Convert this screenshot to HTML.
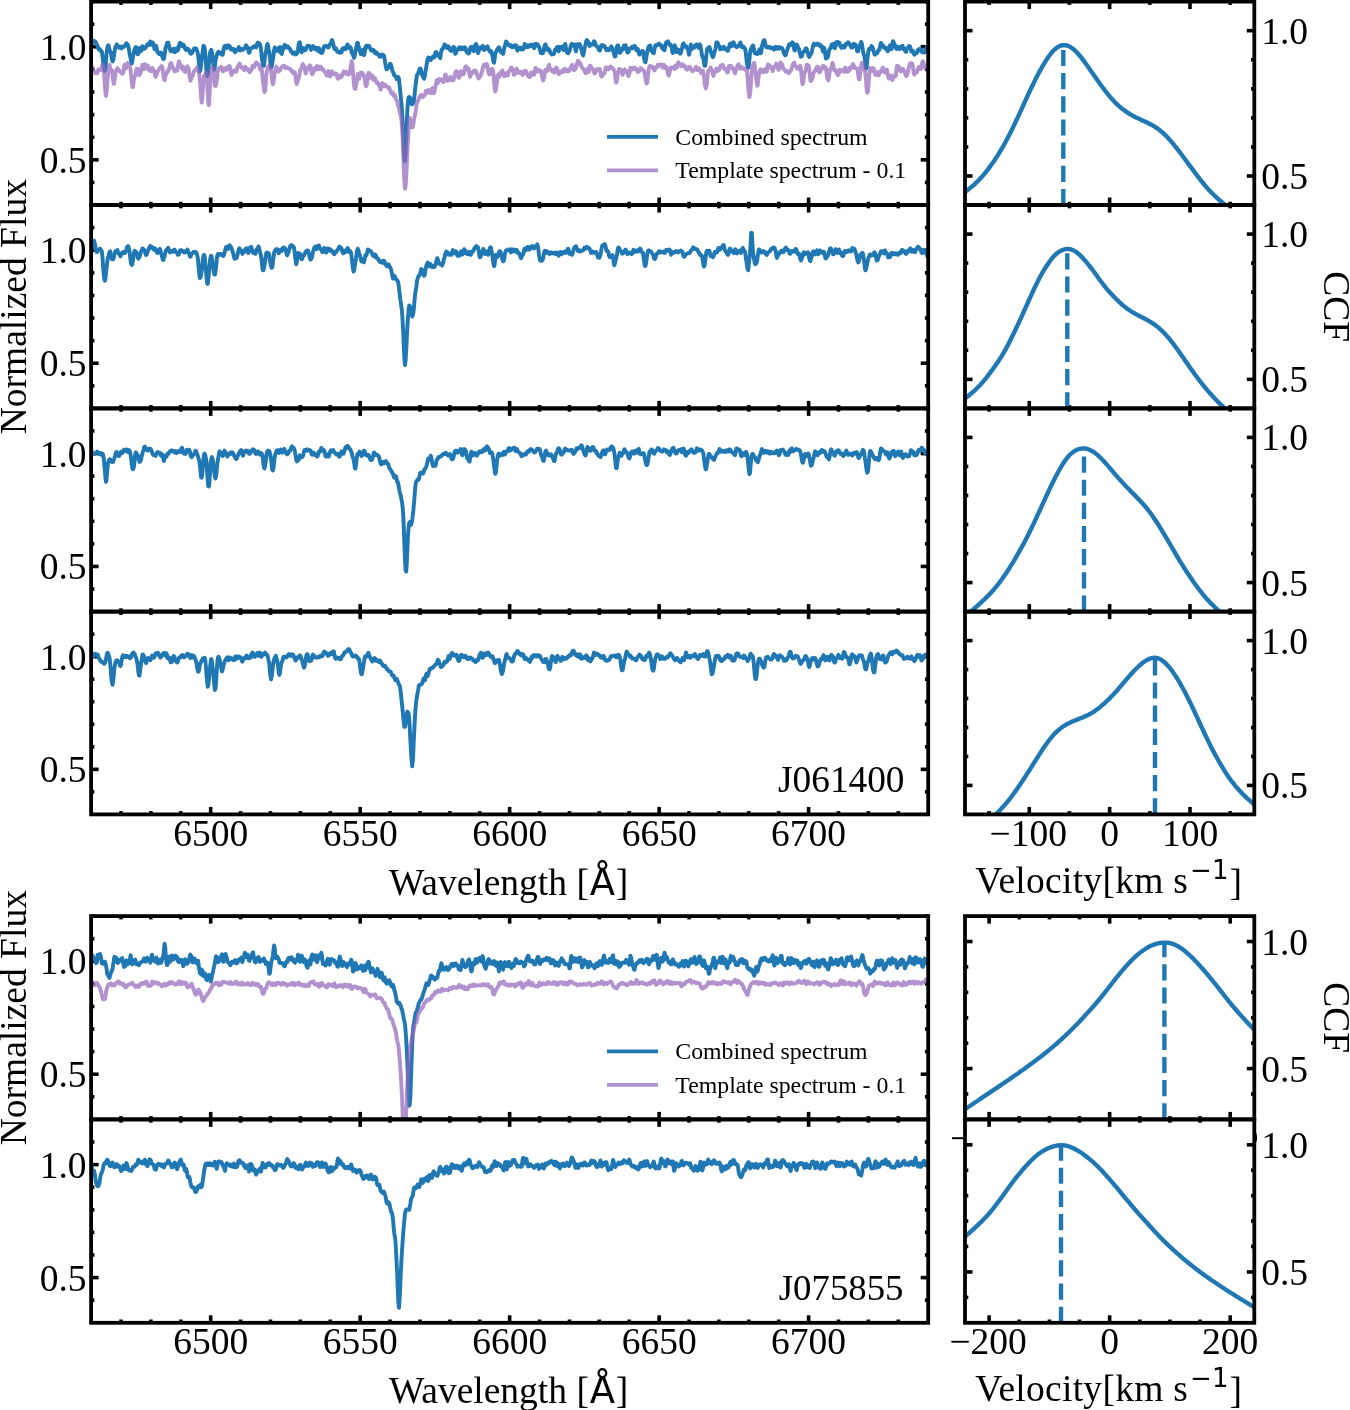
<!DOCTYPE html>
<html lang="en"><head><meta charset="utf-8"><title>Spectra and CCF</title>
<style>html,body{margin:0;padding:0;background:#fff}svg{display:block}</style></head>
<body>
<svg width="1350" height="1410" viewBox="0 0 1350 1410">
<rect x="0" y="0" width="1350" height="1410" fill="#fff"/>
<defs>
<clipPath id="cl0"><rect x="91.1" y="1.6" width="837.10" height="203.45"/></clipPath>
<clipPath id="cr0"><rect x="965.0" y="1.6" width="289.30" height="203.45"/></clipPath>
<clipPath id="cl1"><rect x="91.1" y="205.05" width="837.10" height="203.35"/></clipPath>
<clipPath id="cr1"><rect x="965.0" y="205.05" width="289.30" height="203.35"/></clipPath>
<clipPath id="cl2"><rect x="91.1" y="408.4" width="837.10" height="203.20"/></clipPath>
<clipPath id="cr2"><rect x="965.0" y="408.4" width="289.30" height="203.20"/></clipPath>
<clipPath id="cl3"><rect x="91.1" y="611.6" width="837.10" height="202.80"/></clipPath>
<clipPath id="cr3"><rect x="965.0" y="611.6" width="289.30" height="202.80"/></clipPath>
<clipPath id="cl4"><rect x="91.1" y="916.1" width="837.10" height="203.30"/></clipPath>
<clipPath id="cr4"><rect x="965.0" y="916.1" width="289.30" height="203.30"/></clipPath>
<clipPath id="cl5"><rect x="91.1" y="1119.4" width="837.10" height="203.40"/></clipPath>
<clipPath id="cr5"><rect x="965.0" y="1119.4" width="289.30" height="203.40"/></clipPath>
</defs>
<g id="ticks">
<line x1="210.69" y1="205.05" x2="210.69" y2="197.55" stroke="#000" stroke-width="3.6" />
<line x1="210.69" y1="1.60" x2="210.69" y2="9.10" stroke="#000" stroke-width="3.6" />
<line x1="360.17" y1="205.05" x2="360.17" y2="197.55" stroke="#000" stroke-width="3.6" />
<line x1="360.17" y1="1.60" x2="360.17" y2="9.10" stroke="#000" stroke-width="3.6" />
<line x1="509.65" y1="205.05" x2="509.65" y2="197.55" stroke="#000" stroke-width="3.6" />
<line x1="509.65" y1="1.60" x2="509.65" y2="9.10" stroke="#000" stroke-width="3.6" />
<line x1="659.13" y1="205.05" x2="659.13" y2="197.55" stroke="#000" stroke-width="3.6" />
<line x1="659.13" y1="1.60" x2="659.13" y2="9.10" stroke="#000" stroke-width="3.6" />
<line x1="808.61" y1="205.05" x2="808.61" y2="197.55" stroke="#000" stroke-width="3.6" />
<line x1="808.61" y1="1.60" x2="808.61" y2="9.10" stroke="#000" stroke-width="3.6" />
<line x1="121.00" y1="205.05" x2="121.00" y2="201.75" stroke="#000" stroke-width="3.6" />
<line x1="121.00" y1="1.60" x2="121.00" y2="4.90" stroke="#000" stroke-width="3.6" />
<line x1="150.89" y1="205.05" x2="150.89" y2="201.75" stroke="#000" stroke-width="3.6" />
<line x1="150.89" y1="1.60" x2="150.89" y2="4.90" stroke="#000" stroke-width="3.6" />
<line x1="180.79" y1="205.05" x2="180.79" y2="201.75" stroke="#000" stroke-width="3.6" />
<line x1="180.79" y1="1.60" x2="180.79" y2="4.90" stroke="#000" stroke-width="3.6" />
<line x1="240.58" y1="205.05" x2="240.58" y2="201.75" stroke="#000" stroke-width="3.6" />
<line x1="240.58" y1="1.60" x2="240.58" y2="4.90" stroke="#000" stroke-width="3.6" />
<line x1="270.48" y1="205.05" x2="270.48" y2="201.75" stroke="#000" stroke-width="3.6" />
<line x1="270.48" y1="1.60" x2="270.48" y2="4.90" stroke="#000" stroke-width="3.6" />
<line x1="300.38" y1="205.05" x2="300.38" y2="201.75" stroke="#000" stroke-width="3.6" />
<line x1="300.38" y1="1.60" x2="300.38" y2="4.90" stroke="#000" stroke-width="3.6" />
<line x1="330.27" y1="205.05" x2="330.27" y2="201.75" stroke="#000" stroke-width="3.6" />
<line x1="330.27" y1="1.60" x2="330.27" y2="4.90" stroke="#000" stroke-width="3.6" />
<line x1="390.06" y1="205.05" x2="390.06" y2="201.75" stroke="#000" stroke-width="3.6" />
<line x1="390.06" y1="1.60" x2="390.06" y2="4.90" stroke="#000" stroke-width="3.6" />
<line x1="419.96" y1="205.05" x2="419.96" y2="201.75" stroke="#000" stroke-width="3.6" />
<line x1="419.96" y1="1.60" x2="419.96" y2="4.90" stroke="#000" stroke-width="3.6" />
<line x1="449.86" y1="205.05" x2="449.86" y2="201.75" stroke="#000" stroke-width="3.6" />
<line x1="449.86" y1="1.60" x2="449.86" y2="4.90" stroke="#000" stroke-width="3.6" />
<line x1="479.75" y1="205.05" x2="479.75" y2="201.75" stroke="#000" stroke-width="3.6" />
<line x1="479.75" y1="1.60" x2="479.75" y2="4.90" stroke="#000" stroke-width="3.6" />
<line x1="539.55" y1="205.05" x2="539.55" y2="201.75" stroke="#000" stroke-width="3.6" />
<line x1="539.55" y1="1.60" x2="539.55" y2="4.90" stroke="#000" stroke-width="3.6" />
<line x1="569.44" y1="205.05" x2="569.44" y2="201.75" stroke="#000" stroke-width="3.6" />
<line x1="569.44" y1="1.60" x2="569.44" y2="4.90" stroke="#000" stroke-width="3.6" />
<line x1="599.34" y1="205.05" x2="599.34" y2="201.75" stroke="#000" stroke-width="3.6" />
<line x1="599.34" y1="1.60" x2="599.34" y2="4.90" stroke="#000" stroke-width="3.6" />
<line x1="629.24" y1="205.05" x2="629.24" y2="201.75" stroke="#000" stroke-width="3.6" />
<line x1="629.24" y1="1.60" x2="629.24" y2="4.90" stroke="#000" stroke-width="3.6" />
<line x1="689.03" y1="205.05" x2="689.03" y2="201.75" stroke="#000" stroke-width="3.6" />
<line x1="689.03" y1="1.60" x2="689.03" y2="4.90" stroke="#000" stroke-width="3.6" />
<line x1="718.93" y1="205.05" x2="718.93" y2="201.75" stroke="#000" stroke-width="3.6" />
<line x1="718.93" y1="1.60" x2="718.93" y2="4.90" stroke="#000" stroke-width="3.6" />
<line x1="748.82" y1="205.05" x2="748.82" y2="201.75" stroke="#000" stroke-width="3.6" />
<line x1="748.82" y1="1.60" x2="748.82" y2="4.90" stroke="#000" stroke-width="3.6" />
<line x1="778.72" y1="205.05" x2="778.72" y2="201.75" stroke="#000" stroke-width="3.6" />
<line x1="778.72" y1="1.60" x2="778.72" y2="4.90" stroke="#000" stroke-width="3.6" />
<line x1="838.51" y1="205.05" x2="838.51" y2="201.75" stroke="#000" stroke-width="3.6" />
<line x1="838.51" y1="1.60" x2="838.51" y2="4.90" stroke="#000" stroke-width="3.6" />
<line x1="868.41" y1="205.05" x2="868.41" y2="201.75" stroke="#000" stroke-width="3.6" />
<line x1="868.41" y1="1.60" x2="868.41" y2="4.90" stroke="#000" stroke-width="3.6" />
<line x1="898.30" y1="205.05" x2="898.30" y2="201.75" stroke="#000" stroke-width="3.6" />
<line x1="898.30" y1="1.60" x2="898.30" y2="4.90" stroke="#000" stroke-width="3.6" />
<line x1="91.10" y1="159.84" x2="98.60" y2="159.84" stroke="#000" stroke-width="3.6" />
<line x1="928.20" y1="159.84" x2="920.70" y2="159.84" stroke="#000" stroke-width="3.6" />
<line x1="91.10" y1="46.81" x2="98.60" y2="46.81" stroke="#000" stroke-width="3.6" />
<line x1="928.20" y1="46.81" x2="920.70" y2="46.81" stroke="#000" stroke-width="3.6" />
<line x1="91.10" y1="182.44" x2="94.40" y2="182.44" stroke="#000" stroke-width="3.6" />
<line x1="928.20" y1="182.44" x2="924.90" y2="182.44" stroke="#000" stroke-width="3.6" />
<line x1="91.10" y1="137.23" x2="94.40" y2="137.23" stroke="#000" stroke-width="3.6" />
<line x1="928.20" y1="137.23" x2="924.90" y2="137.23" stroke="#000" stroke-width="3.6" />
<line x1="91.10" y1="114.63" x2="94.40" y2="114.63" stroke="#000" stroke-width="3.6" />
<line x1="928.20" y1="114.63" x2="924.90" y2="114.63" stroke="#000" stroke-width="3.6" />
<line x1="91.10" y1="92.02" x2="94.40" y2="92.02" stroke="#000" stroke-width="3.6" />
<line x1="928.20" y1="92.02" x2="924.90" y2="92.02" stroke="#000" stroke-width="3.6" />
<line x1="91.10" y1="69.42" x2="94.40" y2="69.42" stroke="#000" stroke-width="3.6" />
<line x1="928.20" y1="69.42" x2="924.90" y2="69.42" stroke="#000" stroke-width="3.6" />
<line x1="91.10" y1="24.21" x2="94.40" y2="24.21" stroke="#000" stroke-width="3.6" />
<line x1="928.20" y1="24.21" x2="924.90" y2="24.21" stroke="#000" stroke-width="3.6" />
<line x1="91.10" y1="1.60" x2="94.40" y2="1.60" stroke="#000" stroke-width="3.6" />
<line x1="928.20" y1="1.60" x2="924.90" y2="1.60" stroke="#000" stroke-width="3.6" />
<line x1="210.69" y1="408.40" x2="210.69" y2="400.90" stroke="#000" stroke-width="3.6" />
<line x1="210.69" y1="205.05" x2="210.69" y2="212.55" stroke="#000" stroke-width="3.6" />
<line x1="360.17" y1="408.40" x2="360.17" y2="400.90" stroke="#000" stroke-width="3.6" />
<line x1="360.17" y1="205.05" x2="360.17" y2="212.55" stroke="#000" stroke-width="3.6" />
<line x1="509.65" y1="408.40" x2="509.65" y2="400.90" stroke="#000" stroke-width="3.6" />
<line x1="509.65" y1="205.05" x2="509.65" y2="212.55" stroke="#000" stroke-width="3.6" />
<line x1="659.13" y1="408.40" x2="659.13" y2="400.90" stroke="#000" stroke-width="3.6" />
<line x1="659.13" y1="205.05" x2="659.13" y2="212.55" stroke="#000" stroke-width="3.6" />
<line x1="808.61" y1="408.40" x2="808.61" y2="400.90" stroke="#000" stroke-width="3.6" />
<line x1="808.61" y1="205.05" x2="808.61" y2="212.55" stroke="#000" stroke-width="3.6" />
<line x1="121.00" y1="408.40" x2="121.00" y2="405.10" stroke="#000" stroke-width="3.6" />
<line x1="121.00" y1="205.05" x2="121.00" y2="208.35" stroke="#000" stroke-width="3.6" />
<line x1="150.89" y1="408.40" x2="150.89" y2="405.10" stroke="#000" stroke-width="3.6" />
<line x1="150.89" y1="205.05" x2="150.89" y2="208.35" stroke="#000" stroke-width="3.6" />
<line x1="180.79" y1="408.40" x2="180.79" y2="405.10" stroke="#000" stroke-width="3.6" />
<line x1="180.79" y1="205.05" x2="180.79" y2="208.35" stroke="#000" stroke-width="3.6" />
<line x1="240.58" y1="408.40" x2="240.58" y2="405.10" stroke="#000" stroke-width="3.6" />
<line x1="240.58" y1="205.05" x2="240.58" y2="208.35" stroke="#000" stroke-width="3.6" />
<line x1="270.48" y1="408.40" x2="270.48" y2="405.10" stroke="#000" stroke-width="3.6" />
<line x1="270.48" y1="205.05" x2="270.48" y2="208.35" stroke="#000" stroke-width="3.6" />
<line x1="300.38" y1="408.40" x2="300.38" y2="405.10" stroke="#000" stroke-width="3.6" />
<line x1="300.38" y1="205.05" x2="300.38" y2="208.35" stroke="#000" stroke-width="3.6" />
<line x1="330.27" y1="408.40" x2="330.27" y2="405.10" stroke="#000" stroke-width="3.6" />
<line x1="330.27" y1="205.05" x2="330.27" y2="208.35" stroke="#000" stroke-width="3.6" />
<line x1="390.06" y1="408.40" x2="390.06" y2="405.10" stroke="#000" stroke-width="3.6" />
<line x1="390.06" y1="205.05" x2="390.06" y2="208.35" stroke="#000" stroke-width="3.6" />
<line x1="419.96" y1="408.40" x2="419.96" y2="405.10" stroke="#000" stroke-width="3.6" />
<line x1="419.96" y1="205.05" x2="419.96" y2="208.35" stroke="#000" stroke-width="3.6" />
<line x1="449.86" y1="408.40" x2="449.86" y2="405.10" stroke="#000" stroke-width="3.6" />
<line x1="449.86" y1="205.05" x2="449.86" y2="208.35" stroke="#000" stroke-width="3.6" />
<line x1="479.75" y1="408.40" x2="479.75" y2="405.10" stroke="#000" stroke-width="3.6" />
<line x1="479.75" y1="205.05" x2="479.75" y2="208.35" stroke="#000" stroke-width="3.6" />
<line x1="539.55" y1="408.40" x2="539.55" y2="405.10" stroke="#000" stroke-width="3.6" />
<line x1="539.55" y1="205.05" x2="539.55" y2="208.35" stroke="#000" stroke-width="3.6" />
<line x1="569.44" y1="408.40" x2="569.44" y2="405.10" stroke="#000" stroke-width="3.6" />
<line x1="569.44" y1="205.05" x2="569.44" y2="208.35" stroke="#000" stroke-width="3.6" />
<line x1="599.34" y1="408.40" x2="599.34" y2="405.10" stroke="#000" stroke-width="3.6" />
<line x1="599.34" y1="205.05" x2="599.34" y2="208.35" stroke="#000" stroke-width="3.6" />
<line x1="629.24" y1="408.40" x2="629.24" y2="405.10" stroke="#000" stroke-width="3.6" />
<line x1="629.24" y1="205.05" x2="629.24" y2="208.35" stroke="#000" stroke-width="3.6" />
<line x1="689.03" y1="408.40" x2="689.03" y2="405.10" stroke="#000" stroke-width="3.6" />
<line x1="689.03" y1="205.05" x2="689.03" y2="208.35" stroke="#000" stroke-width="3.6" />
<line x1="718.93" y1="408.40" x2="718.93" y2="405.10" stroke="#000" stroke-width="3.6" />
<line x1="718.93" y1="205.05" x2="718.93" y2="208.35" stroke="#000" stroke-width="3.6" />
<line x1="748.82" y1="408.40" x2="748.82" y2="405.10" stroke="#000" stroke-width="3.6" />
<line x1="748.82" y1="205.05" x2="748.82" y2="208.35" stroke="#000" stroke-width="3.6" />
<line x1="778.72" y1="408.40" x2="778.72" y2="405.10" stroke="#000" stroke-width="3.6" />
<line x1="778.72" y1="205.05" x2="778.72" y2="208.35" stroke="#000" stroke-width="3.6" />
<line x1="838.51" y1="408.40" x2="838.51" y2="405.10" stroke="#000" stroke-width="3.6" />
<line x1="838.51" y1="205.05" x2="838.51" y2="208.35" stroke="#000" stroke-width="3.6" />
<line x1="868.41" y1="408.40" x2="868.41" y2="405.10" stroke="#000" stroke-width="3.6" />
<line x1="868.41" y1="205.05" x2="868.41" y2="208.35" stroke="#000" stroke-width="3.6" />
<line x1="898.30" y1="408.40" x2="898.30" y2="405.10" stroke="#000" stroke-width="3.6" />
<line x1="898.30" y1="205.05" x2="898.30" y2="208.35" stroke="#000" stroke-width="3.6" />
<line x1="91.10" y1="363.21" x2="98.60" y2="363.21" stroke="#000" stroke-width="3.6" />
<line x1="928.20" y1="363.21" x2="920.70" y2="363.21" stroke="#000" stroke-width="3.6" />
<line x1="91.10" y1="250.24" x2="98.60" y2="250.24" stroke="#000" stroke-width="3.6" />
<line x1="928.20" y1="250.24" x2="920.70" y2="250.24" stroke="#000" stroke-width="3.6" />
<line x1="91.10" y1="385.81" x2="94.40" y2="385.81" stroke="#000" stroke-width="3.6" />
<line x1="928.20" y1="385.81" x2="924.90" y2="385.81" stroke="#000" stroke-width="3.6" />
<line x1="91.10" y1="340.62" x2="94.40" y2="340.62" stroke="#000" stroke-width="3.6" />
<line x1="928.20" y1="340.62" x2="924.90" y2="340.62" stroke="#000" stroke-width="3.6" />
<line x1="91.10" y1="318.02" x2="94.40" y2="318.02" stroke="#000" stroke-width="3.6" />
<line x1="928.20" y1="318.02" x2="924.90" y2="318.02" stroke="#000" stroke-width="3.6" />
<line x1="91.10" y1="295.43" x2="94.40" y2="295.43" stroke="#000" stroke-width="3.6" />
<line x1="928.20" y1="295.43" x2="924.90" y2="295.43" stroke="#000" stroke-width="3.6" />
<line x1="91.10" y1="272.83" x2="94.40" y2="272.83" stroke="#000" stroke-width="3.6" />
<line x1="928.20" y1="272.83" x2="924.90" y2="272.83" stroke="#000" stroke-width="3.6" />
<line x1="91.10" y1="227.64" x2="94.40" y2="227.64" stroke="#000" stroke-width="3.6" />
<line x1="928.20" y1="227.64" x2="924.90" y2="227.64" stroke="#000" stroke-width="3.6" />
<line x1="91.10" y1="205.05" x2="94.40" y2="205.05" stroke="#000" stroke-width="3.6" />
<line x1="928.20" y1="205.05" x2="924.90" y2="205.05" stroke="#000" stroke-width="3.6" />
<line x1="210.69" y1="611.60" x2="210.69" y2="604.10" stroke="#000" stroke-width="3.6" />
<line x1="210.69" y1="408.40" x2="210.69" y2="415.90" stroke="#000" stroke-width="3.6" />
<line x1="360.17" y1="611.60" x2="360.17" y2="604.10" stroke="#000" stroke-width="3.6" />
<line x1="360.17" y1="408.40" x2="360.17" y2="415.90" stroke="#000" stroke-width="3.6" />
<line x1="509.65" y1="611.60" x2="509.65" y2="604.10" stroke="#000" stroke-width="3.6" />
<line x1="509.65" y1="408.40" x2="509.65" y2="415.90" stroke="#000" stroke-width="3.6" />
<line x1="659.13" y1="611.60" x2="659.13" y2="604.10" stroke="#000" stroke-width="3.6" />
<line x1="659.13" y1="408.40" x2="659.13" y2="415.90" stroke="#000" stroke-width="3.6" />
<line x1="808.61" y1="611.60" x2="808.61" y2="604.10" stroke="#000" stroke-width="3.6" />
<line x1="808.61" y1="408.40" x2="808.61" y2="415.90" stroke="#000" stroke-width="3.6" />
<line x1="121.00" y1="611.60" x2="121.00" y2="608.30" stroke="#000" stroke-width="3.6" />
<line x1="121.00" y1="408.40" x2="121.00" y2="411.70" stroke="#000" stroke-width="3.6" />
<line x1="150.89" y1="611.60" x2="150.89" y2="608.30" stroke="#000" stroke-width="3.6" />
<line x1="150.89" y1="408.40" x2="150.89" y2="411.70" stroke="#000" stroke-width="3.6" />
<line x1="180.79" y1="611.60" x2="180.79" y2="608.30" stroke="#000" stroke-width="3.6" />
<line x1="180.79" y1="408.40" x2="180.79" y2="411.70" stroke="#000" stroke-width="3.6" />
<line x1="240.58" y1="611.60" x2="240.58" y2="608.30" stroke="#000" stroke-width="3.6" />
<line x1="240.58" y1="408.40" x2="240.58" y2="411.70" stroke="#000" stroke-width="3.6" />
<line x1="270.48" y1="611.60" x2="270.48" y2="608.30" stroke="#000" stroke-width="3.6" />
<line x1="270.48" y1="408.40" x2="270.48" y2="411.70" stroke="#000" stroke-width="3.6" />
<line x1="300.38" y1="611.60" x2="300.38" y2="608.30" stroke="#000" stroke-width="3.6" />
<line x1="300.38" y1="408.40" x2="300.38" y2="411.70" stroke="#000" stroke-width="3.6" />
<line x1="330.27" y1="611.60" x2="330.27" y2="608.30" stroke="#000" stroke-width="3.6" />
<line x1="330.27" y1="408.40" x2="330.27" y2="411.70" stroke="#000" stroke-width="3.6" />
<line x1="390.06" y1="611.60" x2="390.06" y2="608.30" stroke="#000" stroke-width="3.6" />
<line x1="390.06" y1="408.40" x2="390.06" y2="411.70" stroke="#000" stroke-width="3.6" />
<line x1="419.96" y1="611.60" x2="419.96" y2="608.30" stroke="#000" stroke-width="3.6" />
<line x1="419.96" y1="408.40" x2="419.96" y2="411.70" stroke="#000" stroke-width="3.6" />
<line x1="449.86" y1="611.60" x2="449.86" y2="608.30" stroke="#000" stroke-width="3.6" />
<line x1="449.86" y1="408.40" x2="449.86" y2="411.70" stroke="#000" stroke-width="3.6" />
<line x1="479.75" y1="611.60" x2="479.75" y2="608.30" stroke="#000" stroke-width="3.6" />
<line x1="479.75" y1="408.40" x2="479.75" y2="411.70" stroke="#000" stroke-width="3.6" />
<line x1="539.55" y1="611.60" x2="539.55" y2="608.30" stroke="#000" stroke-width="3.6" />
<line x1="539.55" y1="408.40" x2="539.55" y2="411.70" stroke="#000" stroke-width="3.6" />
<line x1="569.44" y1="611.60" x2="569.44" y2="608.30" stroke="#000" stroke-width="3.6" />
<line x1="569.44" y1="408.40" x2="569.44" y2="411.70" stroke="#000" stroke-width="3.6" />
<line x1="599.34" y1="611.60" x2="599.34" y2="608.30" stroke="#000" stroke-width="3.6" />
<line x1="599.34" y1="408.40" x2="599.34" y2="411.70" stroke="#000" stroke-width="3.6" />
<line x1="629.24" y1="611.60" x2="629.24" y2="608.30" stroke="#000" stroke-width="3.6" />
<line x1="629.24" y1="408.40" x2="629.24" y2="411.70" stroke="#000" stroke-width="3.6" />
<line x1="689.03" y1="611.60" x2="689.03" y2="608.30" stroke="#000" stroke-width="3.6" />
<line x1="689.03" y1="408.40" x2="689.03" y2="411.70" stroke="#000" stroke-width="3.6" />
<line x1="718.93" y1="611.60" x2="718.93" y2="608.30" stroke="#000" stroke-width="3.6" />
<line x1="718.93" y1="408.40" x2="718.93" y2="411.70" stroke="#000" stroke-width="3.6" />
<line x1="748.82" y1="611.60" x2="748.82" y2="608.30" stroke="#000" stroke-width="3.6" />
<line x1="748.82" y1="408.40" x2="748.82" y2="411.70" stroke="#000" stroke-width="3.6" />
<line x1="778.72" y1="611.60" x2="778.72" y2="608.30" stroke="#000" stroke-width="3.6" />
<line x1="778.72" y1="408.40" x2="778.72" y2="411.70" stroke="#000" stroke-width="3.6" />
<line x1="838.51" y1="611.60" x2="838.51" y2="608.30" stroke="#000" stroke-width="3.6" />
<line x1="838.51" y1="408.40" x2="838.51" y2="411.70" stroke="#000" stroke-width="3.6" />
<line x1="868.41" y1="611.60" x2="868.41" y2="608.30" stroke="#000" stroke-width="3.6" />
<line x1="868.41" y1="408.40" x2="868.41" y2="411.70" stroke="#000" stroke-width="3.6" />
<line x1="898.30" y1="611.60" x2="898.30" y2="608.30" stroke="#000" stroke-width="3.6" />
<line x1="898.30" y1="408.40" x2="898.30" y2="411.70" stroke="#000" stroke-width="3.6" />
<line x1="91.10" y1="566.44" x2="98.60" y2="566.44" stroke="#000" stroke-width="3.6" />
<line x1="928.20" y1="566.44" x2="920.70" y2="566.44" stroke="#000" stroke-width="3.6" />
<line x1="91.10" y1="453.56" x2="98.60" y2="453.56" stroke="#000" stroke-width="3.6" />
<line x1="928.20" y1="453.56" x2="920.70" y2="453.56" stroke="#000" stroke-width="3.6" />
<line x1="91.10" y1="589.02" x2="94.40" y2="589.02" stroke="#000" stroke-width="3.6" />
<line x1="928.20" y1="589.02" x2="924.90" y2="589.02" stroke="#000" stroke-width="3.6" />
<line x1="91.10" y1="543.87" x2="94.40" y2="543.87" stroke="#000" stroke-width="3.6" />
<line x1="928.20" y1="543.87" x2="924.90" y2="543.87" stroke="#000" stroke-width="3.6" />
<line x1="91.10" y1="521.29" x2="94.40" y2="521.29" stroke="#000" stroke-width="3.6" />
<line x1="928.20" y1="521.29" x2="924.90" y2="521.29" stroke="#000" stroke-width="3.6" />
<line x1="91.10" y1="498.71" x2="94.40" y2="498.71" stroke="#000" stroke-width="3.6" />
<line x1="928.20" y1="498.71" x2="924.90" y2="498.71" stroke="#000" stroke-width="3.6" />
<line x1="91.10" y1="476.13" x2="94.40" y2="476.13" stroke="#000" stroke-width="3.6" />
<line x1="928.20" y1="476.13" x2="924.90" y2="476.13" stroke="#000" stroke-width="3.6" />
<line x1="91.10" y1="430.98" x2="94.40" y2="430.98" stroke="#000" stroke-width="3.6" />
<line x1="928.20" y1="430.98" x2="924.90" y2="430.98" stroke="#000" stroke-width="3.6" />
<line x1="91.10" y1="408.40" x2="94.40" y2="408.40" stroke="#000" stroke-width="3.6" />
<line x1="928.20" y1="408.40" x2="924.90" y2="408.40" stroke="#000" stroke-width="3.6" />
<line x1="210.69" y1="814.40" x2="210.69" y2="806.90" stroke="#000" stroke-width="3.6" />
<line x1="210.69" y1="611.60" x2="210.69" y2="619.10" stroke="#000" stroke-width="3.6" />
<line x1="360.17" y1="814.40" x2="360.17" y2="806.90" stroke="#000" stroke-width="3.6" />
<line x1="360.17" y1="611.60" x2="360.17" y2="619.10" stroke="#000" stroke-width="3.6" />
<line x1="509.65" y1="814.40" x2="509.65" y2="806.90" stroke="#000" stroke-width="3.6" />
<line x1="509.65" y1="611.60" x2="509.65" y2="619.10" stroke="#000" stroke-width="3.6" />
<line x1="659.13" y1="814.40" x2="659.13" y2="806.90" stroke="#000" stroke-width="3.6" />
<line x1="659.13" y1="611.60" x2="659.13" y2="619.10" stroke="#000" stroke-width="3.6" />
<line x1="808.61" y1="814.40" x2="808.61" y2="806.90" stroke="#000" stroke-width="3.6" />
<line x1="808.61" y1="611.60" x2="808.61" y2="619.10" stroke="#000" stroke-width="3.6" />
<line x1="121.00" y1="814.40" x2="121.00" y2="811.10" stroke="#000" stroke-width="3.6" />
<line x1="121.00" y1="611.60" x2="121.00" y2="614.90" stroke="#000" stroke-width="3.6" />
<line x1="150.89" y1="814.40" x2="150.89" y2="811.10" stroke="#000" stroke-width="3.6" />
<line x1="150.89" y1="611.60" x2="150.89" y2="614.90" stroke="#000" stroke-width="3.6" />
<line x1="180.79" y1="814.40" x2="180.79" y2="811.10" stroke="#000" stroke-width="3.6" />
<line x1="180.79" y1="611.60" x2="180.79" y2="614.90" stroke="#000" stroke-width="3.6" />
<line x1="240.58" y1="814.40" x2="240.58" y2="811.10" stroke="#000" stroke-width="3.6" />
<line x1="240.58" y1="611.60" x2="240.58" y2="614.90" stroke="#000" stroke-width="3.6" />
<line x1="270.48" y1="814.40" x2="270.48" y2="811.10" stroke="#000" stroke-width="3.6" />
<line x1="270.48" y1="611.60" x2="270.48" y2="614.90" stroke="#000" stroke-width="3.6" />
<line x1="300.38" y1="814.40" x2="300.38" y2="811.10" stroke="#000" stroke-width="3.6" />
<line x1="300.38" y1="611.60" x2="300.38" y2="614.90" stroke="#000" stroke-width="3.6" />
<line x1="330.27" y1="814.40" x2="330.27" y2="811.10" stroke="#000" stroke-width="3.6" />
<line x1="330.27" y1="611.60" x2="330.27" y2="614.90" stroke="#000" stroke-width="3.6" />
<line x1="390.06" y1="814.40" x2="390.06" y2="811.10" stroke="#000" stroke-width="3.6" />
<line x1="390.06" y1="611.60" x2="390.06" y2="614.90" stroke="#000" stroke-width="3.6" />
<line x1="419.96" y1="814.40" x2="419.96" y2="811.10" stroke="#000" stroke-width="3.6" />
<line x1="419.96" y1="611.60" x2="419.96" y2="614.90" stroke="#000" stroke-width="3.6" />
<line x1="449.86" y1="814.40" x2="449.86" y2="811.10" stroke="#000" stroke-width="3.6" />
<line x1="449.86" y1="611.60" x2="449.86" y2="614.90" stroke="#000" stroke-width="3.6" />
<line x1="479.75" y1="814.40" x2="479.75" y2="811.10" stroke="#000" stroke-width="3.6" />
<line x1="479.75" y1="611.60" x2="479.75" y2="614.90" stroke="#000" stroke-width="3.6" />
<line x1="539.55" y1="814.40" x2="539.55" y2="811.10" stroke="#000" stroke-width="3.6" />
<line x1="539.55" y1="611.60" x2="539.55" y2="614.90" stroke="#000" stroke-width="3.6" />
<line x1="569.44" y1="814.40" x2="569.44" y2="811.10" stroke="#000" stroke-width="3.6" />
<line x1="569.44" y1="611.60" x2="569.44" y2="614.90" stroke="#000" stroke-width="3.6" />
<line x1="599.34" y1="814.40" x2="599.34" y2="811.10" stroke="#000" stroke-width="3.6" />
<line x1="599.34" y1="611.60" x2="599.34" y2="614.90" stroke="#000" stroke-width="3.6" />
<line x1="629.24" y1="814.40" x2="629.24" y2="811.10" stroke="#000" stroke-width="3.6" />
<line x1="629.24" y1="611.60" x2="629.24" y2="614.90" stroke="#000" stroke-width="3.6" />
<line x1="689.03" y1="814.40" x2="689.03" y2="811.10" stroke="#000" stroke-width="3.6" />
<line x1="689.03" y1="611.60" x2="689.03" y2="614.90" stroke="#000" stroke-width="3.6" />
<line x1="718.93" y1="814.40" x2="718.93" y2="811.10" stroke="#000" stroke-width="3.6" />
<line x1="718.93" y1="611.60" x2="718.93" y2="614.90" stroke="#000" stroke-width="3.6" />
<line x1="748.82" y1="814.40" x2="748.82" y2="811.10" stroke="#000" stroke-width="3.6" />
<line x1="748.82" y1="611.60" x2="748.82" y2="614.90" stroke="#000" stroke-width="3.6" />
<line x1="778.72" y1="814.40" x2="778.72" y2="811.10" stroke="#000" stroke-width="3.6" />
<line x1="778.72" y1="611.60" x2="778.72" y2="614.90" stroke="#000" stroke-width="3.6" />
<line x1="838.51" y1="814.40" x2="838.51" y2="811.10" stroke="#000" stroke-width="3.6" />
<line x1="838.51" y1="611.60" x2="838.51" y2="614.90" stroke="#000" stroke-width="3.6" />
<line x1="868.41" y1="814.40" x2="868.41" y2="811.10" stroke="#000" stroke-width="3.6" />
<line x1="868.41" y1="611.60" x2="868.41" y2="614.90" stroke="#000" stroke-width="3.6" />
<line x1="898.30" y1="814.40" x2="898.30" y2="811.10" stroke="#000" stroke-width="3.6" />
<line x1="898.30" y1="611.60" x2="898.30" y2="614.90" stroke="#000" stroke-width="3.6" />
<line x1="91.10" y1="769.33" x2="98.60" y2="769.33" stroke="#000" stroke-width="3.6" />
<line x1="928.20" y1="769.33" x2="920.70" y2="769.33" stroke="#000" stroke-width="3.6" />
<line x1="91.10" y1="656.67" x2="98.60" y2="656.67" stroke="#000" stroke-width="3.6" />
<line x1="928.20" y1="656.67" x2="920.70" y2="656.67" stroke="#000" stroke-width="3.6" />
<line x1="91.10" y1="791.87" x2="94.40" y2="791.87" stroke="#000" stroke-width="3.6" />
<line x1="928.20" y1="791.87" x2="924.90" y2="791.87" stroke="#000" stroke-width="3.6" />
<line x1="91.10" y1="746.80" x2="94.40" y2="746.80" stroke="#000" stroke-width="3.6" />
<line x1="928.20" y1="746.80" x2="924.90" y2="746.80" stroke="#000" stroke-width="3.6" />
<line x1="91.10" y1="724.27" x2="94.40" y2="724.27" stroke="#000" stroke-width="3.6" />
<line x1="928.20" y1="724.27" x2="924.90" y2="724.27" stroke="#000" stroke-width="3.6" />
<line x1="91.10" y1="701.73" x2="94.40" y2="701.73" stroke="#000" stroke-width="3.6" />
<line x1="928.20" y1="701.73" x2="924.90" y2="701.73" stroke="#000" stroke-width="3.6" />
<line x1="91.10" y1="679.20" x2="94.40" y2="679.20" stroke="#000" stroke-width="3.6" />
<line x1="928.20" y1="679.20" x2="924.90" y2="679.20" stroke="#000" stroke-width="3.6" />
<line x1="91.10" y1="634.13" x2="94.40" y2="634.13" stroke="#000" stroke-width="3.6" />
<line x1="928.20" y1="634.13" x2="924.90" y2="634.13" stroke="#000" stroke-width="3.6" />
<line x1="91.10" y1="611.60" x2="94.40" y2="611.60" stroke="#000" stroke-width="3.6" />
<line x1="928.20" y1="611.60" x2="924.90" y2="611.60" stroke="#000" stroke-width="3.6" />
<line x1="210.69" y1="1119.40" x2="210.69" y2="1111.90" stroke="#000" stroke-width="3.6" />
<line x1="210.69" y1="916.10" x2="210.69" y2="923.60" stroke="#000" stroke-width="3.6" />
<line x1="360.17" y1="1119.40" x2="360.17" y2="1111.90" stroke="#000" stroke-width="3.6" />
<line x1="360.17" y1="916.10" x2="360.17" y2="923.60" stroke="#000" stroke-width="3.6" />
<line x1="509.65" y1="1119.40" x2="509.65" y2="1111.90" stroke="#000" stroke-width="3.6" />
<line x1="509.65" y1="916.10" x2="509.65" y2="923.60" stroke="#000" stroke-width="3.6" />
<line x1="659.13" y1="1119.40" x2="659.13" y2="1111.90" stroke="#000" stroke-width="3.6" />
<line x1="659.13" y1="916.10" x2="659.13" y2="923.60" stroke="#000" stroke-width="3.6" />
<line x1="808.61" y1="1119.40" x2="808.61" y2="1111.90" stroke="#000" stroke-width="3.6" />
<line x1="808.61" y1="916.10" x2="808.61" y2="923.60" stroke="#000" stroke-width="3.6" />
<line x1="121.00" y1="1119.40" x2="121.00" y2="1116.10" stroke="#000" stroke-width="3.6" />
<line x1="121.00" y1="916.10" x2="121.00" y2="919.40" stroke="#000" stroke-width="3.6" />
<line x1="150.89" y1="1119.40" x2="150.89" y2="1116.10" stroke="#000" stroke-width="3.6" />
<line x1="150.89" y1="916.10" x2="150.89" y2="919.40" stroke="#000" stroke-width="3.6" />
<line x1="180.79" y1="1119.40" x2="180.79" y2="1116.10" stroke="#000" stroke-width="3.6" />
<line x1="180.79" y1="916.10" x2="180.79" y2="919.40" stroke="#000" stroke-width="3.6" />
<line x1="240.58" y1="1119.40" x2="240.58" y2="1116.10" stroke="#000" stroke-width="3.6" />
<line x1="240.58" y1="916.10" x2="240.58" y2="919.40" stroke="#000" stroke-width="3.6" />
<line x1="270.48" y1="1119.40" x2="270.48" y2="1116.10" stroke="#000" stroke-width="3.6" />
<line x1="270.48" y1="916.10" x2="270.48" y2="919.40" stroke="#000" stroke-width="3.6" />
<line x1="300.38" y1="1119.40" x2="300.38" y2="1116.10" stroke="#000" stroke-width="3.6" />
<line x1="300.38" y1="916.10" x2="300.38" y2="919.40" stroke="#000" stroke-width="3.6" />
<line x1="330.27" y1="1119.40" x2="330.27" y2="1116.10" stroke="#000" stroke-width="3.6" />
<line x1="330.27" y1="916.10" x2="330.27" y2="919.40" stroke="#000" stroke-width="3.6" />
<line x1="390.06" y1="1119.40" x2="390.06" y2="1116.10" stroke="#000" stroke-width="3.6" />
<line x1="390.06" y1="916.10" x2="390.06" y2="919.40" stroke="#000" stroke-width="3.6" />
<line x1="419.96" y1="1119.40" x2="419.96" y2="1116.10" stroke="#000" stroke-width="3.6" />
<line x1="419.96" y1="916.10" x2="419.96" y2="919.40" stroke="#000" stroke-width="3.6" />
<line x1="449.86" y1="1119.40" x2="449.86" y2="1116.10" stroke="#000" stroke-width="3.6" />
<line x1="449.86" y1="916.10" x2="449.86" y2="919.40" stroke="#000" stroke-width="3.6" />
<line x1="479.75" y1="1119.40" x2="479.75" y2="1116.10" stroke="#000" stroke-width="3.6" />
<line x1="479.75" y1="916.10" x2="479.75" y2="919.40" stroke="#000" stroke-width="3.6" />
<line x1="539.55" y1="1119.40" x2="539.55" y2="1116.10" stroke="#000" stroke-width="3.6" />
<line x1="539.55" y1="916.10" x2="539.55" y2="919.40" stroke="#000" stroke-width="3.6" />
<line x1="569.44" y1="1119.40" x2="569.44" y2="1116.10" stroke="#000" stroke-width="3.6" />
<line x1="569.44" y1="916.10" x2="569.44" y2="919.40" stroke="#000" stroke-width="3.6" />
<line x1="599.34" y1="1119.40" x2="599.34" y2="1116.10" stroke="#000" stroke-width="3.6" />
<line x1="599.34" y1="916.10" x2="599.34" y2="919.40" stroke="#000" stroke-width="3.6" />
<line x1="629.24" y1="1119.40" x2="629.24" y2="1116.10" stroke="#000" stroke-width="3.6" />
<line x1="629.24" y1="916.10" x2="629.24" y2="919.40" stroke="#000" stroke-width="3.6" />
<line x1="689.03" y1="1119.40" x2="689.03" y2="1116.10" stroke="#000" stroke-width="3.6" />
<line x1="689.03" y1="916.10" x2="689.03" y2="919.40" stroke="#000" stroke-width="3.6" />
<line x1="718.93" y1="1119.40" x2="718.93" y2="1116.10" stroke="#000" stroke-width="3.6" />
<line x1="718.93" y1="916.10" x2="718.93" y2="919.40" stroke="#000" stroke-width="3.6" />
<line x1="748.82" y1="1119.40" x2="748.82" y2="1116.10" stroke="#000" stroke-width="3.6" />
<line x1="748.82" y1="916.10" x2="748.82" y2="919.40" stroke="#000" stroke-width="3.6" />
<line x1="778.72" y1="1119.40" x2="778.72" y2="1116.10" stroke="#000" stroke-width="3.6" />
<line x1="778.72" y1="916.10" x2="778.72" y2="919.40" stroke="#000" stroke-width="3.6" />
<line x1="838.51" y1="1119.40" x2="838.51" y2="1116.10" stroke="#000" stroke-width="3.6" />
<line x1="838.51" y1="916.10" x2="838.51" y2="919.40" stroke="#000" stroke-width="3.6" />
<line x1="868.41" y1="1119.40" x2="868.41" y2="1116.10" stroke="#000" stroke-width="3.6" />
<line x1="868.41" y1="916.10" x2="868.41" y2="919.40" stroke="#000" stroke-width="3.6" />
<line x1="898.30" y1="1119.40" x2="898.30" y2="1116.10" stroke="#000" stroke-width="3.6" />
<line x1="898.30" y1="916.10" x2="898.30" y2="919.40" stroke="#000" stroke-width="3.6" />
<line x1="91.10" y1="1074.22" x2="98.60" y2="1074.22" stroke="#000" stroke-width="3.6" />
<line x1="928.20" y1="1074.22" x2="920.70" y2="1074.22" stroke="#000" stroke-width="3.6" />
<line x1="91.10" y1="961.28" x2="98.60" y2="961.28" stroke="#000" stroke-width="3.6" />
<line x1="928.20" y1="961.28" x2="920.70" y2="961.28" stroke="#000" stroke-width="3.6" />
<line x1="91.10" y1="1096.81" x2="94.40" y2="1096.81" stroke="#000" stroke-width="3.6" />
<line x1="928.20" y1="1096.81" x2="924.90" y2="1096.81" stroke="#000" stroke-width="3.6" />
<line x1="91.10" y1="1051.63" x2="94.40" y2="1051.63" stroke="#000" stroke-width="3.6" />
<line x1="928.20" y1="1051.63" x2="924.90" y2="1051.63" stroke="#000" stroke-width="3.6" />
<line x1="91.10" y1="1029.04" x2="94.40" y2="1029.04" stroke="#000" stroke-width="3.6" />
<line x1="928.20" y1="1029.04" x2="924.90" y2="1029.04" stroke="#000" stroke-width="3.6" />
<line x1="91.10" y1="1006.46" x2="94.40" y2="1006.46" stroke="#000" stroke-width="3.6" />
<line x1="928.20" y1="1006.46" x2="924.90" y2="1006.46" stroke="#000" stroke-width="3.6" />
<line x1="91.10" y1="983.87" x2="94.40" y2="983.87" stroke="#000" stroke-width="3.6" />
<line x1="928.20" y1="983.87" x2="924.90" y2="983.87" stroke="#000" stroke-width="3.6" />
<line x1="91.10" y1="938.69" x2="94.40" y2="938.69" stroke="#000" stroke-width="3.6" />
<line x1="928.20" y1="938.69" x2="924.90" y2="938.69" stroke="#000" stroke-width="3.6" />
<line x1="91.10" y1="916.10" x2="94.40" y2="916.10" stroke="#000" stroke-width="3.6" />
<line x1="928.20" y1="916.10" x2="924.90" y2="916.10" stroke="#000" stroke-width="3.6" />
<line x1="210.69" y1="1322.80" x2="210.69" y2="1315.30" stroke="#000" stroke-width="3.6" />
<line x1="210.69" y1="1119.40" x2="210.69" y2="1126.90" stroke="#000" stroke-width="3.6" />
<line x1="360.17" y1="1322.80" x2="360.17" y2="1315.30" stroke="#000" stroke-width="3.6" />
<line x1="360.17" y1="1119.40" x2="360.17" y2="1126.90" stroke="#000" stroke-width="3.6" />
<line x1="509.65" y1="1322.80" x2="509.65" y2="1315.30" stroke="#000" stroke-width="3.6" />
<line x1="509.65" y1="1119.40" x2="509.65" y2="1126.90" stroke="#000" stroke-width="3.6" />
<line x1="659.13" y1="1322.80" x2="659.13" y2="1315.30" stroke="#000" stroke-width="3.6" />
<line x1="659.13" y1="1119.40" x2="659.13" y2="1126.90" stroke="#000" stroke-width="3.6" />
<line x1="808.61" y1="1322.80" x2="808.61" y2="1315.30" stroke="#000" stroke-width="3.6" />
<line x1="808.61" y1="1119.40" x2="808.61" y2="1126.90" stroke="#000" stroke-width="3.6" />
<line x1="121.00" y1="1322.80" x2="121.00" y2="1319.50" stroke="#000" stroke-width="3.6" />
<line x1="121.00" y1="1119.40" x2="121.00" y2="1122.70" stroke="#000" stroke-width="3.6" />
<line x1="150.89" y1="1322.80" x2="150.89" y2="1319.50" stroke="#000" stroke-width="3.6" />
<line x1="150.89" y1="1119.40" x2="150.89" y2="1122.70" stroke="#000" stroke-width="3.6" />
<line x1="180.79" y1="1322.80" x2="180.79" y2="1319.50" stroke="#000" stroke-width="3.6" />
<line x1="180.79" y1="1119.40" x2="180.79" y2="1122.70" stroke="#000" stroke-width="3.6" />
<line x1="240.58" y1="1322.80" x2="240.58" y2="1319.50" stroke="#000" stroke-width="3.6" />
<line x1="240.58" y1="1119.40" x2="240.58" y2="1122.70" stroke="#000" stroke-width="3.6" />
<line x1="270.48" y1="1322.80" x2="270.48" y2="1319.50" stroke="#000" stroke-width="3.6" />
<line x1="270.48" y1="1119.40" x2="270.48" y2="1122.70" stroke="#000" stroke-width="3.6" />
<line x1="300.38" y1="1322.80" x2="300.38" y2="1319.50" stroke="#000" stroke-width="3.6" />
<line x1="300.38" y1="1119.40" x2="300.38" y2="1122.70" stroke="#000" stroke-width="3.6" />
<line x1="330.27" y1="1322.80" x2="330.27" y2="1319.50" stroke="#000" stroke-width="3.6" />
<line x1="330.27" y1="1119.40" x2="330.27" y2="1122.70" stroke="#000" stroke-width="3.6" />
<line x1="390.06" y1="1322.80" x2="390.06" y2="1319.50" stroke="#000" stroke-width="3.6" />
<line x1="390.06" y1="1119.40" x2="390.06" y2="1122.70" stroke="#000" stroke-width="3.6" />
<line x1="419.96" y1="1322.80" x2="419.96" y2="1319.50" stroke="#000" stroke-width="3.6" />
<line x1="419.96" y1="1119.40" x2="419.96" y2="1122.70" stroke="#000" stroke-width="3.6" />
<line x1="449.86" y1="1322.80" x2="449.86" y2="1319.50" stroke="#000" stroke-width="3.6" />
<line x1="449.86" y1="1119.40" x2="449.86" y2="1122.70" stroke="#000" stroke-width="3.6" />
<line x1="479.75" y1="1322.80" x2="479.75" y2="1319.50" stroke="#000" stroke-width="3.6" />
<line x1="479.75" y1="1119.40" x2="479.75" y2="1122.70" stroke="#000" stroke-width="3.6" />
<line x1="539.55" y1="1322.80" x2="539.55" y2="1319.50" stroke="#000" stroke-width="3.6" />
<line x1="539.55" y1="1119.40" x2="539.55" y2="1122.70" stroke="#000" stroke-width="3.6" />
<line x1="569.44" y1="1322.80" x2="569.44" y2="1319.50" stroke="#000" stroke-width="3.6" />
<line x1="569.44" y1="1119.40" x2="569.44" y2="1122.70" stroke="#000" stroke-width="3.6" />
<line x1="599.34" y1="1322.80" x2="599.34" y2="1319.50" stroke="#000" stroke-width="3.6" />
<line x1="599.34" y1="1119.40" x2="599.34" y2="1122.70" stroke="#000" stroke-width="3.6" />
<line x1="629.24" y1="1322.80" x2="629.24" y2="1319.50" stroke="#000" stroke-width="3.6" />
<line x1="629.24" y1="1119.40" x2="629.24" y2="1122.70" stroke="#000" stroke-width="3.6" />
<line x1="689.03" y1="1322.80" x2="689.03" y2="1319.50" stroke="#000" stroke-width="3.6" />
<line x1="689.03" y1="1119.40" x2="689.03" y2="1122.70" stroke="#000" stroke-width="3.6" />
<line x1="718.93" y1="1322.80" x2="718.93" y2="1319.50" stroke="#000" stroke-width="3.6" />
<line x1="718.93" y1="1119.40" x2="718.93" y2="1122.70" stroke="#000" stroke-width="3.6" />
<line x1="748.82" y1="1322.80" x2="748.82" y2="1319.50" stroke="#000" stroke-width="3.6" />
<line x1="748.82" y1="1119.40" x2="748.82" y2="1122.70" stroke="#000" stroke-width="3.6" />
<line x1="778.72" y1="1322.80" x2="778.72" y2="1319.50" stroke="#000" stroke-width="3.6" />
<line x1="778.72" y1="1119.40" x2="778.72" y2="1122.70" stroke="#000" stroke-width="3.6" />
<line x1="838.51" y1="1322.80" x2="838.51" y2="1319.50" stroke="#000" stroke-width="3.6" />
<line x1="838.51" y1="1119.40" x2="838.51" y2="1122.70" stroke="#000" stroke-width="3.6" />
<line x1="868.41" y1="1322.80" x2="868.41" y2="1319.50" stroke="#000" stroke-width="3.6" />
<line x1="868.41" y1="1119.40" x2="868.41" y2="1122.70" stroke="#000" stroke-width="3.6" />
<line x1="898.30" y1="1322.80" x2="898.30" y2="1319.50" stroke="#000" stroke-width="3.6" />
<line x1="898.30" y1="1119.40" x2="898.30" y2="1122.70" stroke="#000" stroke-width="3.6" />
<line x1="91.10" y1="1277.60" x2="98.60" y2="1277.60" stroke="#000" stroke-width="3.6" />
<line x1="928.20" y1="1277.60" x2="920.70" y2="1277.60" stroke="#000" stroke-width="3.6" />
<line x1="91.10" y1="1164.60" x2="98.60" y2="1164.60" stroke="#000" stroke-width="3.6" />
<line x1="928.20" y1="1164.60" x2="920.70" y2="1164.60" stroke="#000" stroke-width="3.6" />
<line x1="91.10" y1="1300.20" x2="94.40" y2="1300.20" stroke="#000" stroke-width="3.6" />
<line x1="928.20" y1="1300.20" x2="924.90" y2="1300.20" stroke="#000" stroke-width="3.6" />
<line x1="91.10" y1="1255.00" x2="94.40" y2="1255.00" stroke="#000" stroke-width="3.6" />
<line x1="928.20" y1="1255.00" x2="924.90" y2="1255.00" stroke="#000" stroke-width="3.6" />
<line x1="91.10" y1="1232.40" x2="94.40" y2="1232.40" stroke="#000" stroke-width="3.6" />
<line x1="928.20" y1="1232.40" x2="924.90" y2="1232.40" stroke="#000" stroke-width="3.6" />
<line x1="91.10" y1="1209.80" x2="94.40" y2="1209.80" stroke="#000" stroke-width="3.6" />
<line x1="928.20" y1="1209.80" x2="924.90" y2="1209.80" stroke="#000" stroke-width="3.6" />
<line x1="91.10" y1="1187.20" x2="94.40" y2="1187.20" stroke="#000" stroke-width="3.6" />
<line x1="928.20" y1="1187.20" x2="924.90" y2="1187.20" stroke="#000" stroke-width="3.6" />
<line x1="91.10" y1="1142.00" x2="94.40" y2="1142.00" stroke="#000" stroke-width="3.6" />
<line x1="928.20" y1="1142.00" x2="924.90" y2="1142.00" stroke="#000" stroke-width="3.6" />
<line x1="91.10" y1="1119.40" x2="94.40" y2="1119.40" stroke="#000" stroke-width="3.6" />
<line x1="928.20" y1="1119.40" x2="924.90" y2="1119.40" stroke="#000" stroke-width="3.6" />
<line x1="1029.29" y1="205.05" x2="1029.29" y2="197.55" stroke="#000" stroke-width="3.6" />
<line x1="1029.29" y1="1.60" x2="1029.29" y2="9.10" stroke="#000" stroke-width="3.6" />
<line x1="1109.65" y1="205.05" x2="1109.65" y2="197.55" stroke="#000" stroke-width="3.6" />
<line x1="1109.65" y1="1.60" x2="1109.65" y2="9.10" stroke="#000" stroke-width="3.6" />
<line x1="1190.01" y1="205.05" x2="1190.01" y2="197.55" stroke="#000" stroke-width="3.6" />
<line x1="1190.01" y1="1.60" x2="1190.01" y2="9.10" stroke="#000" stroke-width="3.6" />
<line x1="989.11" y1="205.05" x2="989.11" y2="201.75" stroke="#000" stroke-width="3.6" />
<line x1="989.11" y1="1.60" x2="989.11" y2="4.90" stroke="#000" stroke-width="3.6" />
<line x1="1069.47" y1="205.05" x2="1069.47" y2="201.75" stroke="#000" stroke-width="3.6" />
<line x1="1069.47" y1="1.60" x2="1069.47" y2="4.90" stroke="#000" stroke-width="3.6" />
<line x1="1149.83" y1="205.05" x2="1149.83" y2="201.75" stroke="#000" stroke-width="3.6" />
<line x1="1149.83" y1="1.60" x2="1149.83" y2="4.90" stroke="#000" stroke-width="3.6" />
<line x1="1230.19" y1="205.05" x2="1230.19" y2="201.75" stroke="#000" stroke-width="3.6" />
<line x1="1230.19" y1="1.60" x2="1230.19" y2="4.90" stroke="#000" stroke-width="3.6" />
<line x1="965.00" y1="175.99" x2="972.50" y2="175.99" stroke="#000" stroke-width="3.6" />
<line x1="1254.30" y1="175.99" x2="1246.80" y2="175.99" stroke="#000" stroke-width="3.6" />
<line x1="965.00" y1="30.66" x2="972.50" y2="30.66" stroke="#000" stroke-width="3.6" />
<line x1="1254.30" y1="30.66" x2="1246.80" y2="30.66" stroke="#000" stroke-width="3.6" />
<line x1="965.00" y1="146.92" x2="968.30" y2="146.92" stroke="#000" stroke-width="3.6" />
<line x1="1254.30" y1="146.92" x2="1251.00" y2="146.92" stroke="#000" stroke-width="3.6" />
<line x1="965.00" y1="117.86" x2="968.30" y2="117.86" stroke="#000" stroke-width="3.6" />
<line x1="1254.30" y1="117.86" x2="1251.00" y2="117.86" stroke="#000" stroke-width="3.6" />
<line x1="965.00" y1="88.79" x2="968.30" y2="88.79" stroke="#000" stroke-width="3.6" />
<line x1="1254.30" y1="88.79" x2="1251.00" y2="88.79" stroke="#000" stroke-width="3.6" />
<line x1="965.00" y1="59.73" x2="968.30" y2="59.73" stroke="#000" stroke-width="3.6" />
<line x1="1254.30" y1="59.73" x2="1251.00" y2="59.73" stroke="#000" stroke-width="3.6" />
<line x1="1029.29" y1="408.40" x2="1029.29" y2="400.90" stroke="#000" stroke-width="3.6" />
<line x1="1029.29" y1="205.05" x2="1029.29" y2="212.55" stroke="#000" stroke-width="3.6" />
<line x1="1109.65" y1="408.40" x2="1109.65" y2="400.90" stroke="#000" stroke-width="3.6" />
<line x1="1109.65" y1="205.05" x2="1109.65" y2="212.55" stroke="#000" stroke-width="3.6" />
<line x1="1190.01" y1="408.40" x2="1190.01" y2="400.90" stroke="#000" stroke-width="3.6" />
<line x1="1190.01" y1="205.05" x2="1190.01" y2="212.55" stroke="#000" stroke-width="3.6" />
<line x1="989.11" y1="408.40" x2="989.11" y2="405.10" stroke="#000" stroke-width="3.6" />
<line x1="989.11" y1="205.05" x2="989.11" y2="208.35" stroke="#000" stroke-width="3.6" />
<line x1="1069.47" y1="408.40" x2="1069.47" y2="405.10" stroke="#000" stroke-width="3.6" />
<line x1="1069.47" y1="205.05" x2="1069.47" y2="208.35" stroke="#000" stroke-width="3.6" />
<line x1="1149.83" y1="408.40" x2="1149.83" y2="405.10" stroke="#000" stroke-width="3.6" />
<line x1="1149.83" y1="205.05" x2="1149.83" y2="208.35" stroke="#000" stroke-width="3.6" />
<line x1="1230.19" y1="408.40" x2="1230.19" y2="405.10" stroke="#000" stroke-width="3.6" />
<line x1="1230.19" y1="205.05" x2="1230.19" y2="208.35" stroke="#000" stroke-width="3.6" />
<line x1="965.00" y1="379.35" x2="972.50" y2="379.35" stroke="#000" stroke-width="3.6" />
<line x1="1254.30" y1="379.35" x2="1246.80" y2="379.35" stroke="#000" stroke-width="3.6" />
<line x1="965.00" y1="234.10" x2="972.50" y2="234.10" stroke="#000" stroke-width="3.6" />
<line x1="1254.30" y1="234.10" x2="1246.80" y2="234.10" stroke="#000" stroke-width="3.6" />
<line x1="965.00" y1="350.30" x2="968.30" y2="350.30" stroke="#000" stroke-width="3.6" />
<line x1="1254.30" y1="350.30" x2="1251.00" y2="350.30" stroke="#000" stroke-width="3.6" />
<line x1="965.00" y1="321.25" x2="968.30" y2="321.25" stroke="#000" stroke-width="3.6" />
<line x1="1254.30" y1="321.25" x2="1251.00" y2="321.25" stroke="#000" stroke-width="3.6" />
<line x1="965.00" y1="292.20" x2="968.30" y2="292.20" stroke="#000" stroke-width="3.6" />
<line x1="1254.30" y1="292.20" x2="1251.00" y2="292.20" stroke="#000" stroke-width="3.6" />
<line x1="965.00" y1="263.15" x2="968.30" y2="263.15" stroke="#000" stroke-width="3.6" />
<line x1="1254.30" y1="263.15" x2="1251.00" y2="263.15" stroke="#000" stroke-width="3.6" />
<line x1="1029.29" y1="611.60" x2="1029.29" y2="604.10" stroke="#000" stroke-width="3.6" />
<line x1="1029.29" y1="408.40" x2="1029.29" y2="415.90" stroke="#000" stroke-width="3.6" />
<line x1="1109.65" y1="611.60" x2="1109.65" y2="604.10" stroke="#000" stroke-width="3.6" />
<line x1="1109.65" y1="408.40" x2="1109.65" y2="415.90" stroke="#000" stroke-width="3.6" />
<line x1="1190.01" y1="611.60" x2="1190.01" y2="604.10" stroke="#000" stroke-width="3.6" />
<line x1="1190.01" y1="408.40" x2="1190.01" y2="415.90" stroke="#000" stroke-width="3.6" />
<line x1="989.11" y1="611.60" x2="989.11" y2="608.30" stroke="#000" stroke-width="3.6" />
<line x1="989.11" y1="408.40" x2="989.11" y2="411.70" stroke="#000" stroke-width="3.6" />
<line x1="1069.47" y1="611.60" x2="1069.47" y2="608.30" stroke="#000" stroke-width="3.6" />
<line x1="1069.47" y1="408.40" x2="1069.47" y2="411.70" stroke="#000" stroke-width="3.6" />
<line x1="1149.83" y1="611.60" x2="1149.83" y2="608.30" stroke="#000" stroke-width="3.6" />
<line x1="1149.83" y1="408.40" x2="1149.83" y2="411.70" stroke="#000" stroke-width="3.6" />
<line x1="1230.19" y1="611.60" x2="1230.19" y2="608.30" stroke="#000" stroke-width="3.6" />
<line x1="1230.19" y1="408.40" x2="1230.19" y2="411.70" stroke="#000" stroke-width="3.6" />
<line x1="965.00" y1="582.57" x2="972.50" y2="582.57" stroke="#000" stroke-width="3.6" />
<line x1="1254.30" y1="582.57" x2="1246.80" y2="582.57" stroke="#000" stroke-width="3.6" />
<line x1="965.00" y1="437.43" x2="972.50" y2="437.43" stroke="#000" stroke-width="3.6" />
<line x1="1254.30" y1="437.43" x2="1246.80" y2="437.43" stroke="#000" stroke-width="3.6" />
<line x1="965.00" y1="553.54" x2="968.30" y2="553.54" stroke="#000" stroke-width="3.6" />
<line x1="1254.30" y1="553.54" x2="1251.00" y2="553.54" stroke="#000" stroke-width="3.6" />
<line x1="965.00" y1="524.51" x2="968.30" y2="524.51" stroke="#000" stroke-width="3.6" />
<line x1="1254.30" y1="524.51" x2="1251.00" y2="524.51" stroke="#000" stroke-width="3.6" />
<line x1="965.00" y1="495.49" x2="968.30" y2="495.49" stroke="#000" stroke-width="3.6" />
<line x1="1254.30" y1="495.49" x2="1251.00" y2="495.49" stroke="#000" stroke-width="3.6" />
<line x1="965.00" y1="466.46" x2="968.30" y2="466.46" stroke="#000" stroke-width="3.6" />
<line x1="1254.30" y1="466.46" x2="1251.00" y2="466.46" stroke="#000" stroke-width="3.6" />
<line x1="1029.29" y1="814.40" x2="1029.29" y2="806.90" stroke="#000" stroke-width="3.6" />
<line x1="1029.29" y1="611.60" x2="1029.29" y2="619.10" stroke="#000" stroke-width="3.6" />
<line x1="1109.65" y1="814.40" x2="1109.65" y2="806.90" stroke="#000" stroke-width="3.6" />
<line x1="1109.65" y1="611.60" x2="1109.65" y2="619.10" stroke="#000" stroke-width="3.6" />
<line x1="1190.01" y1="814.40" x2="1190.01" y2="806.90" stroke="#000" stroke-width="3.6" />
<line x1="1190.01" y1="611.60" x2="1190.01" y2="619.10" stroke="#000" stroke-width="3.6" />
<line x1="989.11" y1="814.40" x2="989.11" y2="811.10" stroke="#000" stroke-width="3.6" />
<line x1="989.11" y1="611.60" x2="989.11" y2="614.90" stroke="#000" stroke-width="3.6" />
<line x1="1069.47" y1="814.40" x2="1069.47" y2="811.10" stroke="#000" stroke-width="3.6" />
<line x1="1069.47" y1="611.60" x2="1069.47" y2="614.90" stroke="#000" stroke-width="3.6" />
<line x1="1149.83" y1="814.40" x2="1149.83" y2="811.10" stroke="#000" stroke-width="3.6" />
<line x1="1149.83" y1="611.60" x2="1149.83" y2="614.90" stroke="#000" stroke-width="3.6" />
<line x1="1230.19" y1="814.40" x2="1230.19" y2="811.10" stroke="#000" stroke-width="3.6" />
<line x1="1230.19" y1="611.60" x2="1230.19" y2="614.90" stroke="#000" stroke-width="3.6" />
<line x1="965.00" y1="785.43" x2="972.50" y2="785.43" stroke="#000" stroke-width="3.6" />
<line x1="1254.30" y1="785.43" x2="1246.80" y2="785.43" stroke="#000" stroke-width="3.6" />
<line x1="965.00" y1="640.57" x2="972.50" y2="640.57" stroke="#000" stroke-width="3.6" />
<line x1="1254.30" y1="640.57" x2="1246.80" y2="640.57" stroke="#000" stroke-width="3.6" />
<line x1="965.00" y1="756.46" x2="968.30" y2="756.46" stroke="#000" stroke-width="3.6" />
<line x1="1254.30" y1="756.46" x2="1251.00" y2="756.46" stroke="#000" stroke-width="3.6" />
<line x1="965.00" y1="727.49" x2="968.30" y2="727.49" stroke="#000" stroke-width="3.6" />
<line x1="1254.30" y1="727.49" x2="1251.00" y2="727.49" stroke="#000" stroke-width="3.6" />
<line x1="965.00" y1="698.51" x2="968.30" y2="698.51" stroke="#000" stroke-width="3.6" />
<line x1="1254.30" y1="698.51" x2="1251.00" y2="698.51" stroke="#000" stroke-width="3.6" />
<line x1="965.00" y1="669.54" x2="968.30" y2="669.54" stroke="#000" stroke-width="3.6" />
<line x1="1254.30" y1="669.54" x2="1251.00" y2="669.54" stroke="#000" stroke-width="3.6" />
<line x1="989.11" y1="1119.40" x2="989.11" y2="1111.90" stroke="#000" stroke-width="3.6" />
<line x1="989.11" y1="916.10" x2="989.11" y2="923.60" stroke="#000" stroke-width="3.6" />
<line x1="1109.65" y1="1119.40" x2="1109.65" y2="1111.90" stroke="#000" stroke-width="3.6" />
<line x1="1109.65" y1="916.10" x2="1109.65" y2="923.60" stroke="#000" stroke-width="3.6" />
<line x1="1230.19" y1="1119.40" x2="1230.19" y2="1111.90" stroke="#000" stroke-width="3.6" />
<line x1="1230.19" y1="916.10" x2="1230.19" y2="923.60" stroke="#000" stroke-width="3.6" />
<line x1="1019.24" y1="1119.40" x2="1019.24" y2="1116.10" stroke="#000" stroke-width="3.6" />
<line x1="1019.24" y1="916.10" x2="1019.24" y2="919.40" stroke="#000" stroke-width="3.6" />
<line x1="1049.38" y1="1119.40" x2="1049.38" y2="1116.10" stroke="#000" stroke-width="3.6" />
<line x1="1049.38" y1="916.10" x2="1049.38" y2="919.40" stroke="#000" stroke-width="3.6" />
<line x1="1079.51" y1="1119.40" x2="1079.51" y2="1116.10" stroke="#000" stroke-width="3.6" />
<line x1="1079.51" y1="916.10" x2="1079.51" y2="919.40" stroke="#000" stroke-width="3.6" />
<line x1="1139.79" y1="1119.40" x2="1139.79" y2="1116.10" stroke="#000" stroke-width="3.6" />
<line x1="1139.79" y1="916.10" x2="1139.79" y2="919.40" stroke="#000" stroke-width="3.6" />
<line x1="1169.92" y1="1119.40" x2="1169.92" y2="1116.10" stroke="#000" stroke-width="3.6" />
<line x1="1169.92" y1="916.10" x2="1169.92" y2="919.40" stroke="#000" stroke-width="3.6" />
<line x1="1200.06" y1="1119.40" x2="1200.06" y2="1116.10" stroke="#000" stroke-width="3.6" />
<line x1="1200.06" y1="916.10" x2="1200.06" y2="919.40" stroke="#000" stroke-width="3.6" />
<line x1="965.00" y1="1068.58" x2="972.50" y2="1068.58" stroke="#000" stroke-width="3.6" />
<line x1="1254.30" y1="1068.58" x2="1246.80" y2="1068.58" stroke="#000" stroke-width="3.6" />
<line x1="965.00" y1="941.51" x2="972.50" y2="941.51" stroke="#000" stroke-width="3.6" />
<line x1="1254.30" y1="941.51" x2="1246.80" y2="941.51" stroke="#000" stroke-width="3.6" />
<line x1="965.00" y1="1093.99" x2="968.30" y2="1093.99" stroke="#000" stroke-width="3.6" />
<line x1="1254.30" y1="1093.99" x2="1251.00" y2="1093.99" stroke="#000" stroke-width="3.6" />
<line x1="965.00" y1="1043.16" x2="968.30" y2="1043.16" stroke="#000" stroke-width="3.6" />
<line x1="1254.30" y1="1043.16" x2="1251.00" y2="1043.16" stroke="#000" stroke-width="3.6" />
<line x1="965.00" y1="1017.75" x2="968.30" y2="1017.75" stroke="#000" stroke-width="3.6" />
<line x1="1254.30" y1="1017.75" x2="1251.00" y2="1017.75" stroke="#000" stroke-width="3.6" />
<line x1="965.00" y1="992.34" x2="968.30" y2="992.34" stroke="#000" stroke-width="3.6" />
<line x1="1254.30" y1="992.34" x2="1251.00" y2="992.34" stroke="#000" stroke-width="3.6" />
<line x1="965.00" y1="966.92" x2="968.30" y2="966.92" stroke="#000" stroke-width="3.6" />
<line x1="1254.30" y1="966.92" x2="1251.00" y2="966.92" stroke="#000" stroke-width="3.6" />
<line x1="989.11" y1="1322.80" x2="989.11" y2="1315.30" stroke="#000" stroke-width="3.6" />
<line x1="989.11" y1="1119.40" x2="989.11" y2="1126.90" stroke="#000" stroke-width="3.6" />
<line x1="1109.65" y1="1322.80" x2="1109.65" y2="1315.30" stroke="#000" stroke-width="3.6" />
<line x1="1109.65" y1="1119.40" x2="1109.65" y2="1126.90" stroke="#000" stroke-width="3.6" />
<line x1="1230.19" y1="1322.80" x2="1230.19" y2="1315.30" stroke="#000" stroke-width="3.6" />
<line x1="1230.19" y1="1119.40" x2="1230.19" y2="1126.90" stroke="#000" stroke-width="3.6" />
<line x1="1019.24" y1="1322.80" x2="1019.24" y2="1319.50" stroke="#000" stroke-width="3.6" />
<line x1="1019.24" y1="1119.40" x2="1019.24" y2="1122.70" stroke="#000" stroke-width="3.6" />
<line x1="1049.38" y1="1322.80" x2="1049.38" y2="1319.50" stroke="#000" stroke-width="3.6" />
<line x1="1049.38" y1="1119.40" x2="1049.38" y2="1122.70" stroke="#000" stroke-width="3.6" />
<line x1="1079.51" y1="1322.80" x2="1079.51" y2="1319.50" stroke="#000" stroke-width="3.6" />
<line x1="1079.51" y1="1119.40" x2="1079.51" y2="1122.70" stroke="#000" stroke-width="3.6" />
<line x1="1139.79" y1="1322.80" x2="1139.79" y2="1319.50" stroke="#000" stroke-width="3.6" />
<line x1="1139.79" y1="1119.40" x2="1139.79" y2="1122.70" stroke="#000" stroke-width="3.6" />
<line x1="1169.92" y1="1322.80" x2="1169.92" y2="1319.50" stroke="#000" stroke-width="3.6" />
<line x1="1169.92" y1="1119.40" x2="1169.92" y2="1122.70" stroke="#000" stroke-width="3.6" />
<line x1="1200.06" y1="1322.80" x2="1200.06" y2="1319.50" stroke="#000" stroke-width="3.6" />
<line x1="1200.06" y1="1119.40" x2="1200.06" y2="1122.70" stroke="#000" stroke-width="3.6" />
<line x1="965.00" y1="1271.95" x2="972.50" y2="1271.95" stroke="#000" stroke-width="3.6" />
<line x1="1254.30" y1="1271.95" x2="1246.80" y2="1271.95" stroke="#000" stroke-width="3.6" />
<line x1="965.00" y1="1144.83" x2="972.50" y2="1144.83" stroke="#000" stroke-width="3.6" />
<line x1="1254.30" y1="1144.83" x2="1246.80" y2="1144.83" stroke="#000" stroke-width="3.6" />
<line x1="965.00" y1="1297.38" x2="968.30" y2="1297.38" stroke="#000" stroke-width="3.6" />
<line x1="1254.30" y1="1297.38" x2="1251.00" y2="1297.38" stroke="#000" stroke-width="3.6" />
<line x1="965.00" y1="1246.53" x2="968.30" y2="1246.53" stroke="#000" stroke-width="3.6" />
<line x1="1254.30" y1="1246.53" x2="1251.00" y2="1246.53" stroke="#000" stroke-width="3.6" />
<line x1="965.00" y1="1221.10" x2="968.30" y2="1221.10" stroke="#000" stroke-width="3.6" />
<line x1="1254.30" y1="1221.10" x2="1251.00" y2="1221.10" stroke="#000" stroke-width="3.6" />
<line x1="965.00" y1="1195.67" x2="968.30" y2="1195.67" stroke="#000" stroke-width="3.6" />
<line x1="1254.30" y1="1195.67" x2="1251.00" y2="1195.67" stroke="#000" stroke-width="3.6" />
<line x1="965.00" y1="1170.25" x2="968.30" y2="1170.25" stroke="#000" stroke-width="3.6" />
<line x1="1254.30" y1="1170.25" x2="1251.00" y2="1170.25" stroke="#000" stroke-width="3.6" />
</g>
<g id="data">
<polyline points="91.1,45.2 91.7,44.2 92.3,43.1 92.9,40.3 93.5,40.8 94.1,41.1 94.7,41.7 95.3,41.5 95.9,42.3 96.5,44.1 97.1,45.1 97.7,46.2 98.3,48.5 98.9,49.4 99.5,48.9 100.1,49.5 100.7,50.9 101.3,50.9 101.9,51.8 102.5,56.2 103.1,61.5 103.7,65.6 104.3,69.0 104.9,71.0 105.5,68.0 106.0,60.3 106.6,53.2 107.2,48.6 107.8,45.8 108.4,45.2 109.0,47.7 109.6,50.1 110.2,51.5 110.8,52.4 111.4,56.2 112.0,59.6 112.6,61.5 113.2,60.4 113.8,57.2 114.4,52.4 115.0,49.0 115.6,46.8 116.2,45.4 116.8,44.4 117.4,45.6 118.0,45.8 118.6,47.4 119.2,47.7 119.8,47.0 120.4,47.0 121.0,47.9 121.6,48.3 122.2,46.5 122.8,47.1 123.4,47.1 124.0,46.8 124.6,46.3 125.2,45.2 125.8,44.5 126.4,43.2 127.0,44.3 127.6,44.6 128.2,45.8 128.8,48.4 129.4,52.7 130.0,56.0 130.6,57.9 131.2,62.2 131.8,63.5 132.4,61.4 133.0,56.2 133.6,54.1 134.2,50.7 134.7,49.2 135.3,47.7 135.9,47.0 136.5,47.7 137.1,50.7 137.7,54.2 138.3,53.9 138.9,52.0 139.5,48.0 140.1,48.6 140.7,50.7 141.3,51.0 141.9,47.4 142.5,46.2 143.1,47.7 143.7,49.0 144.3,48.6 144.9,47.5 145.5,47.8 146.1,46.9 146.7,45.5 147.3,44.3 147.9,44.3 148.5,45.0 149.1,45.0 149.7,43.0 150.3,41.5 150.9,43.4 151.5,44.7 152.1,44.3 152.7,42.4 153.3,43.7 153.9,45.6 154.5,49.3 155.1,48.9 155.7,46.1 156.3,46.0 156.9,49.8 157.5,52.4 158.1,52.7 158.7,53.2 159.3,54.1 159.9,53.4 160.5,52.5 161.1,52.9 161.7,54.2 162.3,56.8 162.9,57.6 163.4,59.2 164.0,58.6 164.6,55.1 165.2,50.4 165.8,47.0 166.4,45.7 167.0,43.3 167.6,42.7 168.2,42.7 168.8,44.6 169.4,47.1 170.0,49.8 170.6,50.8 171.2,51.4 171.8,51.3 172.4,50.5 173.0,49.0 173.6,48.7 174.2,50.9 174.8,52.2 175.4,51.7 176.0,49.2 176.6,48.4 177.2,49.0 177.8,50.4 178.4,48.5 179.0,45.9 179.6,43.5 180.2,42.7 180.8,43.6 181.4,45.3 182.0,46.1 182.6,44.6 183.2,44.5 183.8,45.2 184.4,46.2 185.0,48.5 185.6,49.6 186.2,50.1 186.8,48.8 187.4,49.1 188.0,48.8 188.6,49.4 189.2,50.5 189.8,52.3 190.4,53.5 191.0,53.8 191.6,53.3 192.1,52.8 192.7,51.4 193.3,50.3 193.9,48.7 194.5,49.3 195.1,48.3 195.7,48.5 196.3,48.7 196.9,50.5 197.5,52.2 198.1,55.0 198.7,60.2 199.3,66.4 199.9,71.5 200.5,70.0 201.1,64.6 201.7,59.0 202.3,54.1 202.9,50.4 203.5,45.8 204.1,46.3 204.7,48.4 205.3,54.7 205.9,62.8 206.5,71.8 207.1,76.3 207.7,74.9 208.3,70.9 208.9,64.3 209.5,57.6 210.1,52.7 210.7,50.8 211.3,49.9 211.9,52.7 212.5,56.3 213.1,62.0 213.7,67.1 214.3,69.8 214.9,66.4 215.5,60.9 216.1,57.7 216.7,55.4 217.3,53.7 217.9,52.2 218.5,51.8 219.1,53.1 219.7,53.4 220.3,53.6 220.9,52.6 221.4,54.1 222.0,54.8 222.6,54.9 223.2,52.4 223.8,48.4 224.4,46.5 225.0,45.7 225.6,46.0 226.2,47.2 226.8,48.0 227.4,46.5 228.0,45.2 228.6,45.7 229.2,45.7 229.8,46.2 230.4,48.5 231.0,49.6 231.6,49.2 232.2,49.2 232.8,49.5 233.4,48.9 234.0,50.0 234.6,51.7 235.2,52.2 235.8,50.7 236.4,49.7 237.0,50.2 237.6,50.1 238.2,48.6 238.8,47.1 239.4,48.7 240.0,50.6 240.6,49.9 241.2,48.7 241.8,49.8 242.4,49.5 243.0,49.8 243.6,48.8 244.2,48.7 244.8,47.8 245.4,46.7 246.0,45.2 246.6,45.6 247.2,47.2 247.8,48.4 248.4,50.4 249.0,52.8 249.6,52.3 250.1,49.7 250.7,48.4 251.3,48.3 251.9,48.0 252.5,47.9 253.1,46.9 253.7,46.5 254.3,46.1 254.9,46.2 255.5,46.7 256.1,47.4 256.7,45.7 257.3,43.2 257.9,42.6 258.5,43.4 259.1,43.7 259.7,43.7 260.3,45.8 260.9,48.5 261.5,54.8 262.1,59.3 262.7,63.7 263.3,65.9 263.9,65.9 264.5,61.4 265.1,55.4 265.7,52.5 266.3,50.0 266.9,45.2 267.5,43.9 268.1,45.5 268.7,49.6 269.3,51.2 269.9,57.3 270.5,63.8 271.1,67.5 271.7,66.9 272.3,62.8 272.9,59.3 273.5,55.4 274.1,50.5 274.7,47.5 275.3,48.5 275.9,50.8 276.5,49.9 277.1,48.5 277.7,48.5 278.3,50.0 278.8,51.4 279.4,49.3 280.0,46.9 280.6,49.9 281.2,53.2 281.8,53.9 282.4,50.6 283.0,49.8 283.6,47.1 284.2,45.9 284.8,44.8 285.4,46.1 286.0,47.0 286.6,47.6 287.2,46.7 287.8,46.2 288.4,47.5 289.0,48.3 289.6,48.6 290.2,49.1 290.8,51.1 291.4,51.7 292.0,51.8 292.6,53.5 293.2,53.4 293.8,52.6 294.4,52.4 295.0,54.3 295.6,54.5 296.2,53.0 296.8,53.7 297.4,52.5 298.0,49.6 298.6,44.8 299.2,42.6 299.8,42.3 300.4,45.6 301.0,50.7 301.6,52.2 302.2,50.6 302.8,48.0 303.4,48.4 304.0,48.5 304.6,50.4 305.2,50.1 305.8,49.7 306.4,47.7 307.0,46.8 307.6,45.9 308.1,45.7 308.7,46.0 309.3,45.9 309.9,46.4 310.5,47.8 311.1,49.9 311.7,48.8 312.3,47.3 312.9,46.0 313.5,46.6 314.1,46.9 314.7,48.7 315.3,49.2 315.9,48.5 316.5,47.7 317.1,49.2 317.7,50.7 318.3,51.0 318.9,48.1 319.5,49.3 320.1,50.6 320.7,52.7 321.3,51.6 321.9,52.9 322.5,52.3 323.1,50.1 323.7,47.5 324.3,46.2 324.9,45.9 325.5,46.0 326.1,45.8 326.7,46.0 327.3,46.6 327.9,47.6 328.5,47.5 329.1,45.8 329.7,44.7 330.3,44.3 330.9,42.9 331.5,41.1 332.1,40.0 332.7,41.6 333.3,44.1 333.9,47.1 334.5,49.0 335.1,48.7 335.7,48.1 336.3,49.5 336.8,50.8 337.4,51.9 338.0,51.0 338.6,51.8 339.2,52.4 339.8,52.8 340.4,51.8 341.0,52.4 341.6,52.3 342.2,49.3 342.8,48.4 343.4,48.0 344.0,48.9 344.6,48.2 345.2,49.2 345.8,49.1 346.4,47.2 347.0,45.3 347.6,44.5 348.2,46.2 348.8,47.8 349.4,48.0 350.0,46.9 350.6,47.5 351.2,49.9 351.8,52.8 352.4,53.5 353.0,54.8 353.6,56.7 354.2,57.8 354.8,55.5 355.4,51.2 356.0,48.0 356.6,45.7 357.2,43.1 357.8,42.8 358.4,45.3 359.0,47.5 359.6,50.5 360.2,52.2 360.8,54.2 361.4,51.4 362.0,50.2 362.6,49.9 363.2,52.3 363.8,55.0 364.4,54.4 365.0,50.5 365.5,46.9 366.1,46.1 366.7,45.6 367.3,46.2 367.9,47.2 368.5,46.7 369.1,45.8 369.7,47.5 370.3,48.4 370.9,50.0 371.5,50.7 372.1,50.2 372.7,49.8 373.3,49.8 373.9,50.4 374.5,51.6 375.1,53.2 375.7,53.5 376.3,52.3 376.9,53.8 377.5,53.5 378.1,54.7 378.7,54.7 379.3,56.5 379.9,56.8 380.5,56.1 381.1,54.7 381.7,54.5 382.3,56.4 382.9,55.9 383.5,55.0 384.1,56.0 384.7,59.5 385.3,63.4 385.9,66.6 386.5,69.3 387.1,69.1 387.7,68.1 388.3,67.8 388.9,67.0 389.5,65.2 390.1,63.8 390.7,64.0 391.3,66.0 391.9,68.5 392.5,71.0 393.1,72.4 393.7,73.1 394.2,75.4 394.8,75.4 395.4,76.4 396.0,76.4 396.6,79.1 397.2,78.7 397.8,77.8 398.4,77.0 399.0,79.2 399.6,85.0 400.2,91.3 400.8,97.2 401.4,103.0 402.0,110.3 402.6,120.9 403.2,134.7 403.8,149.6 404.4,160.0 405.0,161.4 405.6,153.4 406.2,138.0 406.8,122.3 407.4,109.7 408.0,101.1 408.6,97.5 409.2,96.9 409.8,97.2 410.4,98.6 411.0,101.9 411.6,104.3 412.2,104.3 412.8,103.5 413.4,102.6 414.0,100.0 414.6,94.5 415.2,88.6 415.8,83.2 416.4,78.6 417.0,75.0 417.6,74.1 418.2,73.6 418.8,71.3 419.4,69.2 420.0,68.5 420.6,68.6 421.2,70.9 421.8,73.8 422.4,75.7 423.0,76.4 423.5,78.0 424.1,78.7 424.7,76.6 425.3,72.6 425.9,69.2 426.5,65.7 427.1,61.6 427.7,59.0 428.3,57.5 428.9,57.6 429.5,58.1 430.1,59.4 430.7,60.0 431.3,58.3 431.9,58.5 432.5,57.1 433.1,56.4 433.7,57.0 434.3,57.4 434.9,54.6 435.5,52.3 436.1,52.1 436.7,54.2 437.3,53.9 437.9,55.7 438.5,54.4 439.1,55.9 439.7,57.7 440.3,58.1 440.9,53.3 441.5,50.0 442.1,49.1 442.7,49.1 443.3,47.5 443.9,46.7 444.5,44.4 445.1,44.8 445.7,46.0 446.3,47.1 446.9,48.0 447.5,48.1 448.1,46.3 448.7,46.4 449.3,47.9 449.9,49.7 450.5,50.3 451.1,51.0 451.7,50.1 452.2,49.3 452.8,48.5 453.4,46.9 454.0,46.9 454.6,50.3 455.2,53.9 455.8,53.5 456.4,51.4 457.0,49.2 457.6,49.7 458.2,48.6 458.8,49.3 459.4,47.3 460.0,47.5 460.6,47.6 461.2,49.3 461.8,47.4 462.4,48.1 463.0,48.6 463.6,49.3 464.2,47.6 464.8,47.3 465.4,48.2 466.0,49.9 466.6,51.8 467.2,52.4 467.8,53.2 468.4,53.5 469.0,53.4 469.6,51.7 470.2,48.0 470.8,47.0 471.4,47.1 472.0,46.7 472.6,47.0 473.2,49.2 473.8,51.2 474.4,49.5 475.0,45.9 475.6,44.2 476.2,44.0 476.8,46.3 477.4,49.4 478.0,53.1 478.6,51.9 479.2,48.4 479.8,47.6 480.4,47.8 480.9,48.6 481.5,47.3 482.1,46.4 482.7,45.9 483.3,49.0 483.9,49.9 484.5,49.7 485.1,48.2 485.7,48.8 486.3,47.1 486.9,46.8 487.5,46.4 488.1,48.5 488.7,49.2 489.3,50.8 489.9,51.5 490.5,52.2 491.1,51.0 491.7,53.5 492.3,55.2 492.9,58.7 493.5,61.8 494.1,62.8 494.7,58.2 495.3,53.4 495.9,52.1 496.5,50.9 497.1,49.7 497.7,49.0 498.3,48.0 498.9,47.3 499.5,48.3 500.1,50.5 500.7,51.9 501.3,52.3 501.9,52.3 502.5,52.9 503.1,53.8 503.7,51.2 504.3,47.8 504.9,45.9 505.5,43.8 506.1,41.6 506.7,42.1 507.3,43.6 507.9,44.4 508.5,44.9 509.1,45.5 509.6,44.7 510.2,45.0 510.8,46.2 511.4,46.9 512.0,45.8 512.6,46.2 513.2,47.3 513.8,46.8 514.4,46.1 515.0,45.2 515.6,45.4 516.2,45.5 516.8,49.0 517.4,50.6 518.0,49.7 518.6,47.6 519.2,48.0 519.8,48.0 520.4,47.6 521.0,48.9 521.6,49.5 522.2,49.4 522.8,48.4 523.4,49.2 524.0,46.7 524.6,43.9 525.2,44.9 525.8,46.9 526.4,47.0 527.0,45.4 527.6,45.9 528.2,47.0 528.8,46.2 529.4,45.5 530.0,44.8 530.6,45.9 531.2,46.0 531.8,45.4 532.4,44.6 533.0,45.1 533.6,47.2 534.2,48.2 534.8,46.4 535.4,44.6 536.0,43.7 536.6,44.3 537.2,44.5 537.8,44.5 538.4,46.3 538.9,46.4 539.5,48.1 540.1,50.2 540.7,52.8 541.3,53.1 541.9,53.0 542.5,53.3 543.1,52.7 543.7,50.5 544.3,46.6 544.9,44.8 545.5,44.4 546.1,46.5 546.7,48.1 547.3,49.9 547.9,49.4 548.5,48.7 549.1,49.5 549.7,50.6 550.3,52.7 550.9,53.4 551.5,53.9 552.1,54.4 552.7,54.0 553.3,53.5 553.9,53.9 554.5,51.6 555.1,49.5 555.7,49.1 556.3,49.9 556.9,47.2 557.5,46.9 558.1,49.7 558.7,51.5 559.3,49.0 559.9,47.0 560.5,47.1 561.1,48.2 561.7,46.6 562.3,46.7 562.9,47.8 563.5,50.0 564.1,47.5 564.7,45.1 565.3,44.0 565.9,47.4 566.5,49.7 567.1,52.7 567.6,53.0 568.2,53.3 568.8,51.8 569.4,51.4 570.0,49.2 570.6,46.6 571.2,44.7 571.8,43.8 572.4,45.3 573.0,45.7 573.6,45.8 574.2,44.4 574.8,45.8 575.4,49.2 576.0,51.4 576.6,48.1 577.2,44.3 577.8,44.4 578.4,45.3 579.0,44.6 579.6,44.0 580.2,45.7 580.8,47.6 581.4,49.6 582.0,51.8 582.6,54.7 583.2,55.4 583.8,52.6 584.4,48.8 585.0,46.2 585.6,44.4 586.2,41.2 586.8,40.1 587.4,40.5 588.0,41.7 588.6,42.6 589.2,44.8 589.8,46.1 590.4,44.6 591.0,44.2 591.6,44.5 592.2,44.6 592.8,44.5 593.4,42.7 594.0,41.2 594.6,41.7 595.2,43.5 595.8,45.1 596.3,45.9 596.9,46.7 597.5,47.1 598.1,47.2 598.7,49.6 599.3,50.4 599.9,50.6 600.5,47.4 601.1,45.6 601.7,45.1 602.3,45.8 602.9,46.3 603.5,45.3 604.1,45.7 604.7,46.4 605.3,48.1 605.9,48.6 606.5,50.2 607.1,48.9 607.7,49.0 608.3,49.2 608.9,50.3 609.5,48.8 610.1,48.2 610.7,47.5 611.3,46.4 611.9,47.4 612.5,48.6 613.1,51.3 613.7,52.2 614.3,55.1 614.9,56.5 615.5,56.2 616.1,51.8 616.7,47.7 617.3,46.0 617.9,45.3 618.5,46.4 619.1,49.9 619.7,52.7 620.3,52.7 620.9,50.6 621.5,48.7 622.1,49.8 622.7,49.6 623.3,48.3 623.9,45.6 624.5,46.7 625.1,45.3 625.6,45.2 626.2,47.2 626.8,50.5 627.4,52.5 628.0,52.4 628.6,51.7 629.2,49.4 629.8,48.4 630.4,48.6 631.0,47.8 631.6,48.0 632.2,46.7 632.8,48.3 633.4,47.2 634.0,47.5 634.6,45.9 635.2,46.3 635.8,48.0 636.4,50.3 637.0,50.5 637.6,48.8 638.2,49.8 638.8,52.9 639.4,54.6 640.0,53.3 640.6,52.1 641.2,52.6 641.8,52.2 642.4,51.0 643.0,51.0 643.6,54.9 644.2,59.0 644.8,61.6 645.4,62.3 646.0,59.9 646.6,55.8 647.2,52.1 647.8,49.8 648.4,47.6 649.0,46.0 649.6,45.8 650.2,45.5 650.8,47.8 651.4,50.8 652.0,51.6 652.6,52.1 653.2,53.0 653.8,53.2 654.3,50.1 654.9,47.2 655.5,45.3 656.1,45.7 656.7,45.4 657.3,44.8 657.9,44.5 658.5,44.0 659.1,43.5 659.7,44.4 660.3,45.3 660.9,45.8 661.5,45.4 662.1,48.0 662.7,48.6 663.3,49.5 663.9,49.1 664.5,50.3 665.1,47.0 665.7,44.2 666.3,42.1 666.9,42.2 667.5,41.5 668.1,41.4 668.7,43.5 669.3,44.1 669.9,45.1 670.5,44.6 671.1,45.7 671.7,48.0 672.3,51.5 672.9,53.0 673.5,50.5 674.1,47.2 674.7,45.3 675.3,47.3 675.9,50.7 676.5,52.1 677.1,50.6 677.7,49.5 678.3,49.7 678.9,50.3 679.5,51.9 680.1,53.7 680.7,53.2 681.3,51.0 681.9,49.0 682.5,45.6 683.0,43.8 683.6,43.4 684.2,45.9 684.8,46.6 685.4,46.8 686.0,46.1 686.6,47.0 687.2,48.2 687.8,49.1 688.4,51.0 689.0,54.7 689.6,52.7 690.2,47.9 690.8,44.5 691.4,47.4 692.0,49.0 692.6,46.9 693.2,46.8 693.8,47.4 694.4,47.6 695.0,45.4 695.6,45.3 696.2,46.3 696.8,44.4 697.4,44.7 698.0,46.1 698.6,47.7 699.2,45.2 699.8,44.4 700.4,45.5 701.0,48.9 701.6,52.9 702.2,56.1 702.8,57.3 703.4,58.6 704.0,62.7 704.6,65.8 705.2,65.8 705.8,61.3 706.4,54.9 707.0,49.5 707.6,48.2 708.2,48.0 708.8,47.7 709.4,47.0 710.0,48.6 710.6,50.8 711.2,52.8 711.7,54.7 712.3,56.0 712.9,57.3 713.5,55.9 714.1,53.3 714.7,51.5 715.3,49.1 715.9,46.2 716.5,42.4 717.1,42.3 717.7,42.9 718.3,44.5 718.9,45.5 719.5,46.8 720.1,49.4 720.7,48.3 721.3,48.2 721.9,47.8 722.5,48.6 723.1,46.9 723.7,46.8 724.3,47.8 724.9,48.2 725.5,49.5 726.1,48.5 726.7,49.6 727.3,49.9 727.9,50.9 728.5,48.8 729.1,47.2 729.7,44.3 730.3,43.6 730.9,45.2 731.5,46.2 732.1,45.0 732.7,42.8 733.3,42.2 733.9,42.8 734.5,45.2 735.1,46.1 735.7,46.1 736.3,46.9 736.9,47.2 737.5,46.6 738.1,45.6 738.7,46.2 739.3,44.8 739.9,43.5 740.5,42.5 741.0,44.3 741.6,46.2 742.2,47.3 742.8,46.6 743.4,46.5 744.0,47.5 744.6,48.2 745.2,49.2 745.8,53.1 746.4,58.9 747.0,64.1 747.6,66.6 748.2,67.8 748.8,65.1 749.4,59.6 750.0,53.1 750.6,49.8 751.2,48.8 751.8,47.5 752.4,46.1 753.0,45.5 753.6,47.1 754.2,51.1 754.8,53.1 755.4,53.6 756.0,53.2 756.6,53.8 757.2,54.0 757.8,53.9 758.4,52.8 759.0,50.2 759.6,49.2 760.2,51.9 760.8,53.2 761.4,51.1 762.0,45.9 762.6,43.8 763.2,41.4 763.8,40.4 764.4,40.2 765.0,42.0 765.6,45.2 766.2,47.1 766.8,47.3 767.4,46.9 768.0,47.5 768.6,47.1 769.2,46.8 769.7,47.5 770.3,48.2 770.9,47.8 771.5,48.1 772.1,47.5 772.7,48.7 773.3,48.6 773.9,49.6 774.5,48.5 775.1,47.7 775.7,46.7 776.3,47.5 776.9,48.8 777.5,47.6 778.1,47.7 778.7,47.1 779.3,48.5 779.9,48.1 780.5,48.1 781.1,47.6 781.7,48.0 782.3,48.4 782.9,49.9 783.5,52.0 784.1,53.6 784.7,54.7 785.3,55.3 785.9,54.8 786.5,51.4 787.1,50.5 787.7,47.8 788.3,47.5 788.9,44.8 789.5,44.5 790.1,43.9 790.7,45.0 791.3,44.7 791.9,43.7 792.5,42.4 793.1,43.1 793.7,45.8 794.3,49.9 794.9,50.4 795.5,48.0 796.1,44.9 796.7,44.5 797.3,45.5 797.9,46.9 798.4,48.2 799.0,49.0 799.6,52.0 800.2,54.1 800.8,56.7 801.4,56.3 802.0,56.1 802.6,53.4 803.2,52.2 803.8,51.6 804.4,51.0 805.0,50.9 805.6,48.5 806.2,48.3 806.8,49.2 807.4,52.3 808.0,53.3 808.6,55.9 809.2,57.0 809.8,55.8 810.4,54.7 811.0,53.8 811.6,52.7 812.2,49.8 812.8,47.5 813.4,44.7 814.0,43.6 814.6,44.3 815.2,44.3 815.8,44.8 816.4,44.4 817.0,44.2 817.6,43.6 818.2,44.7 818.8,44.5 819.4,44.4 820.0,44.6 820.6,46.6 821.2,45.9 821.8,46.1 822.4,49.1 823.0,51.5 823.6,50.2 824.2,47.8 824.8,50.9 825.4,55.5 826.0,58.5 826.6,58.2 827.2,57.6 827.7,57.4 828.3,55.1 828.9,51.3 829.5,49.2 830.1,49.0 830.7,47.8 831.3,45.6 831.9,44.6 832.5,44.1 833.1,44.0 833.7,45.2 834.3,47.8 834.9,48.3 835.5,46.2 836.1,42.4 836.7,42.1 837.3,43.5 837.9,43.8 838.5,42.2 839.1,42.3 839.7,43.8 840.3,46.2 840.9,46.8 841.5,47.9 842.1,47.5 842.7,47.2 843.3,46.0 843.9,46.9 844.5,47.4 845.1,46.0 845.7,43.9 846.3,43.9 846.9,44.2 847.5,43.5 848.1,42.2 848.7,43.0 849.3,43.9 849.9,44.8 850.5,45.2 851.1,47.2 851.7,47.7 852.3,47.6 852.9,44.8 853.5,43.9 854.1,43.9 854.7,46.1 855.3,44.5 855.9,45.1 856.4,47.1 857.0,50.8 857.6,51.4 858.2,51.2 858.8,48.2 859.4,46.8 860.0,45.5 860.6,43.4 861.2,41.9 861.8,43.4 862.4,46.9 863.0,50.8 863.6,54.0 864.2,55.4 864.8,58.0 865.4,64.7 866.0,68.6 866.6,66.8 867.2,60.8 867.8,55.2 868.4,51.2 869.0,49.0 869.6,49.6 870.2,48.4 870.8,47.8 871.4,45.9 872.0,46.4 872.6,47.5 873.2,49.7 873.8,51.9 874.4,54.0 875.0,54.6 875.6,53.5 876.2,53.2 876.8,53.4 877.4,52.9 878.0,50.8 878.6,50.1 879.2,50.0 879.8,48.2 880.4,44.9 881.0,42.9 881.6,44.0 882.2,45.0 882.8,45.4 883.4,45.8 884.0,47.9 884.6,47.8 885.1,48.1 885.7,47.8 886.3,49.4 886.9,49.0 887.5,51.2 888.1,51.0 888.7,49.6 889.3,46.7 889.9,45.3 890.5,45.1 891.1,48.2 891.7,49.0 892.3,45.6 892.9,41.1 893.5,41.8 894.1,43.6 894.7,44.5 895.3,45.9 895.9,47.7 896.5,49.0 897.1,46.9 897.7,47.2 898.3,46.7 898.9,47.8 899.5,49.1 900.1,48.7 900.7,47.9 901.3,46.4 901.9,46.3 902.5,45.7 903.1,48.3 903.7,49.5 904.3,48.6 904.9,49.3 905.5,51.6 906.1,51.8 906.7,49.3 907.3,48.0 907.9,47.5 908.5,47.1 909.1,46.0 909.7,46.1 910.3,47.0 910.9,50.2 911.5,51.7 912.1,51.8 912.7,50.5 913.3,52.3 913.8,53.9 914.4,54.7 915.0,53.5 915.6,52.8 916.2,52.8 916.8,53.1 917.4,51.1 918.0,50.0 918.6,49.7 919.2,49.0 919.8,48.7 920.4,48.8 921.0,51.3 921.6,51.8 922.2,52.3 922.8,51.4 923.4,51.8 924.0,52.5 924.6,52.5 925.2,51.6 925.8,49.3 926.4,47.2 927.0,47.4 927.6,47.9 928.2,48.1" fill="none" stroke="#1f77b4" stroke-width="3.9" stroke-linejoin="round" stroke-linecap="butt" clip-path="url(#cl0)" />
<polyline points="91.1,69.1 91.7,67.6 92.3,67.3 92.9,68.8 93.5,70.3 94.1,71.7 94.7,73.1 95.3,72.9 95.9,73.0 96.5,73.3 97.1,73.4 97.7,71.3 98.3,69.5 98.9,70.3 99.5,69.6 100.1,69.7 100.7,70.3 101.3,69.0 101.9,66.4 102.5,64.8 103.1,66.6 103.7,68.6 104.3,76.3 104.9,85.3 105.5,94.1 106.0,95.9 106.6,91.6 107.2,83.9 107.8,76.7 108.4,70.5 109.0,65.8 109.6,64.7 110.2,68.3 110.8,69.3 111.4,70.1 112.0,70.6 112.6,76.8 113.2,80.5 113.8,84.0 114.4,81.2 115.0,77.5 115.6,71.9 116.2,70.7 116.8,69.1 117.4,68.1 118.0,68.9 118.6,69.9 119.2,70.4 119.8,71.4 120.4,71.8 121.0,72.3 121.6,72.0 122.2,73.8 122.8,73.7 123.4,71.9 124.0,66.7 124.6,64.7 125.2,66.1 125.8,68.5 126.4,67.0 127.0,64.1 127.6,63.0 128.2,64.7 128.8,66.1 129.4,65.8 130.0,67.0 130.6,70.5 131.2,75.9 131.8,81.1 132.4,87.0 133.0,86.9 133.6,82.0 134.2,77.4 134.7,76.8 135.3,75.9 135.9,72.5 136.5,69.1 137.1,68.6 137.7,68.6 138.3,71.8 138.9,73.8 139.5,75.1 140.1,73.7 140.7,72.6 141.3,69.6 141.9,66.5 142.5,64.8 143.1,68.2 143.7,69.1 144.3,67.9 144.9,64.1 145.5,65.3 146.1,67.8 146.7,68.7 147.3,67.4 147.9,65.5 148.5,68.1 149.1,70.0 149.7,70.6 150.3,69.7 150.9,71.3 151.5,70.1 152.1,67.9 152.7,68.5 153.3,69.5 153.9,70.4 154.5,72.1 155.1,75.9 155.7,76.8 156.3,75.3 156.9,73.4 157.5,71.5 158.1,71.1 158.7,69.5 159.3,69.1 159.9,67.8 160.5,68.4 161.1,66.7 161.7,66.0 162.3,66.8 162.9,70.9 163.4,75.9 164.0,79.4 164.6,80.2 165.2,76.8 165.8,75.1 166.4,74.1 167.0,72.3 167.6,70.5 168.2,71.2 168.8,70.2 169.4,67.9 170.0,64.6 170.6,63.6 171.2,63.1 171.8,65.3 172.4,66.6 173.0,67.4 173.6,68.5 174.2,70.4 174.8,71.3 175.4,70.2 176.0,69.3 176.6,69.9 177.2,70.5 177.8,67.1 178.4,63.2 179.0,61.3 179.6,63.3 180.2,64.1 180.8,66.6 181.4,67.4 182.0,68.9 182.6,66.5 183.2,67.0 183.8,68.7 184.4,71.2 185.0,71.9 185.6,70.5 186.2,69.7 186.8,67.6 187.4,66.2 188.0,67.2 188.6,68.4 189.2,73.2 189.8,77.5 190.4,80.7 191.0,79.3 191.6,77.0 192.1,76.4 192.7,75.3 193.3,73.7 193.9,71.8 194.5,70.4 195.1,70.4 195.7,69.8 196.3,69.0 196.9,67.4 197.5,68.5 198.1,69.4 198.7,72.2 199.3,74.7 199.9,80.1 200.5,87.0 201.1,96.9 201.7,102.6 202.3,99.1 202.9,88.3 203.5,79.1 204.1,75.8 204.7,75.1 205.3,74.5 205.9,72.3 206.5,74.0 207.1,79.8 207.7,93.1 208.3,103.4 208.9,105.1 209.5,96.0 210.1,84.2 210.7,75.3 211.3,69.6 211.9,68.3 212.5,67.6 213.1,69.3 213.7,73.5 214.3,81.5 214.9,85.7 215.5,85.9 216.1,84.6 216.7,81.5 217.3,76.3 217.9,70.8 218.5,69.3 219.1,68.0 219.7,68.2 220.3,68.2 220.9,67.9 221.4,66.9 222.0,68.7 222.6,70.9 223.2,71.3 223.8,69.6 224.4,68.5 225.0,69.3 225.6,69.5 226.2,69.9 226.8,67.6 227.4,68.4 228.0,68.2 228.6,67.1 229.2,65.9 229.8,66.2 230.4,70.4 231.0,73.2 231.6,75.0 232.2,73.2 232.8,72.3 233.4,70.8 234.0,71.9 234.6,71.4 235.2,70.3 235.8,70.5 236.4,71.8 237.0,69.6 237.6,66.6 238.2,66.0 238.8,65.6 239.4,63.6 240.0,63.9 240.6,65.9 241.2,67.3 241.8,67.9 242.4,67.3 243.0,67.8 243.6,68.4 244.2,70.2 244.8,68.1 245.4,66.9 246.0,67.8 246.6,69.3 247.2,69.5 247.8,69.0 248.4,70.5 249.0,71.2 249.6,72.3 250.1,71.7 250.7,70.8 251.3,70.2 251.9,68.6 252.5,66.0 253.1,65.7 253.7,66.9 254.3,67.2 254.9,65.3 255.5,63.5 256.1,62.5 256.7,62.4 257.3,63.6 257.9,64.0 258.5,64.7 259.1,64.8 259.7,67.7 260.3,69.6 260.9,68.8 261.5,68.0 262.1,72.1 262.7,78.9 263.3,84.6 263.9,88.4 264.5,92.1 265.1,90.7 265.7,83.8 266.3,74.6 266.9,70.8 267.5,68.7 268.1,67.1 268.7,66.1 269.3,67.2 269.9,68.2 270.5,69.1 271.1,71.4 271.7,76.0 272.3,81.6 272.9,84.4 273.5,82.5 274.1,77.7 274.7,72.6 275.3,69.1 275.9,68.1 276.5,66.6 277.1,68.5 277.7,70.6 278.3,71.6 278.8,70.6 279.4,70.6 280.0,70.6 280.6,69.0 281.2,67.6 281.8,66.9 282.4,66.2 283.0,66.3 283.6,65.6 284.2,65.7 284.8,66.9 285.4,67.9 286.0,67.7 286.6,67.0 287.2,67.8 287.8,68.1 288.4,68.3 289.0,68.8 289.6,68.7 290.2,68.8 290.8,70.2 291.4,71.0 292.0,70.7 292.6,71.6 293.2,73.0 293.8,73.6 294.4,72.2 295.0,73.1 295.6,77.0 296.2,82.6 296.8,83.9 297.4,82.1 298.0,79.7 298.6,78.4 299.2,75.9 299.8,72.7 300.4,69.8 301.0,68.5 301.6,68.1 302.2,65.8 302.8,64.2 303.4,65.1 304.0,66.1 304.6,68.0 305.2,71.3 305.8,73.4 306.4,71.3 307.0,68.2 307.6,68.7 308.1,68.9 308.7,68.7 309.3,66.3 309.9,65.3 310.5,66.1 311.1,70.3 311.7,73.2 312.3,74.1 312.9,73.1 313.5,71.9 314.1,69.1 314.7,68.1 315.3,69.2 315.9,69.6 316.5,67.5 317.1,66.1 317.7,68.1 318.3,69.2 318.9,69.2 319.5,67.4 320.1,66.5 320.7,66.8 321.3,68.0 321.9,69.4 322.5,69.8 323.1,69.3 323.7,70.3 324.3,71.3 324.9,72.3 325.5,72.8 326.1,73.2 326.7,75.6 327.3,74.3 327.9,72.8 328.5,71.1 329.1,74.3 329.7,76.2 330.3,76.5 330.9,73.3 331.5,72.1 332.1,71.4 332.7,74.1 333.3,74.0 333.9,74.1 334.5,73.5 335.1,73.3 335.7,74.0 336.3,74.0 336.8,75.7 337.4,77.5 338.0,78.8 338.6,78.0 339.2,75.8 339.8,75.6 340.4,76.8 341.0,77.4 341.6,76.6 342.2,75.2 342.8,74.3 343.4,72.7 344.0,71.4 344.6,71.8 345.2,72.7 345.8,73.7 346.4,72.1 347.0,72.3 347.6,72.7 348.2,74.6 348.8,74.5 349.4,73.5 350.0,72.0 350.6,68.1 351.2,64.1 351.8,61.0 352.4,64.3 353.0,72.6 353.6,80.9 354.2,86.6 354.8,88.7 355.4,88.9 356.0,85.7 356.6,82.3 357.2,77.3 357.8,74.0 358.4,74.7 359.0,78.9 359.6,76.7 360.2,73.8 360.8,72.4 361.4,74.3 362.0,74.3 362.6,73.1 363.2,73.9 363.8,75.1 364.4,77.9 365.0,80.6 365.5,84.8 366.1,86.3 366.7,85.3 367.3,81.4 367.9,76.3 368.5,72.6 369.1,73.0 369.7,75.8 370.3,77.7 370.9,77.2 371.5,76.0 372.1,75.3 372.7,78.0 373.3,80.0 373.9,79.8 374.5,77.8 375.1,78.5 375.7,80.5 376.3,82.1 376.9,83.2 377.5,82.4 378.1,83.4 378.7,84.2 379.3,86.1 379.9,86.5 380.5,89.5 381.1,88.4 381.7,85.9 382.3,83.1 382.9,83.8 383.5,85.5 384.1,86.1 384.7,84.7 385.3,84.6 385.9,85.9 386.5,86.3 387.1,86.6 387.7,87.5 388.3,88.0 388.9,87.2 389.5,88.4 390.1,90.1 390.7,92.1 391.3,93.5 391.9,92.7 392.5,92.2 393.1,93.3 393.7,95.9 394.2,96.1 394.8,95.0 395.4,96.8 396.0,99.1 396.6,100.7 397.2,101.1 397.8,104.3 398.4,106.0 399.0,108.3 399.6,111.5 400.2,113.8 400.8,115.6 401.4,119.4 402.0,125.6 402.6,135.9 403.2,150.2 403.8,168.3 404.4,182.0 405.0,188.8 405.6,186.1 406.2,176.1 406.8,164.0 407.4,150.9 408.0,140.2 408.6,128.6 409.2,121.3 409.8,117.9 410.4,121.5 411.0,123.5 411.6,126.9 412.2,127.4 412.8,126.9 413.4,123.2 414.0,119.3 414.6,116.6 415.2,114.3 415.8,111.1 416.4,105.9 417.0,102.6 417.6,101.4 418.2,100.5 418.8,98.8 419.4,97.0 420.0,96.2 420.6,95.6 421.2,94.9 421.8,95.5 422.4,96.5 423.0,97.1 423.5,95.9 424.1,95.9 424.7,95.1 425.3,93.3 425.9,90.7 426.5,91.7 427.1,92.3 427.7,92.8 428.3,90.0 428.9,91.0 429.5,91.8 430.1,92.6 430.7,93.1 431.3,91.4 431.9,89.4 432.5,88.1 433.1,91.8 433.7,93.3 434.3,92.1 434.9,89.1 435.5,86.4 436.1,83.1 436.7,80.3 437.3,82.6 437.9,83.1 438.5,81.4 439.1,79.1 439.7,80.7 440.3,80.2 440.9,80.4 441.5,79.4 442.1,79.9 442.7,79.6 443.3,82.0 443.9,81.2 444.5,78.3 445.1,74.7 445.7,74.5 446.3,78.3 446.9,80.6 447.5,81.0 448.1,79.6 448.7,80.5 449.3,78.9 449.9,77.5 450.5,76.9 451.1,79.1 451.7,80.2 452.2,79.7 452.8,80.3 453.4,80.3 454.0,78.7 454.6,75.5 455.2,72.8 455.8,72.0 456.4,71.1 457.0,72.6 457.6,74.8 458.2,76.5 458.8,77.8 459.4,77.6 460.0,75.6 460.6,71.2 461.2,71.3 461.8,73.0 462.4,73.8 463.0,74.3 463.6,74.1 464.2,72.4 464.8,68.5 465.4,66.7 466.0,66.4 466.6,68.3 467.2,69.6 467.8,70.0 468.4,68.4 469.0,71.2 469.6,74.9 470.2,76.9 470.8,74.0 471.4,73.0 472.0,73.6 472.6,72.3 473.2,71.3 473.8,71.0 474.4,72.2 475.0,70.4 475.6,71.0 476.2,71.6 476.8,74.3 477.4,75.5 478.0,77.6 478.6,78.4 479.2,77.9 479.8,76.7 480.4,75.7 480.9,75.1 481.5,72.8 482.1,71.1 482.7,68.5 483.3,66.3 483.9,64.7 484.5,66.3 485.1,66.5 485.7,65.5 486.3,64.0 486.9,64.2 487.5,65.9 488.1,69.8 488.7,72.6 489.3,74.6 489.9,74.2 490.5,73.0 491.1,70.0 491.7,69.5 492.3,68.9 492.9,70.3 493.5,74.3 494.1,81.8 494.7,88.7 495.3,91.5 495.9,90.0 496.5,85.4 497.1,80.4 497.7,75.8 498.3,74.4 498.9,75.5 499.5,76.9 500.1,74.4 500.7,72.0 501.3,71.5 501.9,71.5 502.5,70.5 503.1,73.0 503.7,75.6 504.3,76.1 504.9,74.1 505.5,73.9 506.1,73.2 506.7,74.6 507.3,75.6 507.9,75.3 508.5,71.6 509.1,70.9 509.6,70.5 510.2,70.3 510.8,67.7 511.4,67.6 512.0,67.8 512.6,69.3 513.2,71.6 513.8,74.8 514.4,74.4 515.0,73.7 515.6,71.0 516.2,69.7 516.8,68.7 517.4,71.2 518.0,72.8 518.6,72.5 519.2,71.6 519.8,72.6 520.4,72.2 521.0,71.7 521.6,72.1 522.2,74.4 522.8,74.9 523.4,73.1 524.0,71.6 524.6,71.0 525.2,71.5 525.8,70.9 526.4,71.6 527.0,74.0 527.6,75.8 528.2,75.2 528.8,75.5 529.4,77.0 530.0,77.1 530.6,74.7 531.2,72.5 531.8,73.0 532.4,73.1 533.0,74.8 533.6,74.8 534.2,74.8 534.8,70.4 535.4,67.9 536.0,68.9 536.6,70.8 537.2,71.5 537.8,70.9 538.4,70.4 538.9,69.8 539.5,70.7 540.1,71.7 540.7,71.0 541.3,71.3 541.9,74.8 542.5,78.8 543.1,80.6 543.7,79.2 544.3,75.7 544.9,71.4 545.5,69.7 546.1,71.0 546.7,71.3 547.3,70.5 547.9,67.7 548.5,66.3 549.1,64.7 549.7,67.8 550.3,69.5 550.9,69.5 551.5,69.5 552.1,71.2 552.7,71.5 553.3,70.3 553.9,72.0 554.5,72.6 555.1,70.9 555.7,68.0 556.3,67.6 556.9,68.0 557.5,69.4 558.1,71.2 558.7,74.0 559.3,74.2 559.9,73.0 560.5,71.7 561.1,71.7 561.7,71.1 562.3,71.5 562.9,72.1 563.5,71.7 564.1,69.1 564.7,68.7 565.3,69.3 565.9,70.9 566.5,71.3 567.1,70.1 567.6,71.1 568.2,70.5 568.8,71.1 569.4,69.3 570.0,69.5 570.6,67.9 571.2,66.4 571.8,65.3 572.4,64.7 573.0,67.4 573.6,69.8 574.2,70.3 574.8,68.2 575.4,69.0 576.0,67.6 576.6,65.2 577.2,63.1 577.8,61.0 578.4,61.0 579.0,61.8 579.6,64.4 580.2,63.2 580.8,64.2 581.4,66.2 582.0,67.3 582.6,68.1 583.2,68.9 583.8,69.8 584.4,70.3 585.0,72.1 585.6,73.2 586.2,71.7 586.8,69.5 587.4,68.9 588.0,71.0 588.6,72.0 589.2,69.6 589.8,65.6 590.4,65.6 591.0,67.0 591.6,67.5 592.2,68.4 592.8,69.2 593.4,71.0 594.0,72.1 594.6,73.4 595.2,73.0 595.8,71.6 596.3,69.9 596.9,69.1 597.5,70.1 598.1,70.2 598.7,69.8 599.3,69.0 599.9,69.3 600.5,72.4 601.1,75.7 601.7,76.7 602.3,75.8 602.9,74.6 603.5,73.4 604.1,73.8 604.7,73.2 605.3,69.8 605.9,67.5 606.5,67.5 607.1,68.2 607.7,67.8 608.3,69.3 608.9,69.3 609.5,68.5 610.1,67.6 610.7,66.5 611.3,67.4 611.9,67.4 612.5,68.3 613.1,69.0 613.7,69.5 614.3,70.9 614.9,73.0 615.5,78.8 616.1,82.6 616.7,82.0 617.3,78.1 617.9,73.5 618.5,71.2 619.1,69.0 619.7,68.9 620.3,69.5 620.9,70.1 621.5,71.6 622.1,73.1 622.7,74.8 623.3,71.6 623.9,69.8 624.5,69.4 625.1,70.7 625.6,71.6 626.2,70.6 626.8,71.5 627.4,73.0 628.0,75.2 628.6,75.9 629.2,74.1 629.8,72.0 630.4,67.8 631.0,68.5 631.6,69.0 632.2,69.4 632.8,68.7 633.4,67.8 634.0,67.6 634.6,67.7 635.2,69.2 635.8,68.7 636.4,68.8 637.0,70.1 637.6,71.9 638.2,71.9 638.8,71.5 639.4,70.7 640.0,69.1 640.6,68.0 641.2,68.4 641.8,69.5 642.4,69.6 643.0,70.0 643.6,70.3 644.2,71.2 644.8,74.0 645.4,78.2 646.0,81.8 646.6,83.5 647.2,82.8 647.8,77.4 648.4,72.5 649.0,68.1 649.6,66.2 650.2,65.8 650.8,66.9 651.4,67.0 652.0,66.8 652.6,67.7 653.2,67.5 653.8,69.3 654.3,70.5 654.9,70.2 655.5,67.2 656.1,67.1 656.7,67.3 657.3,67.2 657.9,64.7 658.5,64.7 659.1,65.0 659.7,65.5 660.3,65.0 660.9,64.3 661.5,64.7 662.1,65.8 662.7,67.7 663.3,66.8 663.9,64.8 664.5,65.5 665.1,67.8 665.7,68.4 666.3,67.0 666.9,67.8 667.5,71.2 668.1,74.4 668.7,75.5 669.3,73.4 669.9,71.2 670.5,68.6 671.1,67.4 671.7,67.4 672.3,67.7 672.9,67.4 673.5,67.4 674.1,68.5 674.7,69.0 675.3,66.0 675.9,65.4 676.5,65.4 677.1,67.4 677.7,64.1 678.3,62.3 678.9,63.0 679.5,64.0 680.1,64.2 680.7,64.2 681.3,66.3 681.9,65.4 682.5,64.3 683.0,64.4 683.6,66.3 684.2,65.9 684.8,66.7 685.4,66.7 686.0,69.1 686.6,68.8 687.2,69.8 687.8,68.3 688.4,68.8 689.0,66.8 689.6,66.7 690.2,67.4 690.8,69.0 691.4,69.2 692.0,70.5 692.6,71.3 693.2,70.5 693.8,70.1 694.4,69.7 695.0,69.5 695.6,67.6 696.2,66.9 696.8,68.6 697.4,70.0 698.0,69.2 698.6,68.2 699.2,68.5 699.8,70.3 700.4,71.2 701.0,73.0 701.6,70.7 702.2,70.7 702.8,70.7 703.4,73.1 704.0,75.9 704.6,83.3 705.2,86.1 705.8,88.5 706.4,86.7 707.0,82.6 707.6,75.1 708.2,71.0 708.8,70.8 709.4,69.6 710.0,68.8 710.6,67.6 711.2,68.8 711.7,70.3 712.3,71.6 712.9,74.4 713.5,76.0 714.1,74.1 714.7,71.8 715.3,70.3 715.9,69.9 716.5,68.6 717.1,71.0 717.7,70.7 718.3,70.7 718.9,69.9 719.5,69.7 720.1,67.0 720.7,65.7 721.3,65.5 721.9,66.1 722.5,64.8 723.1,65.8 723.7,67.1 724.3,69.0 724.9,68.4 725.5,68.8 726.1,69.1 726.7,70.9 727.3,72.5 727.9,72.0 728.5,68.2 729.1,66.1 729.7,66.6 730.3,66.8 730.9,65.9 731.5,67.5 732.1,68.5 732.7,68.9 733.3,68.0 733.9,70.2 734.5,72.4 735.1,73.3 735.7,71.6 736.3,68.9 736.9,67.9 737.5,65.9 738.1,64.5 738.7,64.3 739.3,66.3 739.9,68.6 740.5,68.7 741.0,67.9 741.6,67.0 742.2,68.3 742.8,68.6 743.4,68.6 744.0,68.2 744.6,68.7 745.2,69.7 745.8,69.5 746.4,69.2 747.0,71.8 747.6,78.4 748.2,86.8 748.8,93.7 749.4,97.1 750.0,94.6 750.6,88.4 751.2,78.7 751.8,71.3 752.4,66.8 753.0,65.1 753.6,63.3 754.2,62.9 754.8,66.8 755.4,71.8 756.0,77.5 756.6,82.1 757.2,85.8 757.8,84.8 758.4,78.4 759.0,74.1 759.6,71.4 760.2,70.0 760.8,69.3 761.4,71.2 762.0,71.2 762.6,71.9 763.2,72.3 763.8,71.8 764.4,69.6 765.0,69.2 765.6,70.6 766.2,71.8 766.8,71.5 767.4,66.8 768.0,64.5 768.6,64.6 769.2,66.8 769.7,66.4 770.3,67.8 770.9,66.6 771.5,66.9 772.1,68.3 772.7,71.0 773.3,69.4 773.9,66.9 774.5,66.9 775.1,66.3 775.7,65.9 776.3,63.6 776.9,64.7 777.5,65.0 778.1,68.9 778.7,69.9 779.3,68.5 779.9,64.1 780.5,62.4 781.1,63.4 781.7,64.2 782.3,64.6 782.9,67.0 783.5,68.8 784.1,69.4 784.7,69.7 785.3,70.7 785.9,71.8 786.5,71.6 787.1,70.9 787.7,71.4 788.3,72.1 788.9,73.2 789.5,71.5 790.1,71.6 790.7,70.8 791.3,69.6 791.9,67.3 792.5,65.7 793.1,64.0 793.7,63.0 794.3,62.6 794.9,64.4 795.5,66.2 796.1,66.5 796.7,67.5 797.3,68.7 797.9,68.9 798.4,67.4 799.0,66.6 799.6,66.5 800.2,65.7 800.8,68.0 801.4,73.9 802.0,81.1 802.6,84.2 803.2,82.5 803.8,78.0 804.4,73.6 805.0,72.1 805.6,70.7 806.2,67.1 806.8,64.7 807.4,65.2 808.0,65.9 808.6,65.6 809.2,68.2 809.8,74.7 810.4,80.5 811.0,81.0 811.6,80.3 812.2,78.6 812.8,76.7 813.4,72.9 814.0,72.2 814.6,71.5 815.2,70.9 815.8,68.9 816.4,68.5 817.0,66.7 817.6,66.7 818.2,67.2 818.8,71.2 819.4,72.4 820.0,72.0 820.6,69.7 821.2,69.2 821.8,68.9 822.4,67.1 823.0,65.9 823.6,66.0 824.2,68.3 824.8,68.5 825.4,67.2 826.0,68.8 826.6,72.6 827.2,77.7 827.7,78.8 828.3,80.4 828.9,77.4 829.5,73.5 830.1,69.0 830.7,69.0 831.3,68.3 831.9,65.6 832.5,63.0 833.1,64.2 833.7,67.6 834.3,70.3 834.9,69.6 835.5,70.0 836.1,71.2 836.7,73.0 837.3,74.4 837.9,75.1 838.5,74.3 839.1,70.9 839.7,69.8 840.3,71.0 840.9,71.4 841.5,71.0 842.1,70.3 842.7,70.1 843.3,70.8 843.9,71.8 844.5,69.6 845.1,67.7 845.7,67.7 846.3,71.5 846.9,71.8 847.5,71.5 848.1,71.6 848.7,71.1 849.3,70.6 849.9,67.4 850.5,68.5 851.1,68.4 851.7,67.9 852.3,65.1 852.9,64.1 853.5,64.9 854.1,66.6 854.7,67.7 855.3,67.9 855.9,68.4 856.4,68.8 857.0,68.5 857.6,68.8 858.2,74.6 858.8,79.1 859.4,79.5 860.0,74.7 860.6,70.2 861.2,65.5 861.8,62.7 862.4,62.7 863.0,63.6 863.6,66.7 864.2,69.3 864.8,71.0 865.4,73.2 866.0,80.3 866.6,88.6 867.2,92.8 867.8,92.0 868.4,86.3 869.0,77.5 869.6,71.1 870.2,67.8 870.8,69.3 871.4,70.4 872.0,70.9 872.6,68.8 873.2,68.0 873.8,69.0 874.4,70.7 875.0,73.9 875.6,74.9 876.2,74.9 876.8,72.7 877.4,72.4 878.0,73.6 878.6,75.4 879.2,74.3 879.8,71.7 880.4,71.1 881.0,72.1 881.6,71.6 882.2,68.8 882.8,67.5 883.4,69.5 884.0,71.3 884.6,71.9 885.1,72.9 885.7,72.9 886.3,71.8 886.9,69.6 887.5,73.1 888.1,76.3 888.7,78.6 889.3,77.3 889.9,77.2 890.5,75.5 891.1,75.6 891.7,77.5 892.3,80.1 892.9,78.1 893.5,76.7 894.1,75.5 894.7,76.8 895.3,76.7 895.9,75.1 896.5,68.9 897.1,65.8 897.7,66.7 898.3,68.3 898.9,66.6 899.5,68.6 900.1,70.7 900.7,71.5 901.3,69.8 901.9,70.5 902.5,69.0 903.1,69.0 903.7,70.1 904.3,71.2 904.9,72.5 905.5,74.7 906.1,76.1 906.7,76.0 907.3,74.1 907.9,72.1 908.5,68.9 909.1,66.7 909.7,64.5 910.3,63.3 910.9,63.3 911.5,63.2 912.1,63.3 912.7,65.5 913.3,70.0 913.8,73.7 914.4,74.4 915.0,71.9 915.6,72.0 916.2,72.3 916.8,72.5 917.4,70.2 918.0,68.5 918.6,67.3 919.2,66.8 919.8,68.4 920.4,69.0 921.0,68.8 921.6,65.4 922.2,62.8 922.8,61.2 923.4,62.8 924.0,64.8 924.6,67.0 925.2,67.7 925.8,68.9 926.4,69.1 927.0,69.2 927.6,68.0 928.2,64.1" fill="none" stroke="#9467bd" stroke-width="3.9" stroke-linejoin="round" stroke-linecap="butt" clip-path="url(#cl0)"  stroke-opacity="0.72"/>
<polyline points="91.1,247.7 91.7,248.0 92.3,245.7 92.9,242.3 93.5,240.9 94.1,240.7 94.7,243.0 95.3,246.0 95.9,250.0 96.5,251.9 97.1,252.0 97.7,250.4 98.3,250.2 98.9,249.4 99.5,248.9 100.1,248.7 100.7,250.6 101.3,250.3 101.9,251.7 102.5,257.2 103.1,267.0 103.7,273.8 104.3,279.3 104.9,280.7 105.5,278.0 106.0,273.5 106.6,267.8 107.2,262.6 107.8,258.0 108.4,256.9 109.0,254.2 109.6,251.7 110.2,251.4 110.8,254.5 111.4,257.4 112.0,259.4 112.6,259.3 113.2,259.4 113.8,257.6 114.4,254.5 115.0,252.1 115.6,251.2 116.2,251.0 116.8,250.4 117.4,250.1 118.0,251.9 118.6,253.6 119.2,254.1 119.8,254.7 120.4,256.5 121.0,255.3 121.6,253.2 122.2,252.5 122.8,252.9 123.4,252.1 124.0,252.6 124.6,253.2 125.2,252.5 125.8,251.3 126.4,249.8 127.0,247.3 127.6,246.1 128.2,246.1 128.8,248.2 129.4,251.0 130.0,255.6 130.6,260.7 131.2,264.3 131.8,265.0 132.4,263.8 133.0,260.2 133.6,255.6 134.2,251.5 134.7,250.7 135.3,252.8 135.9,252.7 136.5,252.3 137.1,254.1 137.7,257.4 138.3,258.8 138.9,257.5 139.5,257.2 140.1,254.5 140.7,252.8 141.3,251.0 141.9,250.2 142.5,248.4 143.1,249.0 143.7,249.3 144.3,250.2 144.9,251.2 145.5,253.8 146.1,255.1 146.7,254.4 147.3,252.4 147.9,251.0 148.5,249.5 149.1,248.2 149.7,246.6 150.3,245.9 150.9,246.8 151.5,247.8 152.1,247.5 152.7,247.2 153.3,248.3 153.9,249.7 154.5,248.6 155.1,248.5 155.7,249.1 156.3,251.3 156.9,252.4 157.5,252.9 158.1,252.3 158.7,251.4 159.3,249.6 159.9,248.9 160.5,250.9 161.1,253.5 161.7,255.3 162.3,257.9 162.9,259.8 163.4,260.0 164.0,258.0 164.6,256.2 165.2,252.5 165.8,250.7 166.4,249.9 167.0,249.9 167.6,248.5 168.2,247.8 168.8,249.8 169.4,251.5 170.0,252.5 170.6,251.3 171.2,250.9 171.8,250.9 172.4,251.4 173.0,251.7 173.6,250.8 174.2,249.6 174.8,249.7 175.4,251.8 176.0,252.1 176.6,252.6 177.2,253.2 177.8,254.9 178.4,254.8 179.0,254.0 179.6,251.9 180.2,250.1 180.8,250.1 181.4,250.2 182.0,251.0 182.6,251.0 183.2,251.5 183.8,251.9 184.4,252.5 185.0,251.3 185.6,251.9 186.2,252.1 186.8,250.8 187.4,249.5 188.0,250.7 188.6,252.5 189.2,254.1 189.8,256.3 190.4,256.8 191.0,255.3 191.6,253.8 192.1,253.4 192.7,253.0 193.3,252.1 193.9,251.9 194.5,252.6 195.1,251.9 195.7,251.9 196.3,252.7 196.9,254.0 197.5,256.5 198.1,260.6 198.7,267.9 199.3,274.1 199.9,278.0 200.5,277.4 201.1,275.1 201.7,271.3 202.3,264.8 202.9,259.3 203.5,255.4 204.1,254.9 204.7,256.9 205.3,262.9 205.9,269.9 206.5,277.1 207.1,283.1 207.7,284.0 208.3,279.8 208.9,272.8 209.5,265.9 210.1,260.1 210.7,256.2 211.3,255.7 211.9,257.9 212.5,262.5 213.1,266.9 213.7,271.6 214.3,274.4 214.9,274.6 215.5,271.5 216.1,266.8 216.7,259.8 217.3,255.6 217.9,254.0 218.5,254.7 219.1,254.3 219.7,254.9 220.3,253.9 220.9,254.1 221.4,254.1 222.0,254.8 222.6,255.0 223.2,256.0 223.8,255.2 224.4,253.5 225.0,250.7 225.6,248.5 226.2,246.9 226.8,248.4 227.4,248.6 228.0,248.9 228.6,246.2 229.2,245.6 229.8,245.3 230.4,246.5 231.0,246.9 231.6,248.4 232.2,250.5 232.8,251.8 233.4,254.4 234.0,257.0 234.6,258.7 235.2,258.3 235.8,258.4 236.4,258.2 237.0,256.6 237.6,254.5 238.2,251.6 238.8,249.5 239.4,248.2 240.0,249.6 240.6,249.9 241.2,250.7 241.8,252.0 242.4,253.9 243.0,252.1 243.6,250.9 244.2,251.3 244.8,251.6 245.4,249.4 246.0,248.5 246.6,248.3 247.2,249.6 247.8,250.6 248.4,253.0 249.0,251.4 249.6,250.3 250.1,247.3 250.7,247.1 251.3,247.0 251.9,249.7 252.5,251.6 253.1,252.8 253.7,251.5 254.3,251.5 254.9,253.6 255.5,253.8 256.1,250.9 256.7,249.2 257.3,249.4 257.9,248.4 258.5,246.4 259.1,248.1 259.7,250.5 260.3,253.5 260.9,255.0 261.5,259.3 262.1,265.0 262.7,270.0 263.3,270.3 263.9,268.2 264.5,265.3 265.1,261.3 265.7,256.1 266.3,252.9 266.9,252.6 267.5,253.6 268.1,253.7 268.7,253.2 269.3,255.7 269.9,260.4 270.5,263.8 271.1,266.2 271.7,267.8 272.3,267.3 272.9,262.4 273.5,257.0 274.1,252.8 274.7,251.3 275.3,250.2 275.9,249.4 276.5,249.2 277.1,249.1 277.7,251.1 278.3,252.0 278.8,253.3 279.4,252.0 280.0,250.7 280.6,249.7 281.2,250.2 281.8,251.0 282.4,249.5 283.0,247.6 283.6,247.5 284.2,248.7 284.8,248.8 285.4,248.6 286.0,251.2 286.6,254.3 287.2,255.4 287.8,253.7 288.4,252.6 289.0,250.1 289.6,248.7 290.2,246.0 290.8,246.2 291.4,245.1 292.0,246.1 292.6,245.7 293.2,246.3 293.8,247.1 294.4,250.2 295.0,255.5 295.6,260.1 296.2,264.2 296.8,262.3 297.4,257.8 298.0,252.9 298.6,254.1 299.2,253.3 299.8,254.0 300.4,254.2 301.0,258.1 301.6,259.3 302.2,258.9 302.8,255.9 303.4,255.4 304.0,255.7 304.6,253.9 305.2,252.7 305.8,251.5 306.4,252.1 307.0,250.5 307.6,251.2 308.1,250.6 308.7,253.0 309.3,255.5 309.9,258.3 310.5,259.6 311.1,259.2 311.7,257.9 312.3,255.5 312.9,252.4 313.5,249.9 314.1,248.0 314.7,247.4 315.3,246.6 315.9,248.3 316.5,249.1 317.1,248.2 317.7,246.2 318.3,245.6 318.9,245.4 319.5,247.4 320.1,248.9 320.7,249.6 321.3,249.1 321.9,251.2 322.5,252.1 323.1,251.9 323.7,249.4 324.3,248.0 324.9,248.3 325.5,251.1 326.1,252.6 326.7,251.8 327.3,250.9 327.9,248.5 328.5,248.6 329.1,249.1 329.7,250.4 330.3,249.2 330.9,250.0 331.5,251.1 332.1,251.9 332.7,251.6 333.3,252.7 333.9,253.9 334.5,254.2 335.1,252.0 335.7,251.9 336.3,251.8 336.8,250.9 337.4,250.0 338.0,249.4 338.6,248.1 339.2,246.6 339.8,247.3 340.4,247.1 341.0,247.5 341.6,249.0 342.2,251.5 342.8,252.8 343.4,253.3 344.0,252.7 344.6,251.0 345.2,250.5 345.8,251.5 346.4,251.8 347.0,249.9 347.6,248.1 348.2,248.9 348.8,250.5 349.4,252.0 350.0,251.7 350.6,251.5 351.2,253.6 351.8,258.4 352.4,263.7 353.0,268.7 353.6,271.5 354.2,269.9 354.8,266.3 355.4,262.2 356.0,258.5 356.6,254.1 357.2,250.1 357.8,248.8 358.4,250.2 359.0,253.0 359.6,254.3 360.2,256.4 360.8,258.6 361.4,261.4 362.0,260.3 362.6,259.6 363.2,260.2 363.8,262.3 364.4,260.7 365.0,257.5 365.5,255.0 366.1,255.4 366.7,254.4 367.3,252.0 367.9,249.4 368.5,249.7 369.1,250.6 369.7,250.5 370.3,251.1 370.9,251.1 371.5,252.6 372.1,253.6 372.7,255.2 373.3,255.7 373.9,256.3 374.5,255.9 375.1,254.5 375.7,255.0 376.3,257.5 376.9,258.4 377.5,258.3 378.1,258.7 378.7,260.5 379.3,260.6 379.9,262.0 380.5,262.0 381.1,261.3 381.7,261.8 382.3,262.9 382.9,262.8 383.5,260.7 384.1,260.9 384.7,262.2 385.3,264.3 385.9,265.2 386.5,265.6 387.1,266.5 387.7,265.4 388.3,264.2 388.9,265.0 389.5,266.9 390.1,267.2 390.7,268.2 391.3,270.6 391.9,273.5 392.5,276.8 393.1,278.5 393.7,277.5 394.2,275.7 394.8,276.4 395.4,278.1 396.0,279.3 396.6,279.8 397.2,280.2 397.8,281.3 398.4,283.6 399.0,288.1 399.6,293.2 400.2,298.8 400.8,302.5 401.4,306.7 402.0,311.5 402.6,320.7 403.2,332.0 403.8,346.7 404.4,359.1 405.0,365.1 405.6,360.3 406.2,350.5 406.8,337.7 407.4,326.7 408.0,316.7 408.6,310.2 409.2,305.5 409.8,305.9 410.4,307.9 411.0,311.0 411.6,315.0 412.2,316.6 412.8,315.5 413.4,312.3 414.0,307.4 414.6,299.4 415.2,293.8 415.8,290.2 416.4,286.2 417.0,280.8 417.6,278.7 418.2,277.0 418.8,275.5 419.4,275.3 420.0,274.4 420.6,271.8 421.2,269.1 421.8,269.3 422.4,270.5 423.0,272.2 423.5,274.6 424.1,275.7 424.7,275.0 425.3,271.3 425.9,267.7 426.5,265.0 427.1,264.4 427.7,262.5 428.3,263.4 428.9,265.5 429.5,266.3 430.1,264.3 430.7,264.3 431.3,266.2 431.9,266.9 432.5,265.9 433.1,266.0 433.7,267.2 434.3,267.1 434.9,266.0 435.5,264.4 436.1,261.9 436.7,259.8 437.3,258.2 437.9,259.5 438.5,262.1 439.1,263.5 439.7,263.5 440.3,263.7 440.9,264.6 441.5,264.9 442.1,265.6 442.7,264.0 443.3,262.4 443.9,259.0 444.5,257.8 445.1,254.3 445.7,253.2 446.3,251.5 446.9,251.9 447.5,252.2 448.1,254.0 448.7,254.7 449.3,254.6 449.9,253.8 450.5,254.6 451.1,255.0 451.7,253.9 452.2,251.7 452.8,250.1 453.4,251.1 454.0,252.5 454.6,253.4 455.2,252.0 455.8,251.2 456.4,251.7 457.0,254.0 457.6,255.9 458.2,255.8 458.8,255.8 459.4,255.7 460.0,254.8 460.6,252.3 461.2,251.3 461.8,252.9 462.4,254.6 463.0,253.6 463.6,251.5 464.2,249.2 464.8,249.9 465.4,251.0 466.0,253.5 466.6,252.8 467.2,254.1 467.8,254.1 468.4,253.3 469.0,251.8 469.6,253.4 470.2,254.9 470.8,254.8 471.4,253.1 472.0,251.6 472.6,251.1 473.2,251.5 473.8,249.7 474.4,248.2 475.0,248.1 475.6,247.0 476.2,246.1 476.8,246.6 477.4,247.2 478.0,247.1 478.6,250.3 479.2,254.5 479.8,257.3 480.4,257.2 480.9,255.7 481.5,254.4 482.1,252.6 482.7,250.7 483.3,248.9 483.9,251.3 484.5,253.4 485.1,253.9 485.7,252.6 486.3,251.2 486.9,252.6 487.5,254.0 488.1,254.7 488.7,252.7 489.3,251.2 489.9,248.0 490.5,247.2 491.1,248.1 491.7,251.7 492.3,255.5 492.9,259.5 493.5,264.0 494.1,266.2 494.7,264.6 495.3,257.7 495.9,254.8 496.5,255.4 497.1,257.3 497.7,256.0 498.3,254.4 498.9,252.8 499.5,251.2 500.1,251.3 500.7,252.0 501.3,255.3 501.9,257.8 502.5,259.7 503.1,261.3 503.7,261.2 504.3,258.3 504.9,253.8 505.5,251.6 506.1,250.3 506.7,250.2 507.3,250.2 507.9,250.1 508.5,249.4 509.1,249.5 509.6,249.4 510.2,251.2 510.8,252.4 511.4,251.3 512.0,249.3 512.6,249.5 513.2,251.4 513.8,250.8 514.4,249.5 515.0,250.2 515.6,251.6 516.2,250.1 516.8,250.0 517.4,251.1 518.0,253.2 518.6,252.7 519.2,253.3 519.8,254.1 520.4,257.1 521.0,258.2 521.6,257.2 522.2,254.9 522.8,254.5 523.4,253.9 524.0,250.5 524.6,248.6 525.2,248.4 525.8,250.3 526.4,249.5 527.0,248.7 527.6,246.9 528.2,247.0 528.8,248.3 529.4,249.6 530.0,249.1 530.6,248.4 531.2,247.8 531.8,246.2 532.4,245.9 533.0,246.3 533.6,248.1 534.2,248.4 534.8,247.1 535.4,246.5 536.0,246.2 536.6,245.5 537.2,244.3 537.8,246.0 538.4,249.7 538.9,254.2 539.5,257.9 540.1,260.5 540.7,260.5 541.3,260.4 541.9,260.8 542.5,260.1 543.1,258.5 543.7,254.4 544.3,252.0 544.9,250.7 545.5,252.8 546.1,253.1 546.7,252.4 547.3,251.4 547.9,252.2 548.5,253.3 549.1,253.6 549.7,254.1 550.3,253.0 550.9,252.3 551.5,252.6 552.1,253.3 552.7,253.2 553.3,252.8 553.9,253.5 554.5,252.7 555.1,252.9 555.7,254.0 556.3,254.0 556.9,252.5 557.5,253.3 558.1,254.5 558.7,255.8 559.3,254.5 559.9,253.8 560.5,251.9 561.1,253.2 561.7,254.1 562.3,253.2 562.9,252.4 563.5,251.9 564.1,252.4 564.7,251.6 565.3,252.9 565.9,252.7 566.5,252.3 567.1,250.8 567.6,248.9 568.2,248.8 568.8,250.4 569.4,253.8 570.0,253.4 570.6,253.8 571.2,253.2 571.8,254.8 572.4,254.2 573.0,252.5 573.6,249.3 574.2,247.9 574.8,246.9 575.4,246.6 576.0,246.2 576.6,247.9 577.2,249.0 577.8,250.9 578.4,250.5 579.0,250.6 579.6,250.3 580.2,251.6 580.8,251.1 581.4,250.8 582.0,250.9 582.6,250.6 583.2,250.3 583.8,249.1 584.4,247.7 585.0,247.8 585.6,248.5 586.2,248.5 586.8,246.8 587.4,247.0 588.0,248.1 588.6,248.2 589.2,248.1 589.8,249.2 590.4,251.2 591.0,253.0 591.6,252.5 592.2,252.8 592.8,251.6 593.4,252.1 594.0,252.1 594.6,252.9 595.2,253.0 595.8,253.1 596.3,252.0 596.9,253.8 597.5,255.7 598.1,257.6 598.7,257.1 599.3,257.8 599.9,256.6 600.5,254.6 601.1,251.4 601.7,247.8 602.3,245.6 602.9,245.3 603.5,245.4 604.1,245.2 604.7,244.1 605.3,245.4 605.9,248.2 606.5,250.8 607.1,250.6 607.7,250.9 608.3,251.9 608.9,255.2 609.5,257.0 610.1,257.3 610.7,256.1 611.3,255.9 611.9,255.5 612.5,255.1 613.1,257.6 613.7,262.3 614.3,265.4 614.9,263.9 615.5,260.8 616.1,258.1 616.7,256.2 617.3,252.7 617.9,248.6 618.5,247.6 619.1,247.8 619.7,250.7 620.3,250.2 620.9,251.2 621.5,251.6 622.1,253.8 622.7,253.3 623.3,253.2 623.9,252.4 624.5,251.6 625.1,250.0 625.6,249.5 626.2,250.8 626.8,252.1 627.4,254.2 628.0,253.3 628.6,252.4 629.2,252.5 629.8,253.1 630.4,253.5 631.0,253.3 631.6,254.2 632.2,253.3 632.8,251.7 633.4,249.8 634.0,250.4 634.6,251.8 635.2,252.0 635.8,251.6 636.4,250.5 637.0,251.1 637.6,250.2 638.2,251.5 638.8,251.0 639.4,250.0 640.0,248.6 640.6,248.9 641.2,251.1 641.8,252.0 642.4,252.6 643.0,252.8 643.6,257.6 644.2,261.9 644.8,265.9 645.4,266.0 646.0,263.8 646.6,259.2 647.2,254.4 647.8,251.7 648.4,250.4 649.0,250.3 649.6,251.2 650.2,251.1 650.8,251.6 651.4,252.2 652.0,253.3 652.6,253.9 653.2,254.9 653.8,257.8 654.3,258.9 654.9,259.0 655.5,257.3 656.1,255.6 656.7,254.0 657.3,253.3 657.9,253.2 658.5,252.1 659.1,251.1 659.7,251.1 660.3,252.4 660.9,252.6 661.5,252.5 662.1,252.1 662.7,251.9 663.3,251.4 663.9,251.9 664.5,253.0 665.1,252.7 665.7,251.4 666.3,249.8 666.9,250.0 667.5,250.3 668.1,250.7 668.7,250.8 669.3,249.6 669.9,250.2 670.5,252.1 671.1,254.8 671.7,253.3 672.3,252.9 672.9,252.1 673.5,252.8 674.1,252.4 674.7,252.5 675.3,251.4 675.9,251.1 676.5,251.1 677.1,251.3 677.7,252.4 678.3,252.3 678.9,251.9 679.5,251.3 680.1,251.0 680.7,250.6 681.3,251.1 681.9,251.2 682.5,252.0 683.0,254.3 683.6,256.4 684.2,256.8 684.8,255.9 685.4,255.2 686.0,254.3 686.6,254.0 687.2,253.5 687.8,253.1 688.4,253.1 689.0,253.2 689.6,252.9 690.2,251.9 690.8,250.5 691.4,250.1 692.0,249.9 692.6,248.6 693.2,247.3 693.8,247.9 694.4,248.7 695.0,248.5 695.6,249.2 696.2,249.3 696.8,249.1 697.4,249.5 698.0,251.2 698.6,252.5 699.2,252.8 699.8,254.4 700.4,255.2 701.0,255.5 701.6,255.2 702.2,256.7 702.8,260.5 703.4,264.9 704.0,266.5 704.6,265.4 705.2,261.1 705.8,256.0 706.4,252.0 707.0,250.8 707.6,251.8 708.2,251.4 708.8,250.6 709.4,250.7 710.0,253.5 710.6,256.0 711.2,256.1 711.7,255.4 712.3,256.1 712.9,257.2 713.5,256.5 714.1,254.0 714.7,252.6 715.3,251.7 715.9,251.7 716.5,252.6 717.1,252.4 717.7,250.4 718.3,247.9 718.9,248.0 719.5,249.1 720.1,249.6 720.7,248.8 721.3,247.7 721.9,247.3 722.5,245.9 723.1,245.3 723.7,245.0 724.3,247.3 724.9,250.0 725.5,251.4 726.1,252.0 726.7,252.8 727.3,254.4 727.9,254.8 728.5,253.7 729.1,251.0 729.7,248.7 730.3,248.6 730.9,250.0 731.5,251.4 732.1,251.7 732.7,251.8 733.3,252.3 733.9,253.1 734.5,251.1 735.1,249.3 735.7,249.4 736.3,251.7 736.9,253.4 737.5,253.0 738.1,251.8 738.7,251.5 739.3,250.8 739.9,250.6 740.5,251.6 741.0,252.9 741.6,251.1 742.2,248.9 742.8,247.9 743.4,249.3 744.0,250.2 744.6,251.3 745.2,252.8 745.8,257.4 746.4,261.5 747.0,265.8 747.6,269.4 748.2,270.2 748.8,264.6 749.4,258.9 750.0,253.1 750.6,244.3 751.2,232.6 751.8,233.1 752.4,242.9 753.0,252.3 753.6,256.1 754.2,260.1 754.8,263.3 755.4,264.3 756.0,263.5 756.6,262.7 757.2,260.5 757.8,255.5 758.4,251.5 759.0,249.4 759.6,249.8 760.2,251.2 760.8,252.3 761.4,252.6 762.0,252.2 762.6,251.6 763.2,251.1 763.8,252.2 764.4,252.6 765.0,252.1 765.6,253.2 766.2,254.6 766.8,254.9 767.4,253.4 768.0,252.5 768.6,252.2 769.2,251.6 769.7,251.3 770.3,250.5 770.9,249.6 771.5,248.6 772.1,248.4 772.7,248.5 773.3,247.6 773.9,247.5 774.5,248.0 775.1,249.6 775.7,251.2 776.3,254.9 776.9,257.9 777.5,256.6 778.1,255.2 778.7,253.2 779.3,253.7 779.9,252.2 780.5,251.7 781.1,251.1 781.7,250.6 782.3,252.0 782.9,251.7 783.5,252.1 784.1,250.2 784.7,249.4 785.3,248.2 785.9,247.6 786.5,248.4 787.1,250.1 787.7,250.4 788.3,249.8 788.9,250.9 789.5,253.4 790.1,253.8 790.7,252.7 791.3,251.5 791.9,251.0 792.5,251.7 793.1,251.6 793.7,251.8 794.3,250.4 794.9,250.4 795.5,248.9 796.1,249.2 796.7,250.8 797.3,253.2 797.9,254.0 798.4,253.7 799.0,253.6 799.6,255.5 800.2,258.8 800.8,260.4 801.4,259.8 802.0,257.8 802.6,256.3 803.2,253.5 803.8,252.2 804.4,252.9 805.0,254.3 805.6,253.5 806.2,252.6 806.8,252.6 807.4,252.8 808.0,252.4 808.6,254.0 809.2,258.2 809.8,260.4 810.4,261.1 811.0,258.5 811.6,257.1 812.2,253.6 812.8,252.0 813.4,251.4 814.0,252.5 814.6,253.3 815.2,254.4 815.8,253.6 816.4,252.0 817.0,250.3 817.6,252.1 818.2,254.3 818.8,253.5 819.4,250.5 820.0,250.5 820.6,252.0 821.2,252.0 821.8,251.7 822.4,252.9 823.0,251.9 823.6,251.7 824.2,252.5 824.8,255.5 825.4,258.2 826.0,258.5 826.6,257.0 827.2,255.9 827.7,256.2 828.3,254.3 828.9,252.2 829.5,250.2 830.1,248.5 830.7,248.2 831.3,249.6 831.9,252.0 832.5,252.7 833.1,254.4 833.7,254.3 834.3,252.9 834.9,251.1 835.5,249.2 836.1,250.2 836.7,251.1 837.3,252.9 837.9,251.2 838.5,249.8 839.1,249.6 839.7,252.2 840.3,253.3 840.9,253.3 841.5,252.7 842.1,255.5 842.7,256.2 843.3,255.8 843.9,253.3 844.5,251.3 845.1,250.9 845.7,251.7 846.3,252.2 846.9,251.7 847.5,251.2 848.1,250.4 848.7,250.3 849.3,251.4 849.9,251.4 850.5,251.6 851.1,251.2 851.7,250.1 852.3,248.1 852.9,249.3 853.5,249.5 854.1,248.6 854.7,249.6 855.3,251.7 855.9,253.3 856.4,254.2 857.0,258.6 857.6,260.9 858.2,262.4 858.8,261.4 859.4,259.4 860.0,255.9 860.6,254.4 861.2,253.7 861.8,253.2 862.4,252.8 863.0,254.3 863.6,257.6 864.2,262.1 864.8,267.2 865.4,270.3 866.0,269.7 866.6,266.8 867.2,263.3 867.8,261.0 868.4,257.9 869.0,256.8 869.6,254.9 870.2,254.4 870.8,255.1 871.4,255.6 872.0,255.6 872.6,254.9 873.2,254.9 873.8,253.3 874.4,252.3 875.0,252.8 875.6,255.0 876.2,258.0 876.8,260.6 877.4,260.4 878.0,259.3 878.6,256.5 879.2,255.6 879.8,254.1 880.4,252.9 881.0,251.2 881.6,251.3 882.2,251.2 882.8,251.7 883.4,252.8 884.0,253.5 884.6,251.1 885.1,250.3 885.7,252.1 886.3,252.7 886.9,253.3 887.5,254.9 888.1,257.3 888.7,255.9 889.3,256.3 889.9,257.1 890.5,256.4 891.1,253.3 891.7,252.8 892.3,253.9 892.9,254.1 893.5,253.3 894.1,253.4 894.7,254.3 895.3,254.1 895.9,253.2 896.5,253.7 897.1,254.4 897.7,254.8 898.3,253.9 898.9,253.0 899.5,252.6 900.1,253.3 900.7,253.1 901.3,251.2 901.9,249.9 902.5,250.1 903.1,251.2 903.7,251.2 904.3,251.1 904.9,251.6 905.5,253.6 906.1,254.0 906.7,252.9 907.3,250.8 907.9,250.7 908.5,251.8 909.1,251.3 909.7,249.5 910.3,248.4 910.9,250.0 911.5,251.5 912.1,251.8 912.7,250.6 913.3,249.9 913.8,250.4 914.4,251.4 915.0,252.2 915.6,250.4 916.2,249.8 916.8,248.3 917.4,248.7 918.0,246.7 918.6,247.7 919.2,247.6 919.8,249.0 920.4,249.4 921.0,251.1 921.6,252.2 922.2,253.1 922.8,253.1 923.4,250.8 924.0,249.9 924.6,251.3 925.2,252.6 925.8,251.3 926.4,252.9 927.0,254.9 927.6,257.0 928.2,257.1" fill="none" stroke="#1f77b4" stroke-width="3.9" stroke-linejoin="round" stroke-linecap="butt" clip-path="url(#cl1)" />
<polyline points="91.1,449.4 91.7,451.3 92.3,453.8 92.9,453.5 93.5,453.7 94.1,453.8 94.7,453.9 95.3,453.3 95.9,453.2 96.5,452.2 97.1,451.5 97.7,452.2 98.3,452.4 98.9,453.0 99.5,454.2 100.1,454.3 100.7,453.1 101.3,453.9 101.9,455.0 102.5,453.8 103.1,454.8 103.7,458.3 104.3,464.2 104.9,470.8 105.5,478.0 106.0,481.9 106.6,478.8 107.2,471.5 107.8,464.9 108.4,461.8 109.0,460.2 109.6,459.2 110.2,459.3 110.8,460.8 111.4,461.2 112.0,462.0 112.6,462.0 113.2,461.8 113.8,459.6 114.4,458.1 115.0,456.0 115.6,453.7 116.2,452.2 116.8,452.0 117.4,453.3 118.0,454.8 118.6,456.1 119.2,456.0 119.8,454.6 120.4,453.8 121.0,451.7 121.6,452.4 122.2,453.1 122.8,452.5 123.4,451.2 124.0,449.9 124.6,450.8 125.2,450.3 125.8,450.1 126.4,449.4 127.0,450.6 127.6,452.0 128.2,451.1 128.8,450.1 129.4,450.3 130.0,452.4 130.6,455.0 131.2,459.2 131.8,464.7 132.4,468.5 133.0,469.3 133.6,468.2 134.2,465.1 134.7,459.6 135.3,453.3 135.9,452.4 136.5,453.6 137.1,454.9 137.7,454.8 138.3,457.5 138.9,460.0 139.5,461.9 140.1,461.6 140.7,460.8 141.3,458.0 141.9,455.5 142.5,452.8 143.1,451.1 143.7,448.9 144.3,446.9 144.9,446.5 145.5,448.1 146.1,449.7 146.7,449.9 147.3,450.6 147.9,450.6 148.5,450.2 149.1,448.6 149.7,448.8 150.3,448.7 150.9,449.3 151.5,450.4 152.1,452.5 152.7,454.2 153.3,454.9 153.9,454.6 154.5,454.7 155.1,455.0 155.7,455.9 156.3,454.1 156.9,452.8 157.5,452.0 158.1,453.0 158.7,452.5 159.3,452.7 159.9,452.9 160.5,454.7 161.1,455.8 161.7,455.5 162.3,454.3 162.9,456.2 163.4,459.3 164.0,461.0 164.6,457.6 165.2,456.2 165.8,455.6 166.4,456.8 167.0,454.9 167.6,453.4 168.2,453.3 168.8,453.5 169.4,452.1 170.0,451.2 170.6,451.2 171.2,451.2 171.8,450.4 172.4,450.8 173.0,450.9 173.6,451.7 174.2,452.2 174.8,451.4 175.4,451.1 176.0,451.8 176.6,453.1 177.2,452.4 177.8,452.1 178.4,451.0 179.0,451.2 179.6,452.1 180.2,452.0 180.8,450.8 181.4,448.5 182.0,447.7 182.6,449.5 183.2,452.8 183.8,453.5 184.4,452.1 185.0,452.9 185.6,453.9 186.2,452.2 186.8,449.6 187.4,449.7 188.0,450.5 188.6,449.9 189.2,450.0 189.8,451.1 190.4,454.6 191.0,456.2 191.6,457.1 192.1,456.0 192.7,455.8 193.3,454.8 193.9,454.2 194.5,453.1 195.1,451.6 195.7,450.7 196.3,451.9 196.9,453.4 197.5,455.1 198.1,456.7 198.7,459.1 199.3,461.2 199.9,466.0 200.5,471.2 201.1,477.2 201.7,477.7 202.3,473.4 202.9,465.0 203.5,458.0 204.1,454.2 204.7,453.6 205.3,455.4 205.9,458.3 206.5,462.8 207.1,471.5 207.7,479.7 208.3,486.2 208.9,486.5 209.5,481.7 210.1,471.0 210.7,462.1 211.3,458.7 211.9,457.1 212.5,458.6 213.1,461.5 213.7,467.2 214.3,472.2 214.9,476.9 215.5,478.5 216.1,476.2 216.7,470.5 217.3,464.2 217.9,459.8 218.5,456.4 219.1,452.8 219.7,451.3 220.3,452.2 220.9,453.9 221.4,454.6 222.0,455.0 222.6,456.0 223.2,455.4 223.8,453.4 224.4,450.6 225.0,451.9 225.6,452.6 226.2,454.1 226.8,455.2 227.4,456.6 228.0,455.2 228.6,453.8 229.2,453.3 229.8,454.2 230.4,453.9 231.0,452.7 231.6,452.1 232.2,452.3 232.8,453.7 233.4,453.7 234.0,455.8 234.6,456.5 235.2,457.8 235.8,458.8 236.4,459.1 237.0,458.3 237.6,456.0 238.2,455.1 238.8,453.2 239.4,452.9 240.0,451.2 240.6,450.7 241.2,450.0 241.8,452.0 242.4,454.4 243.0,455.7 243.6,453.3 244.2,452.0 244.8,451.2 245.4,451.0 246.0,450.5 246.6,451.7 247.2,451.4 247.8,450.9 248.4,451.9 249.0,453.7 249.6,453.9 250.1,453.6 250.7,452.1 251.3,451.3 251.9,450.2 252.5,450.7 253.1,449.3 253.7,449.5 254.3,450.1 254.9,452.5 255.5,453.6 256.1,454.1 256.7,453.0 257.3,452.1 257.9,451.3 258.5,452.5 259.1,453.9 259.7,454.6 260.3,453.0 260.9,453.0 261.5,453.6 262.1,454.2 262.7,456.4 263.3,462.8 263.9,467.3 264.5,468.5 265.1,465.8 265.7,461.6 266.3,456.7 266.9,452.3 267.5,451.2 268.1,450.5 268.7,451.5 269.3,451.1 269.9,452.9 270.5,455.4 271.1,460.2 271.7,465.3 272.3,469.9 272.9,470.4 273.5,468.3 274.1,462.4 274.7,457.3 275.3,453.9 275.9,453.2 276.5,451.1 277.1,450.1 277.7,450.1 278.3,452.5 278.8,452.9 279.4,452.4 280.0,450.4 280.6,449.6 281.2,450.0 281.8,451.3 282.4,452.6 283.0,451.1 283.6,449.5 284.2,448.8 284.8,450.6 285.4,451.5 286.0,453.4 286.6,453.5 287.2,454.3 287.8,453.8 288.4,453.2 289.0,451.2 289.6,450.4 290.2,450.6 290.8,449.3 291.4,447.0 292.0,446.4 292.6,447.1 293.2,448.0 293.8,447.9 294.4,449.4 295.0,451.8 295.6,455.8 296.2,459.8 296.8,461.4 297.4,460.8 298.0,460.4 298.6,459.7 299.2,457.4 299.8,455.3 300.4,456.1 301.0,457.4 301.6,457.2 302.2,457.2 302.8,456.4 303.4,454.5 304.0,451.6 304.6,450.0 305.2,450.1 305.8,449.7 306.4,449.8 307.0,449.2 307.6,450.7 308.1,450.2 308.7,450.4 309.3,449.9 309.9,450.2 310.5,450.3 311.1,452.2 311.7,454.6 312.3,454.7 312.9,453.5 313.5,452.6 314.1,453.6 314.7,455.0 315.3,455.2 315.9,454.5 316.5,455.1 317.1,456.5 317.7,456.1 318.3,453.6 318.9,451.7 319.5,452.1 320.1,450.9 320.7,449.4 321.3,447.9 321.9,449.9 322.5,450.8 323.1,451.1 323.7,449.9 324.3,450.9 324.9,453.3 325.5,456.0 326.1,456.6 326.7,455.7 327.3,454.5 327.9,455.5 328.5,456.5 329.1,455.9 329.7,453.0 330.3,451.1 330.9,450.3 331.5,451.8 332.1,451.5 332.7,451.0 333.3,450.0 333.9,451.5 334.5,452.3 335.1,453.1 335.7,453.5 336.3,454.5 336.8,454.5 337.4,453.6 338.0,453.7 338.6,455.3 339.2,456.7 339.8,456.5 340.4,454.4 341.0,453.1 341.6,451.3 342.2,452.1 342.8,452.7 343.4,453.8 344.0,452.6 344.6,450.8 345.2,448.0 345.8,447.0 346.4,447.5 347.0,447.8 347.6,445.9 348.2,446.4 348.8,447.7 349.4,448.7 350.0,449.0 350.6,450.0 351.2,451.7 351.8,453.5 352.4,456.1 353.0,457.6 353.6,459.5 354.2,463.1 354.8,468.0 355.4,468.6 356.0,465.3 356.6,459.3 357.2,455.5 357.8,453.7 358.4,453.6 359.0,453.4 359.6,451.6 360.2,453.0 360.8,454.5 361.4,455.9 362.0,455.7 362.6,455.0 363.2,453.2 363.8,450.7 364.4,450.7 365.0,452.2 365.5,453.5 366.1,455.0 366.7,455.5 367.3,455.6 367.9,455.0 368.5,455.0 369.1,456.3 369.7,457.9 370.3,459.7 370.9,460.1 371.5,459.9 372.1,459.6 372.7,457.8 373.3,454.8 373.9,452.4 374.5,452.7 375.1,454.2 375.7,454.8 376.3,455.1 376.9,454.7 377.5,455.0 378.1,455.5 378.7,456.5 379.3,458.0 379.9,460.9 380.5,463.3 381.1,464.4 381.7,463.9 382.3,462.1 382.9,461.9 383.5,462.1 384.1,463.2 384.7,462.5 385.3,461.7 385.9,461.0 386.5,462.1 387.1,463.6 387.7,463.4 388.3,464.2 388.9,466.5 389.5,468.8 390.1,468.8 390.7,469.9 391.3,471.1 391.9,472.2 392.5,472.5 393.1,474.5 393.7,476.6 394.2,477.6 394.8,477.2 395.4,475.9 396.0,476.5 396.6,479.0 397.2,482.0 397.8,482.0 398.4,484.3 399.0,488.3 399.6,492.0 400.2,493.9 400.8,495.4 401.4,499.3 402.0,502.0 402.6,506.8 403.2,514.7 403.8,527.8 404.4,544.6 405.0,559.6 405.6,570.4 406.2,571.6 406.8,562.9 407.4,548.4 408.0,535.2 408.6,527.4 409.2,522.9 409.8,522.0 410.4,523.3 411.0,524.9 411.6,523.2 412.2,519.8 412.8,515.3 413.4,509.9 414.0,503.0 414.6,495.9 415.2,487.7 415.8,483.3 416.4,481.2 417.0,480.8 417.6,479.5 418.2,480.0 418.8,479.4 419.4,476.6 420.0,473.6 420.6,472.7 421.2,473.0 421.8,472.5 422.4,472.9 423.0,473.5 423.5,472.6 424.1,470.2 424.7,468.9 425.3,468.8 425.9,467.5 426.5,466.0 427.1,463.4 427.7,460.7 428.3,458.5 428.9,459.9 429.5,459.7 430.1,458.4 430.7,455.7 431.3,457.3 431.9,460.7 432.5,464.4 433.1,466.1 433.7,464.8 434.3,465.1 434.9,465.9 435.5,465.8 436.1,462.7 436.7,459.9 437.3,459.6 437.9,458.3 438.5,457.2 439.1,456.8 439.7,457.0 440.3,456.7 440.9,456.2 441.5,455.9 442.1,454.9 442.7,454.2 443.3,454.0 443.9,453.8 444.5,454.2 445.1,453.1 445.7,452.9 446.3,453.0 446.9,454.4 447.5,454.5 448.1,455.6 448.7,454.5 449.3,454.3 449.9,454.0 450.5,456.1 451.1,457.6 451.7,459.1 452.2,459.4 452.8,459.0 453.4,457.8 454.0,454.5 454.6,452.0 455.2,450.9 455.8,450.5 456.4,451.7 457.0,451.8 457.6,452.8 458.2,451.0 458.8,451.7 459.4,450.8 460.0,450.3 460.6,449.1 461.2,450.6 461.8,453.9 462.4,455.2 463.0,452.8 463.6,450.4 464.2,449.0 464.8,449.6 465.4,449.8 466.0,452.1 466.6,455.6 467.2,458.7 467.8,458.8 468.4,459.2 469.0,461.3 469.6,461.6 470.2,458.0 470.8,453.4 471.4,451.7 472.0,452.2 472.6,454.3 473.2,455.3 473.8,454.0 474.4,453.1 475.0,453.0 475.6,454.8 476.2,455.1 476.8,455.7 477.4,454.0 478.0,454.0 478.6,452.5 479.2,451.4 479.8,451.6 480.4,452.3 480.9,451.4 481.5,451.0 482.1,452.1 482.7,451.4 483.3,449.6 483.9,449.1 484.5,450.1 485.1,450.4 485.7,449.4 486.3,446.9 486.9,446.3 487.5,446.9 488.1,447.8 488.7,448.5 489.3,451.0 489.9,453.0 490.5,453.2 491.1,452.2 491.7,452.4 492.3,454.0 492.9,457.0 493.5,461.0 494.1,466.0 494.7,470.9 495.3,473.8 495.9,471.9 496.5,466.4 497.1,460.4 497.7,456.5 498.3,454.1 498.9,453.6 499.5,454.4 500.1,455.6 500.7,454.9 501.3,454.9 501.9,454.1 502.5,454.9 503.1,452.9 503.7,451.9 504.3,452.1 504.9,454.5 505.5,453.4 506.1,451.4 506.7,451.3 507.3,451.4 507.9,450.3 508.5,448.4 509.1,448.0 509.6,449.3 510.2,450.6 510.8,450.3 511.4,448.7 512.0,449.0 512.6,448.8 513.2,448.3 513.8,447.8 514.4,447.8 515.0,450.3 515.6,451.0 516.2,450.5 516.8,449.0 517.4,450.1 518.0,451.6 518.6,452.1 519.2,452.7 519.8,453.0 520.4,453.5 521.0,455.2 521.6,456.2 522.2,456.1 522.8,454.4 523.4,454.7 524.0,454.6 524.6,453.9 525.2,453.6 525.8,454.6 526.4,453.9 527.0,452.4 527.6,451.3 528.2,451.3 528.8,451.7 529.4,450.9 530.0,449.6 530.6,449.0 531.2,449.8 531.8,449.9 532.4,450.1 533.0,451.2 533.6,451.7 534.2,452.4 534.8,451.7 535.4,452.0 536.0,450.6 536.6,449.8 537.2,448.7 537.8,448.6 538.4,448.7 538.9,448.8 539.5,449.0 540.1,450.2 540.7,453.2 541.3,455.5 541.9,456.6 542.5,458.8 543.1,460.7 543.7,460.9 544.3,457.8 544.9,454.4 545.5,451.2 546.1,450.5 546.7,452.8 547.3,454.5 547.9,455.2 548.5,453.9 549.1,454.5 549.7,455.1 550.3,455.7 550.9,454.3 551.5,455.2 552.1,456.3 552.7,457.9 553.3,458.8 553.9,460.9 554.5,461.1 555.1,458.2 555.7,454.9 556.3,453.1 556.9,452.7 557.5,450.5 558.1,448.6 558.7,448.2 559.3,449.1 559.9,450.1 560.5,451.9 561.1,454.5 561.7,454.7 562.3,453.8 562.9,452.5 563.5,452.6 564.1,451.1 564.7,449.2 565.3,448.5 565.9,449.2 566.5,450.3 567.1,449.9 567.6,450.1 568.2,450.1 568.8,450.6 569.4,450.4 570.0,450.7 570.6,450.1 571.2,450.4 571.8,449.7 572.4,451.0 573.0,452.9 573.6,453.9 574.2,452.6 574.8,452.6 575.4,451.3 576.0,450.2 576.6,448.2 577.2,449.4 577.8,448.6 578.4,448.1 579.0,447.8 579.6,448.1 580.2,447.7 580.8,445.7 581.4,445.2 582.0,445.9 582.6,448.2 583.2,450.3 583.8,452.4 584.4,453.6 585.0,455.1 585.6,455.5 586.2,453.1 586.8,449.3 587.4,447.0 588.0,447.4 588.6,448.6 589.2,450.2 589.8,449.9 590.4,450.8 591.0,449.7 591.6,449.9 592.2,447.1 592.8,446.9 593.4,447.3 594.0,449.5 594.6,450.8 595.2,450.4 595.8,450.9 596.3,451.5 596.9,453.6 597.5,453.8 598.1,455.0 598.7,455.9 599.3,456.0 599.9,456.7 600.5,457.1 601.1,456.2 601.7,453.4 602.3,451.7 602.9,450.7 603.5,450.3 604.1,452.8 604.7,454.4 605.3,454.3 605.9,451.7 606.5,450.1 607.1,449.5 607.7,450.5 608.3,450.3 608.9,449.3 609.5,449.6 610.1,449.7 610.7,448.5 611.3,446.4 611.9,446.5 612.5,447.5 613.1,447.8 613.7,449.9 614.3,452.4 614.9,457.1 615.5,463.1 616.1,468.0 616.7,468.1 617.3,463.7 617.9,459.6 618.5,456.8 619.1,454.8 619.7,452.7 620.3,453.7 620.9,455.9 621.5,455.9 622.1,453.7 622.7,453.7 623.3,453.1 623.9,450.4 624.5,449.2 625.1,450.2 625.6,451.6 626.2,451.9 626.8,452.5 627.4,453.6 628.0,455.5 628.6,457.3 629.2,458.5 629.8,457.7 630.4,455.1 631.0,452.3 631.6,451.8 632.2,451.4 632.8,451.8 633.4,453.1 634.0,453.7 634.6,452.8 635.2,450.7 635.8,451.2 636.4,451.5 637.0,452.7 637.6,450.1 638.2,449.4 638.8,448.8 639.4,452.1 640.0,453.8 640.6,454.3 641.2,453.2 641.8,453.6 642.4,453.8 643.0,453.1 643.6,453.1 644.2,454.8 644.8,458.2 645.4,461.4 646.0,464.0 646.6,465.1 647.2,464.7 647.8,462.5 648.4,459.0 649.0,454.3 649.6,451.6 650.2,451.2 650.8,450.9 651.4,449.4 652.0,449.7 652.6,451.5 653.2,453.1 653.8,453.6 654.3,453.7 654.9,452.1 655.5,450.8 656.1,450.7 656.7,450.3 657.3,449.3 657.9,448.0 658.5,448.3 659.1,448.8 659.7,450.2 660.3,450.8 660.9,450.5 661.5,450.7 662.1,451.6 662.7,451.5 663.3,450.1 663.9,449.4 664.5,450.3 665.1,450.1 665.7,450.0 666.3,450.4 666.9,452.3 667.5,452.1 668.1,451.5 668.7,452.9 669.3,454.5 669.9,455.0 670.5,453.4 671.1,451.4 671.7,450.1 672.3,448.4 672.9,448.0 673.5,447.8 674.1,449.6 674.7,451.8 675.3,452.9 675.9,453.5 676.5,453.3 677.1,452.9 677.7,451.4 678.3,450.2 678.9,450.5 679.5,450.0 680.1,449.7 680.7,449.4 681.3,450.9 681.9,452.2 682.5,451.7 683.0,448.8 683.6,448.5 684.2,450.2 684.8,453.2 685.4,455.3 686.0,455.7 686.6,454.4 687.2,452.1 687.8,452.6 688.4,453.1 689.0,452.0 689.6,451.2 690.2,450.3 690.8,450.0 691.4,449.2 692.0,450.3 692.6,451.1 693.2,452.4 693.8,452.8 694.4,452.8 695.0,452.4 695.6,452.4 696.2,451.2 696.8,448.3 697.4,448.5 698.0,449.6 698.6,450.4 699.2,449.6 699.8,450.4 700.4,450.4 701.0,449.5 701.6,450.3 702.2,450.8 702.8,452.1 703.4,453.9 704.0,459.1 704.6,462.9 705.2,467.4 705.8,469.5 706.4,468.4 707.0,464.0 707.6,460.1 708.2,456.9 708.8,454.0 709.4,453.9 710.0,455.4 710.6,456.6 711.2,456.7 711.7,457.7 712.3,458.3 712.9,458.8 713.5,459.6 714.1,459.8 714.7,458.0 715.3,456.5 715.9,455.2 716.5,454.1 717.1,453.1 717.7,453.3 718.3,451.7 718.9,450.4 719.5,449.1 720.1,450.1 720.7,450.6 721.3,451.9 721.9,451.8 722.5,451.7 723.1,450.7 723.7,451.4 724.3,451.0 724.9,451.9 725.5,451.1 726.1,451.6 726.7,450.2 727.3,451.4 727.9,451.6 728.5,451.6 729.1,449.5 729.7,449.4 730.3,449.7 730.9,451.3 731.5,451.4 732.1,452.4 732.7,452.8 733.3,452.9 733.9,453.4 734.5,454.9 735.1,455.1 735.7,451.8 736.3,448.6 736.9,448.4 737.5,449.6 738.1,450.2 738.7,450.1 739.3,449.6 739.9,450.6 740.5,452.8 741.0,455.7 741.6,456.2 742.2,454.8 742.8,453.2 743.4,453.8 744.0,455.1 744.6,455.1 745.2,453.1 745.8,451.9 746.4,452.0 747.0,454.0 747.6,458.0 748.2,463.5 748.8,470.3 749.4,474.1 750.0,473.0 750.6,465.4 751.2,459.0 751.8,455.1 752.4,454.0 753.0,453.9 753.6,456.4 754.2,456.8 754.8,456.8 755.4,458.1 756.0,460.5 756.6,460.9 757.2,461.5 757.8,462.2 758.4,460.6 759.0,458.0 759.6,455.5 760.2,455.2 760.8,452.6 761.4,451.0 762.0,449.0 762.6,450.6 763.2,451.4 763.8,452.8 764.4,452.1 765.0,451.1 765.6,450.8 766.2,451.7 766.8,452.7 767.4,452.6 768.0,451.3 768.6,451.9 769.2,453.2 769.7,453.7 770.3,451.7 770.9,451.6 771.5,452.3 772.1,453.4 772.7,453.4 773.3,453.4 773.9,453.2 774.5,453.0 775.1,453.0 775.7,451.4 776.3,451.0 776.9,450.5 777.5,452.2 778.1,453.2 778.7,455.2 779.3,454.8 779.9,452.9 780.5,450.1 781.1,450.4 781.7,450.1 782.3,450.1 782.9,449.6 783.5,450.7 784.1,451.1 784.7,452.7 785.3,454.3 785.9,455.0 786.5,453.6 787.1,453.1 787.7,454.6 788.3,454.9 788.9,452.8 789.5,450.6 790.1,452.2 790.7,450.2 791.3,448.8 791.9,448.4 792.5,451.3 793.1,451.2 793.7,451.1 794.3,450.5 794.9,450.0 795.5,449.6 796.1,448.9 796.7,449.6 797.3,449.6 797.9,450.0 798.4,449.6 799.0,450.0 799.6,450.3 800.2,451.1 800.8,453.7 801.4,457.0 802.0,460.8 802.6,462.8 803.2,462.3 803.8,458.9 804.4,455.8 805.0,453.9 805.6,454.4 806.2,455.6 806.8,456.2 807.4,453.9 808.0,453.4 808.6,453.8 809.2,456.7 809.8,459.2 810.4,463.5 811.0,465.7 811.6,465.4 812.2,463.4 812.8,460.5 813.4,458.7 814.0,456.0 814.6,452.9 815.2,451.3 815.8,452.2 816.4,454.3 817.0,454.9 817.6,455.3 818.2,453.7 818.8,453.3 819.4,451.9 820.0,453.0 820.6,452.0 821.2,451.5 821.8,449.9 822.4,450.2 823.0,451.8 823.6,451.1 824.2,451.9 824.8,451.6 825.4,453.6 826.0,454.6 826.6,456.7 827.2,457.1 827.7,456.9 828.3,458.6 828.9,459.4 829.5,457.3 830.1,453.4 830.7,450.3 831.3,449.4 831.9,450.8 832.5,453.2 833.1,453.8 833.7,454.2 834.3,455.5 834.9,455.7 835.5,453.1 836.1,451.5 836.7,451.6 837.3,451.7 837.9,450.2 838.5,450.1 839.1,450.9 839.7,452.2 840.3,453.8 840.9,454.0 841.5,453.5 842.1,453.6 842.7,455.4 843.3,456.1 843.9,455.1 844.5,454.5 845.1,453.3 845.7,451.9 846.3,450.6 846.9,451.9 847.5,453.2 848.1,454.9 848.7,453.6 849.3,454.2 849.9,454.2 850.5,453.9 851.1,453.5 851.7,453.9 852.3,455.6 852.9,454.0 853.5,453.5 854.1,452.7 854.7,453.8 855.3,453.1 855.9,452.4 856.4,452.0 857.0,452.7 857.6,454.8 858.2,457.2 858.8,458.0 859.4,457.2 860.0,456.0 860.6,454.8 861.2,453.4 861.8,452.2 862.4,451.6 863.0,449.8 863.6,450.4 864.2,453.4 864.8,457.6 865.4,461.0 866.0,465.7 866.6,470.3 867.2,472.7 867.8,472.1 868.4,468.0 869.0,460.3 869.6,453.5 870.2,450.9 870.8,451.3 871.4,452.6 872.0,453.5 872.6,455.0 873.2,456.2 873.8,457.5 874.4,457.7 875.0,459.2 875.6,459.3 876.2,459.1 876.8,458.1 877.4,458.4 878.0,459.4 878.6,460.2 879.2,458.9 879.8,455.1 880.4,450.9 881.0,448.4 881.6,448.7 882.2,449.7 882.8,450.5 883.4,450.7 884.0,451.3 884.6,451.6 885.1,452.3 885.7,454.1 886.3,454.6 886.9,453.6 887.5,452.3 888.1,453.9 888.7,457.1 889.3,458.6 889.9,457.2 890.5,456.1 891.1,454.4 891.7,452.0 892.3,451.6 892.9,451.5 893.5,450.7 894.1,451.3 894.7,454.8 895.3,456.2 895.9,454.2 896.5,453.3 897.1,453.0 897.7,451.9 898.3,451.6 898.9,453.7 899.5,455.3 900.1,454.3 900.7,452.1 901.3,451.6 901.9,454.7 902.5,457.6 903.1,457.9 903.7,456.1 904.3,454.9 904.9,454.5 905.5,454.1 906.1,454.5 906.7,456.1 907.3,456.0 907.9,456.5 908.5,456.0 909.1,456.2 909.7,454.5 910.3,452.5 910.9,450.2 911.5,450.8 912.1,452.2 912.7,452.7 913.3,451.7 913.8,454.1 914.4,455.2 915.0,454.1 915.6,453.8 916.2,455.2 916.8,454.8 917.4,452.8 918.0,451.2 918.6,450.0 919.2,450.0 919.8,451.2 920.4,450.6 921.0,449.0 921.6,447.8 922.2,448.1 922.8,448.9 923.4,449.8 924.0,450.2 924.6,451.0 925.2,453.0 925.8,454.3 926.4,453.9 927.0,452.6 927.6,451.5 928.2,451.8" fill="none" stroke="#1f77b4" stroke-width="3.9" stroke-linejoin="round" stroke-linecap="butt" clip-path="url(#cl2)" />
<polyline points="91.1,658.0 91.7,656.6 92.3,656.1 92.9,656.0 93.5,656.2 94.1,655.1 94.7,653.8 95.3,654.5 95.9,655.1 96.5,655.0 97.1,654.3 97.7,654.4 98.3,656.1 98.9,658.2 99.5,659.1 100.1,660.2 100.7,660.7 101.3,661.9 101.9,662.1 102.5,662.4 103.1,662.2 103.7,663.0 104.3,663.8 104.9,662.7 105.5,661.2 106.0,659.3 106.6,655.7 107.2,652.9 107.8,652.8 108.4,654.6 109.0,655.9 109.6,658.1 110.2,663.4 110.8,670.8 111.4,678.8 112.0,683.1 112.6,684.7 113.2,680.3 113.8,675.0 114.4,668.2 115.0,664.4 115.6,662.0 116.2,660.7 116.8,660.3 117.4,660.4 118.0,661.8 118.6,661.9 119.2,662.8 119.8,665.2 120.4,665.9 121.0,665.0 121.6,660.4 122.2,657.7 122.8,655.2 123.4,657.4 124.0,657.0 124.6,656.3 125.2,655.7 125.8,657.1 126.4,655.8 127.0,655.9 127.6,656.2 128.2,656.9 128.8,656.6 129.4,657.9 130.0,658.3 130.6,657.9 131.2,657.0 131.8,655.2 132.4,653.3 133.0,652.8 133.6,652.5 134.2,653.8 134.7,653.9 135.3,655.9 135.9,657.3 136.5,659.2 137.1,661.7 137.7,665.5 138.3,671.3 138.9,675.2 139.5,675.6 140.1,670.7 140.7,666.4 141.3,661.8 141.9,658.6 142.5,654.5 143.1,654.5 143.7,655.8 144.3,658.3 144.9,660.4 145.5,662.1 146.1,663.1 146.7,661.0 147.3,658.9 147.9,657.9 148.5,658.4 149.1,658.5 149.7,658.9 150.3,660.3 150.9,658.8 151.5,657.3 152.1,655.5 152.7,656.6 153.3,656.2 153.9,657.7 154.5,656.3 155.1,655.5 155.7,653.4 156.3,654.3 156.9,653.4 157.5,652.8 158.1,653.1 158.7,654.4 159.3,656.0 159.9,656.7 160.5,657.7 161.1,656.7 161.7,654.9 162.3,654.7 162.9,654.2 163.4,653.5 164.0,652.8 164.6,654.4 165.2,655.5 165.8,653.5 166.4,653.2 167.0,654.9 167.6,658.3 168.2,657.6 168.8,657.2 169.4,657.8 170.0,659.8 170.6,662.4 171.2,662.3 171.8,662.2 172.4,659.4 173.0,657.1 173.6,656.0 174.2,656.5 174.8,658.0 175.4,659.3 176.0,661.5 176.6,662.1 177.2,662.4 177.8,661.8 178.4,659.3 179.0,657.7 179.6,657.8 180.2,657.7 180.8,656.4 181.4,655.4 182.0,655.4 182.6,655.1 183.2,656.1 183.8,657.3 184.4,657.1 185.0,656.5 185.6,656.2 186.2,655.8 186.8,654.3 187.4,653.8 188.0,653.8 188.6,654.4 189.2,656.1 189.8,657.2 190.4,658.0 191.0,655.5 191.6,655.0 192.1,655.5 192.7,657.6 193.3,656.9 193.9,655.9 194.5,656.9 195.1,658.3 195.7,660.0 196.3,662.2 196.9,666.4 197.5,669.2 198.1,671.7 198.7,671.6 199.3,669.0 199.9,664.8 200.5,662.6 201.1,662.2 201.7,660.9 202.3,659.4 202.9,658.4 203.5,659.3 204.1,658.9 204.7,657.8 205.3,660.0 205.9,666.1 206.5,674.7 207.1,681.4 207.7,686.9 208.3,685.4 208.9,680.1 209.5,672.9 210.1,666.9 210.7,661.4 211.3,659.1 211.9,661.2 212.5,666.0 213.1,671.9 213.7,678.7 214.3,684.8 214.9,690.0 215.5,688.7 216.1,682.0 216.7,670.8 217.3,663.4 217.9,657.8 218.5,656.7 219.1,657.9 219.7,660.3 220.3,662.5 220.9,665.6 221.4,669.4 222.0,671.5 222.6,669.9 223.2,667.1 223.8,663.8 224.4,662.4 225.0,660.7 225.6,659.9 226.2,658.6 226.8,657.7 227.4,657.2 228.0,659.7 228.6,660.3 229.2,659.5 229.8,657.4 230.4,659.1 231.0,659.1 231.6,658.2 232.2,658.7 232.8,659.1 233.4,660.1 234.0,659.6 234.6,659.9 235.2,656.7 235.8,656.3 236.4,657.4 237.0,658.6 237.6,656.8 238.2,656.5 238.8,656.5 239.4,657.8 240.0,657.8 240.6,657.4 241.2,658.3 241.8,660.8 242.4,661.7 243.0,660.1 243.6,658.3 244.2,658.3 244.8,658.4 245.4,658.4 246.0,656.3 246.6,655.5 247.2,656.0 247.8,658.0 248.4,658.3 249.0,657.1 249.6,657.4 250.1,657.8 250.7,657.6 251.3,654.5 251.9,653.3 252.5,652.6 253.1,653.4 253.7,654.8 254.3,656.8 254.9,656.9 255.5,655.3 256.1,654.2 256.7,654.1 257.3,653.0 257.9,654.2 258.5,655.8 259.1,655.2 259.7,652.6 260.3,653.2 260.9,656.6 261.5,656.8 262.1,655.6 262.7,653.9 263.3,654.7 263.9,654.5 264.5,654.1 265.1,652.5 265.7,654.0 266.3,654.7 266.9,654.5 267.5,655.5 268.1,658.1 268.7,660.8 269.3,663.9 269.9,670.8 270.5,677.0 271.1,679.4 271.7,676.6 272.3,671.9 272.9,665.9 273.5,661.9 274.1,659.8 274.7,657.6 275.3,657.2 275.9,655.8 276.5,658.5 277.1,659.7 277.7,663.8 278.3,668.0 278.8,673.2 279.4,675.0 280.0,672.7 280.6,667.8 281.2,663.6 281.8,662.1 282.4,660.7 283.0,658.2 283.6,656.7 284.2,657.7 284.8,657.4 285.4,656.7 286.0,656.4 286.6,657.3 287.2,656.7 287.8,655.3 288.4,654.7 289.0,654.0 289.6,654.6 290.2,655.4 290.8,656.1 291.4,654.9 292.0,654.2 292.6,655.0 293.2,654.8 293.8,656.3 294.4,657.8 295.0,659.6 295.6,660.6 296.2,659.8 296.8,658.3 297.4,657.3 298.0,657.5 298.6,657.6 299.2,656.6 299.8,655.4 300.4,656.0 301.0,657.6 301.6,659.7 302.2,660.5 302.8,663.5 303.4,665.9 304.0,667.7 304.6,666.6 305.2,663.3 305.8,658.6 306.4,655.4 307.0,654.3 307.6,654.3 308.1,656.4 308.7,659.0 309.3,661.3 309.9,660.3 310.5,660.6 311.1,660.7 311.7,659.3 312.3,656.5 312.9,654.5 313.5,655.1 314.1,656.5 314.7,657.2 315.3,657.1 315.9,657.0 316.5,657.7 317.1,657.6 317.7,657.4 318.3,656.9 318.9,656.6 319.5,657.1 320.1,656.5 320.7,655.7 321.3,655.3 321.9,656.3 322.5,656.0 323.1,654.4 323.7,652.2 324.3,651.6 324.9,651.9 325.5,653.2 326.1,652.9 326.7,653.5 327.3,654.4 327.9,655.8 328.5,655.8 329.1,655.1 329.7,653.7 330.3,653.1 330.9,653.4 331.5,654.0 332.1,653.2 332.7,651.8 333.3,651.3 333.9,651.5 334.5,655.8 335.1,658.0 335.7,658.8 336.3,657.0 336.8,657.4 337.4,658.2 338.0,658.2 338.6,658.1 339.2,658.0 339.8,659.2 340.4,659.4 341.0,658.8 341.6,657.1 342.2,656.1 342.8,655.6 343.4,655.2 344.0,653.3 344.6,652.3 345.2,651.9 345.8,651.9 346.4,651.6 347.0,651.2 347.6,649.8 348.2,649.2 348.8,649.0 349.4,649.7 350.0,650.6 350.6,652.4 351.2,653.1 351.8,654.7 352.4,656.2 353.0,656.5 353.6,656.6 354.2,656.5 354.8,655.9 355.4,655.4 356.0,655.7 356.6,656.4 357.2,656.9 357.8,658.5 358.4,658.3 359.0,659.3 359.6,662.4 360.2,667.8 360.8,672.1 361.4,674.3 362.0,673.9 362.6,670.5 363.2,666.5 363.8,663.0 364.4,659.5 365.0,656.6 365.5,656.9 366.1,656.8 366.7,656.5 367.3,654.3 367.9,654.3 368.5,652.8 369.1,654.9 369.7,656.4 370.3,658.1 370.9,658.6 371.5,660.2 372.1,661.5 372.7,661.4 373.3,660.6 373.9,659.3 374.5,658.1 375.1,658.6 375.7,659.6 376.3,660.8 376.9,660.4 377.5,660.2 378.1,660.8 378.7,661.9 379.3,662.0 379.9,660.5 380.5,661.3 381.1,662.6 381.7,663.7 382.3,664.1 382.9,665.7 383.5,666.1 384.1,665.5 384.7,665.7 385.3,666.0 385.9,667.5 386.5,668.8 387.1,669.5 387.7,669.3 388.3,670.2 388.9,671.4 389.5,671.3 390.1,671.5 390.7,671.7 391.3,673.2 391.9,674.8 392.5,675.7 393.1,675.9 393.7,675.7 394.2,677.6 394.8,678.8 395.4,680.1 396.0,679.8 396.6,678.9 397.2,680.0 397.8,681.4 398.4,683.5 399.0,684.4 399.6,685.5 400.2,688.2 400.8,692.5 401.4,698.9 402.0,704.2 402.6,710.4 403.2,716.8 403.8,722.9 404.4,726.9 405.0,726.9 405.6,723.6 406.2,717.6 406.8,713.3 407.4,711.6 408.0,712.6 408.6,713.6 409.2,718.4 409.8,728.3 410.4,740.7 411.0,751.1 411.6,760.6 412.2,766.3 412.8,761.5 413.4,750.1 414.0,736.0 414.6,723.9 415.2,713.1 415.8,705.8 416.4,699.8 417.0,696.0 417.6,693.0 418.2,689.9 418.8,685.8 419.4,685.1 420.0,684.8 420.6,684.8 421.2,684.1 421.8,684.1 422.4,682.4 423.0,680.6 423.5,678.4 424.1,679.6 424.7,680.4 425.3,679.6 425.9,675.2 426.5,673.7 427.1,674.9 427.7,676.0 428.3,674.5 428.9,671.9 429.5,669.8 430.1,668.7 430.7,669.0 431.3,668.0 431.9,667.9 432.5,667.7 433.1,667.7 433.7,666.5 434.3,666.0 434.9,665.1 435.5,664.5 436.1,664.2 436.7,664.1 437.3,661.3 437.9,659.7 438.5,660.4 439.1,662.2 439.7,663.9 440.3,664.7 440.9,667.1 441.5,666.8 442.1,666.4 442.7,665.6 443.3,665.4 443.9,663.7 444.5,661.9 445.1,661.6 445.7,662.4 446.3,661.4 446.9,661.4 447.5,660.4 448.1,658.1 448.7,656.1 449.3,657.2 449.9,658.8 450.5,656.8 451.1,654.8 451.7,653.1 452.2,652.9 452.8,654.1 453.4,655.0 454.0,655.7 454.6,655.6 455.2,655.5 455.8,654.8 456.4,654.7 457.0,656.7 457.6,658.8 458.2,660.4 458.8,661.0 459.4,660.1 460.0,657.9 460.6,655.4 461.2,654.8 461.8,654.9 462.4,656.0 463.0,657.1 463.6,657.2 464.2,656.3 464.8,655.9 465.4,655.7 466.0,657.0 466.6,658.3 467.2,658.9 467.8,657.6 468.4,658.4 469.0,659.1 469.6,658.8 470.2,657.5 470.8,657.7 471.4,658.4 472.0,658.6 472.6,659.1 473.2,660.5 473.8,660.8 474.4,660.9 475.0,661.5 475.6,662.1 476.2,661.4 476.8,659.7 477.4,660.3 478.0,660.2 478.6,659.2 479.2,656.4 479.8,654.3 480.4,653.5 480.9,652.7 481.5,653.5 482.1,655.3 482.7,657.8 483.3,657.2 483.9,656.0 484.5,653.7 485.1,654.1 485.7,653.4 486.3,655.1 486.9,654.2 487.5,654.3 488.1,652.6 488.7,653.1 489.3,654.3 489.9,655.6 490.5,656.8 491.1,656.3 491.7,656.4 492.3,656.2 492.9,657.8 493.5,659.5 494.1,660.7 494.7,663.0 495.3,663.1 495.9,662.3 496.5,660.3 497.1,661.2 497.7,660.9 498.3,661.0 498.9,659.9 499.5,662.4 500.1,665.0 500.7,670.1 501.3,672.5 501.9,674.2 502.5,672.4 503.1,670.6 503.7,666.1 504.3,662.9 504.9,660.3 505.5,658.4 506.1,655.0 506.7,654.0 507.3,656.2 507.9,657.8 508.5,657.9 509.1,657.8 509.6,658.1 510.2,658.8 510.8,659.4 511.4,661.0 512.0,661.7 512.6,661.6 513.2,660.6 513.8,657.4 514.4,655.3 515.0,654.0 515.6,653.9 516.2,653.2 516.8,651.9 517.4,651.0 518.0,651.3 518.6,652.8 519.2,652.8 519.8,654.4 520.4,654.6 521.0,655.4 521.6,654.0 522.2,654.6 522.8,654.1 523.4,654.5 524.0,657.1 524.6,659.0 525.2,659.1 525.8,657.6 526.4,658.8 527.0,658.9 527.6,659.5 528.2,660.1 528.8,660.9 529.4,661.5 530.0,661.9 530.6,660.3 531.2,657.7 531.8,656.6 532.4,657.9 533.0,656.5 533.6,655.2 534.2,655.0 534.8,655.8 535.4,655.6 536.0,655.3 536.6,656.6 537.2,656.0 537.8,655.2 538.4,655.1 538.9,656.1 539.5,655.9 540.1,656.0 540.7,657.8 541.3,659.1 541.9,659.9 542.5,660.3 543.1,662.0 543.7,662.2 544.3,662.3 544.9,660.7 545.5,658.9 546.1,659.0 546.7,660.1 547.3,662.2 547.9,663.9 548.5,667.4 549.1,669.2 549.7,669.4 550.3,666.7 550.9,661.9 551.5,658.2 552.1,656.1 552.7,656.3 553.3,657.9 553.9,659.9 554.5,660.1 555.1,660.5 555.7,662.2 556.3,659.8 556.9,656.5 557.5,655.8 558.1,657.5 558.7,657.9 559.3,658.6 559.9,659.8 560.5,660.9 561.1,660.9 561.7,659.1 562.3,656.9 562.9,657.3 563.5,658.3 564.1,659.3 564.7,658.4 565.3,658.0 565.9,657.7 566.5,658.5 567.1,657.9 567.6,657.0 568.2,657.1 568.8,656.1 569.4,655.1 570.0,655.1 570.6,655.5 571.2,655.1 571.8,652.7 572.4,651.4 573.0,650.6 573.6,650.7 574.2,652.1 574.8,653.2 575.4,654.8 576.0,654.8 576.6,656.0 577.2,655.1 577.8,654.4 578.4,655.1 579.0,657.2 579.6,655.4 580.2,654.4 580.8,655.8 581.4,658.8 582.0,658.0 582.6,657.2 583.2,657.3 583.8,658.0 584.4,657.9 585.0,657.6 585.6,656.1 586.2,655.3 586.8,655.7 587.4,659.3 588.0,660.1 588.6,659.2 589.2,658.4 589.8,659.7 590.4,661.3 591.0,660.5 591.6,659.1 592.2,658.6 592.8,657.4 593.4,654.9 594.0,652.6 594.6,654.1 595.2,655.0 595.8,654.7 596.3,653.5 596.9,653.7 597.5,654.5 598.1,655.1 598.7,654.7 599.3,654.8 599.9,656.2 600.5,657.3 601.1,657.8 601.7,657.8 602.3,657.5 602.9,656.2 603.5,655.8 604.1,656.6 604.7,659.7 605.3,660.1 605.9,660.6 606.5,660.0 607.1,660.7 607.7,660.6 608.3,660.0 608.9,660.0 609.5,659.5 610.1,657.9 610.7,656.4 611.3,655.9 611.9,656.4 612.5,656.4 613.1,656.0 613.7,655.9 614.3,655.7 614.9,655.4 615.5,656.2 616.1,657.4 616.7,657.4 617.3,655.7 617.9,654.8 618.5,654.8 619.1,655.2 619.7,656.8 620.3,659.5 620.9,663.6 621.5,668.5 622.1,670.3 622.7,670.2 623.3,666.3 623.9,663.0 624.5,659.8 625.1,659.1 625.6,655.5 626.2,652.9 626.8,651.5 627.4,653.8 628.0,653.5 628.6,654.7 629.2,655.0 629.8,656.7 630.4,655.5 631.0,656.5 631.6,657.4 632.2,658.6 632.8,658.2 633.4,658.4 634.0,658.6 634.6,658.6 635.2,659.4 635.8,660.3 636.4,660.1 637.0,658.4 637.6,657.3 638.2,656.3 638.8,655.7 639.4,654.6 640.0,655.1 640.6,655.4 641.2,656.3 641.8,657.7 642.4,659.3 643.0,659.4 643.6,659.1 644.2,660.1 644.8,660.1 645.4,658.2 646.0,656.3 646.6,655.7 647.2,656.8 647.8,656.7 648.4,655.0 649.0,652.6 649.6,653.3 650.2,655.1 650.8,658.3 651.4,662.5 652.0,667.2 652.6,669.7 653.2,670.6 653.8,669.3 654.3,665.0 654.9,660.7 655.5,657.9 656.1,656.5 656.7,654.5 657.3,654.3 657.9,654.8 658.5,655.1 659.1,655.8 659.7,657.2 660.3,659.2 660.9,658.2 661.5,657.1 662.1,656.4 662.7,658.2 663.3,658.6 663.9,658.9 664.5,658.5 665.1,658.8 665.7,658.4 666.3,657.0 666.9,656.8 667.5,656.7 668.1,657.1 668.7,655.7 669.3,654.8 669.9,653.5 670.5,653.3 671.1,654.1 671.7,655.0 672.3,655.6 672.9,656.9 673.5,658.2 674.1,658.7 674.7,660.1 675.3,660.3 675.9,659.8 676.5,658.1 677.1,658.0 677.7,658.8 678.3,660.1 678.9,660.7 679.5,661.5 680.1,661.5 680.7,662.3 681.3,660.5 681.9,659.8 682.5,658.1 683.0,659.5 683.6,659.9 684.2,660.1 684.8,657.8 685.4,655.0 686.0,652.4 686.6,654.3 687.2,656.0 687.8,657.2 688.4,655.7 689.0,655.9 689.6,656.5 690.2,657.8 690.8,657.2 691.4,655.8 692.0,655.6 692.6,655.9 693.2,656.1 693.8,655.2 694.4,655.1 695.0,654.0 695.6,656.1 696.2,657.0 696.8,658.0 697.4,658.0 698.0,659.1 698.6,658.3 699.2,656.1 699.8,655.0 700.4,654.9 701.0,655.5 701.6,655.9 702.2,655.1 702.8,654.5 703.4,654.1 704.0,655.9 704.6,656.4 705.2,656.6 705.8,654.5 706.4,653.2 707.0,651.2 707.6,651.2 708.2,652.4 708.8,655.6 709.4,658.6 710.0,661.3 710.6,665.4 711.2,670.5 711.7,674.3 712.3,673.8 712.9,672.0 713.5,668.6 714.1,665.4 714.7,661.1 715.3,658.3 715.9,656.0 716.5,655.9 717.1,655.8 717.7,656.6 718.3,655.8 718.9,656.3 719.5,657.6 720.1,659.9 720.7,660.5 721.3,661.0 721.9,661.2 722.5,660.4 723.1,659.1 723.7,659.0 724.3,659.1 724.9,657.7 725.5,656.1 726.1,656.1 726.7,656.8 727.3,655.9 727.9,654.7 728.5,655.2 729.1,657.1 729.7,657.7 730.3,656.3 730.9,655.9 731.5,657.7 732.1,660.4 732.7,660.1 733.3,660.6 733.9,660.7 734.5,660.3 735.1,658.3 735.7,655.6 736.3,654.0 736.9,653.3 737.5,653.7 738.1,653.5 738.7,655.1 739.3,656.3 739.9,656.7 740.5,656.8 741.0,656.7 741.6,657.0 742.2,657.2 742.8,657.9 743.4,657.0 744.0,655.5 744.6,656.0 745.2,657.4 745.8,658.5 746.4,658.4 747.0,659.7 747.6,661.1 748.2,660.0 748.8,659.3 749.4,657.4 750.0,655.3 750.6,653.7 751.2,654.5 751.8,655.2 752.4,655.7 753.0,657.1 753.6,661.7 754.2,668.2 754.8,675.1 755.4,679.0 756.0,679.0 756.6,675.4 757.2,669.3 757.8,664.3 758.4,660.7 759.0,658.9 759.6,658.5 760.2,659.5 760.8,660.8 761.4,662.4 762.0,664.2 762.6,665.8 763.2,667.0 763.8,667.6 764.4,666.6 765.0,662.9 765.6,658.9 766.2,657.4 766.8,656.9 767.4,656.9 768.0,657.0 768.6,658.1 769.2,658.5 769.7,658.6 770.3,659.6 770.9,659.2 771.5,659.3 772.1,658.9 772.7,658.0 773.3,655.0 773.9,654.0 774.5,654.6 775.1,655.4 775.7,655.8 776.3,655.7 776.9,658.1 777.5,658.9 778.1,659.9 778.7,658.2 779.3,656.8 779.9,655.3 780.5,655.6 781.1,656.3 781.7,656.7 782.3,657.0 782.9,657.9 783.5,659.1 784.1,660.9 784.7,660.9 785.3,660.0 785.9,659.4 786.5,660.0 787.1,658.8 787.7,657.7 788.3,656.7 788.9,655.6 789.5,652.4 790.1,651.7 790.7,652.1 791.3,655.3 791.9,657.2 792.5,658.4 793.1,657.3 793.7,658.1 794.3,658.0 794.9,657.2 795.5,655.6 796.1,655.6 796.7,656.2 797.3,656.1 797.9,656.7 798.4,657.8 799.0,659.6 799.6,661.5 800.2,662.9 800.8,663.9 801.4,662.8 802.0,661.9 802.6,660.5 803.2,660.2 803.8,659.9 804.4,658.6 805.0,656.6 805.6,656.1 806.2,656.8 806.8,657.9 807.4,659.3 808.0,662.0 808.6,665.3 809.2,667.1 809.8,665.5 810.4,662.1 811.0,660.3 811.6,658.7 812.2,658.2 812.8,657.9 813.4,659.6 814.0,659.3 814.6,658.7 815.2,658.0 815.8,659.5 816.4,662.2 817.0,664.3 817.6,666.4 818.2,666.4 818.8,665.2 819.4,662.9 820.0,661.0 820.6,659.4 821.2,658.5 821.8,659.3 822.4,658.5 823.0,656.2 823.6,655.1 824.2,657.5 824.8,659.4 825.4,660.4 826.0,659.9 826.6,658.4 827.2,656.8 827.7,657.0 828.3,659.3 828.9,660.1 829.5,660.4 830.1,657.4 830.7,655.7 831.3,654.9 831.9,655.8 832.5,655.9 833.1,657.0 833.7,660.2 834.3,662.5 834.9,662.5 835.5,661.0 836.1,659.2 836.7,658.2 837.3,656.9 837.9,655.8 838.5,654.9 839.1,656.5 839.7,657.9 840.3,658.0 840.9,657.2 841.5,658.2 842.1,658.7 842.7,657.9 843.3,654.0 843.9,652.0 844.5,652.4 845.1,654.2 845.7,655.3 846.3,656.7 846.9,657.6 847.5,657.5 848.1,658.5 848.7,661.1 849.3,664.3 849.9,664.1 850.5,662.0 851.1,657.7 851.7,655.0 852.3,654.2 852.9,656.1 853.5,657.4 854.1,656.9 854.7,656.3 855.3,657.9 855.9,660.9 856.4,662.5 857.0,661.5 857.6,659.7 858.2,657.5 858.8,656.2 859.4,655.2 860.0,655.7 860.6,655.4 861.2,655.4 861.8,655.4 862.4,657.3 863.0,659.5 863.6,660.7 864.2,662.8 864.8,666.3 865.4,669.1 866.0,669.5 866.6,667.3 867.2,663.7 867.8,662.0 868.4,660.4 869.0,658.8 869.6,656.0 870.2,654.4 870.8,653.5 871.4,655.5 872.0,660.8 872.6,666.2 873.2,670.7 873.8,672.5 874.4,672.2 875.0,667.7 875.6,662.8 876.2,657.5 876.8,656.1 877.4,654.4 878.0,654.1 878.6,655.2 879.2,657.5 879.8,659.0 880.4,658.2 881.0,658.6 881.6,659.5 882.2,657.8 882.8,655.8 883.4,655.5 884.0,658.9 884.6,661.2 885.1,662.6 885.7,662.4 886.3,661.7 886.9,660.8 887.5,658.1 888.1,656.5 888.7,654.9 889.3,654.3 889.9,653.2 890.5,652.4 891.1,652.2 891.7,653.8 892.3,654.3 892.9,653.3 893.5,651.8 894.1,651.8 894.7,652.0 895.3,651.8 895.9,652.3 896.5,650.6 897.1,651.2 897.7,651.4 898.3,652.7 898.9,652.9 899.5,654.2 900.1,654.4 900.7,655.1 901.3,655.5 901.9,655.2 902.5,655.2 903.1,656.8 903.7,658.8 904.3,658.9 904.9,658.5 905.5,658.0 906.1,658.3 906.7,657.9 907.3,656.7 907.9,657.0 908.5,657.9 909.1,658.5 909.7,658.7 910.3,658.4 910.9,657.3 911.5,656.3 912.1,658.1 912.7,659.3 913.3,659.7 913.8,660.2 914.4,661.3 915.0,660.3 915.6,658.7 916.2,657.1 916.8,655.7 917.4,654.9 918.0,655.8 918.6,656.7 919.2,655.7 919.8,655.0 920.4,656.2 921.0,659.0 921.6,660.4 922.2,659.8 922.8,659.2 923.4,657.8 924.0,656.5 924.6,655.0 925.2,654.7 925.8,655.7 926.4,655.8 927.0,655.3 927.6,655.5 928.2,658.5" fill="none" stroke="#1f77b4" stroke-width="3.9" stroke-linejoin="round" stroke-linecap="butt" clip-path="url(#cl3)" />
<polyline points="91.1,954.0 91.7,955.0 92.3,956.0 92.9,956.0 93.5,958.0 94.1,958.2 94.7,959.9 95.3,960.0 95.9,963.1 96.5,962.9 97.1,958.0 97.7,954.6 98.3,955.7 98.9,958.2 99.5,956.2 100.1,954.0 100.7,955.8 101.3,959.9 101.9,963.4 102.5,962.8 103.1,963.9 103.7,961.7 104.3,961.7 104.9,961.7 105.5,963.4 106.0,965.4 106.6,968.9 107.2,974.1 107.8,974.4 108.4,976.5 109.0,976.6 109.6,977.9 110.2,974.9 110.8,973.0 111.4,971.7 112.0,970.2 112.6,969.1 113.2,964.2 113.8,960.6 114.4,956.7 115.0,958.2 115.6,957.3 116.2,957.7 116.8,959.4 117.4,962.7 118.0,963.0 118.6,960.1 119.2,959.9 119.8,959.9 120.4,960.8 121.0,959.2 121.6,958.6 122.2,958.0 122.8,960.9 123.4,964.3 124.0,966.9 124.6,965.8 125.2,966.1 125.8,962.2 126.4,960.4 127.0,962.8 127.6,964.2 128.2,963.7 128.8,962.1 129.4,962.8 130.0,958.9 130.6,955.1 131.2,957.8 131.8,963.4 132.4,964.3 133.0,961.4 133.6,961.4 134.2,961.3 134.7,960.4 135.3,959.5 135.9,963.5 136.5,964.3 137.1,964.4 137.7,963.2 138.3,964.3 138.9,965.1 139.5,964.2 140.1,962.9 140.7,962.2 141.3,962.4 141.9,961.8 142.5,961.3 143.1,961.1 143.7,959.3 144.3,958.3 144.9,959.5 145.5,961.8 146.1,961.2 146.7,959.7 147.3,957.8 147.9,960.1 148.5,960.6 149.1,960.6 149.7,959.7 150.3,962.9 150.9,960.3 151.5,956.2 152.1,954.7 152.7,959.4 153.3,959.8 153.9,960.6 154.5,961.0 155.1,961.6 155.7,958.7 156.3,957.5 156.9,960.4 157.5,962.5 158.1,963.6 158.7,960.6 159.3,959.8 159.9,959.8 160.5,962.9 161.1,962.9 161.7,961.1 162.3,958.4 162.9,956.5 163.4,955.3 164.0,949.8 164.6,943.8 165.2,947.5 165.8,955.8 166.4,962.1 167.0,965.0 167.6,964.9 168.2,961.2 168.8,956.8 169.4,958.5 170.0,961.8 170.6,961.2 171.2,956.6 171.8,955.5 172.4,959.0 173.0,959.5 173.6,959.3 174.2,956.6 174.8,956.2 175.4,955.6 176.0,956.0 176.6,956.6 177.2,957.6 177.8,960.8 178.4,961.8 179.0,962.2 179.6,961.4 180.2,959.7 180.8,960.0 181.4,960.0 182.0,962.4 182.6,962.6 183.2,966.2 183.8,964.9 184.4,962.7 185.0,959.2 185.6,961.1 186.2,962.7 186.8,963.8 187.4,963.6 188.0,961.3 188.6,962.2 189.2,958.4 189.8,956.0 190.4,954.5 191.0,955.8 191.6,956.7 192.1,957.4 192.7,962.6 193.3,960.6 193.9,960.1 194.5,958.5 195.1,959.5 195.7,961.0 196.3,962.5 196.9,963.7 197.5,961.1 198.1,960.7 198.7,965.4 199.3,969.6 199.9,973.1 200.5,973.2 201.1,974.5 201.7,969.5 202.3,970.4 202.9,972.6 203.5,976.2 204.1,974.0 204.7,973.4 205.3,974.0 205.9,978.0 206.5,979.8 207.1,980.1 207.7,978.2 208.3,977.2 208.9,974.9 209.5,976.3 210.1,979.3 210.7,981.4 211.3,979.8 211.9,976.5 212.5,973.5 213.1,971.1 213.7,968.0 214.3,965.7 214.9,962.5 215.5,959.4 216.1,956.1 216.7,958.2 217.3,959.8 217.9,962.2 218.5,962.1 219.1,961.1 219.7,957.8 220.3,958.3 220.9,958.1 221.4,955.4 222.0,954.4 222.6,957.8 223.2,961.9 223.8,961.6 224.4,958.3 225.0,954.6 225.6,954.1 226.2,956.1 226.8,958.0 227.4,961.0 228.0,962.7 228.6,962.5 229.2,962.4 229.8,963.7 230.4,965.2 231.0,963.8 231.6,963.1 232.2,961.6 232.8,961.7 233.4,962.1 234.0,962.7 234.6,961.5 235.2,960.0 235.8,962.1 236.4,963.4 237.0,963.4 237.6,962.3 238.2,961.6 238.8,959.4 239.4,959.3 240.0,959.8 240.6,958.5 241.2,957.6 241.8,961.2 242.4,962.1 243.0,959.9 243.6,958.4 244.2,955.5 244.8,952.7 245.4,953.6 246.0,957.0 246.6,956.7 247.2,954.7 247.8,954.6 248.4,958.5 249.0,960.9 249.6,960.9 250.1,957.4 250.7,957.1 251.3,957.9 251.9,954.9 252.5,952.9 253.1,952.2 253.7,956.6 254.3,957.8 254.9,962.0 255.5,962.4 256.1,961.3 256.7,959.3 257.3,959.5 257.9,957.3 258.5,957.1 259.1,959.4 259.7,961.8 260.3,961.9 260.9,960.8 261.5,959.9 262.1,960.7 262.7,960.9 263.3,960.6 263.9,958.4 264.5,960.6 265.1,960.9 265.7,963.9 266.3,963.4 266.9,963.6 267.5,962.7 268.1,965.0 268.7,969.6 269.3,973.8 269.9,973.0 270.5,968.1 271.1,963.3 271.7,960.3 272.3,958.7 272.9,955.3 273.5,949.5 274.1,945.5 274.7,947.8 275.3,955.2 275.9,958.2 276.5,956.5 277.1,956.4 277.7,957.2 278.3,958.8 278.8,959.5 279.4,962.4 280.0,963.1 280.6,962.8 281.2,963.0 281.8,963.3 282.4,963.2 283.0,963.4 283.6,964.8 284.2,966.3 284.8,966.4 285.4,963.6 286.0,962.6 286.6,961.4 287.2,962.3 287.8,960.0 288.4,957.8 289.0,957.7 289.6,959.6 290.2,959.6 290.8,958.1 291.4,957.3 292.0,957.7 292.6,959.4 293.2,960.7 293.8,961.5 294.4,961.9 295.0,962.7 295.6,959.8 296.2,959.5 296.8,960.4 297.4,959.4 298.0,954.6 298.6,955.4 299.2,960.2 299.8,961.8 300.4,958.9 301.0,956.4 301.6,955.6 302.2,956.5 302.8,959.8 303.4,962.1 304.0,961.7 304.6,959.5 305.2,960.0 305.8,962.5 306.4,965.6 307.0,966.8 307.6,967.8 308.1,964.6 308.7,961.2 309.3,960.4 309.9,964.2 310.5,964.5 311.1,958.3 311.7,955.9 312.3,954.5 312.9,958.8 313.5,959.8 314.1,959.6 314.7,957.9 315.3,955.2 315.9,957.9 316.5,958.9 317.1,962.2 317.7,959.8 318.3,957.1 318.9,955.3 319.5,956.3 320.1,958.2 320.7,954.6 321.3,952.8 321.9,955.3 322.5,960.7 323.1,964.1 323.7,962.9 324.3,964.0 324.9,963.7 325.5,965.6 326.1,963.9 326.7,962.5 327.3,960.0 327.9,958.7 328.5,961.0 329.1,964.3 329.7,964.8 330.3,961.6 330.9,959.3 331.5,959.0 332.1,959.8 332.7,960.4 333.3,959.8 333.9,960.2 334.5,960.7 335.1,962.9 335.7,962.1 336.3,963.6 336.8,964.5 337.4,966.5 338.0,966.8 338.6,964.5 339.2,958.9 339.8,956.6 340.4,958.4 341.0,962.3 341.6,964.1 342.2,966.1 342.8,962.5 343.4,962.0 344.0,962.5 344.6,964.7 345.2,963.4 345.8,964.9 346.4,966.4 347.0,967.0 347.6,963.7 348.2,964.5 348.8,963.3 349.4,964.5 350.0,962.4 350.6,964.0 351.2,959.6 351.8,961.5 352.4,966.9 353.0,971.5 353.6,970.7 354.2,969.6 354.8,966.3 355.4,963.0 356.0,963.8 356.6,967.8 357.2,969.4 357.8,968.7 358.4,967.2 359.0,967.2 359.6,968.2 360.2,968.1 360.8,966.1 361.4,965.4 362.0,967.9 362.6,970.1 363.2,970.9 363.8,967.7 364.4,966.0 365.0,967.8 365.5,970.0 366.1,968.0 366.7,964.6 367.3,964.1 367.9,962.8 368.5,961.7 369.1,963.1 369.7,967.7 370.3,969.8 370.9,972.5 371.5,971.2 372.1,969.7 372.7,968.4 373.3,971.2 373.9,972.0 374.5,972.6 375.1,974.2 375.7,976.0 376.3,974.2 376.9,971.3 377.5,968.8 378.1,970.0 378.7,973.0 379.3,974.4 379.9,977.2 380.5,977.0 381.1,977.0 381.7,972.6 382.3,975.8 382.9,979.0 383.5,980.3 384.1,977.9 384.7,977.3 385.3,980.4 385.9,982.4 386.5,983.3 387.1,983.8 387.7,983.1 388.3,983.2 388.9,980.1 389.5,981.1 390.1,981.9 390.7,984.7 391.3,985.7 391.9,986.5 392.5,985.3 393.1,984.9 393.7,986.8 394.2,990.2 394.8,991.3 395.4,993.9 396.0,996.8 396.6,1001.4 397.2,1002.1 397.8,1003.2 398.4,1002.4 399.0,1003.9 399.6,1003.1 400.2,1005.5 400.8,1005.7 401.4,1008.7 402.0,1009.2 402.6,1012.7 403.2,1015.1 403.8,1018.9 404.4,1021.3 405.0,1024.1 405.6,1031.3 406.2,1039.9 406.8,1050.3 407.4,1062.8 408.0,1081.1 408.6,1096.7 409.2,1105.8 409.8,1104.4 410.4,1096.1 411.0,1078.8 411.6,1060.6 412.2,1044.2 412.8,1033.1 413.4,1025.3 414.0,1023.0 414.6,1019.3 415.2,1015.4 415.8,1012.3 416.4,1011.7 417.0,1010.7 417.6,1007.9 418.2,1006.1 418.8,1003.2 419.4,1002.2 420.0,1000.9 420.6,999.8 421.2,999.8 421.8,998.3 422.4,996.6 423.0,994.1 423.5,992.5 424.1,991.0 424.7,989.7 425.3,987.1 425.9,985.2 426.5,983.3 427.1,983.4 427.7,985.2 428.3,985.1 428.9,983.0 429.5,980.3 430.1,979.1 430.7,976.1 431.3,975.5 431.9,976.8 432.5,977.1 433.1,977.0 433.7,978.7 434.3,979.1 434.9,979.7 435.5,978.1 436.1,978.3 436.7,977.3 437.3,977.7 437.9,974.9 438.5,972.0 439.1,970.5 439.7,971.1 440.3,968.0 440.9,965.3 441.5,963.3 442.1,965.9 442.7,966.9 443.3,969.6 443.9,968.8 444.5,969.6 445.1,968.1 445.7,967.9 446.3,967.1 446.9,968.0 447.5,969.4 448.1,970.0 448.7,969.6 449.3,967.5 449.9,967.6 450.5,965.7 451.1,965.3 451.7,963.9 452.2,964.8 452.8,965.6 453.4,966.2 454.0,965.4 454.6,963.8 455.2,963.5 455.8,963.5 456.4,965.6 457.0,964.9 457.6,965.3 458.2,967.0 458.8,969.3 459.4,969.7 460.0,968.6 460.6,970.1 461.2,966.6 461.8,963.4 462.4,959.8 463.0,962.3 463.6,964.8 464.2,965.8 464.8,966.7 465.4,967.1 466.0,966.7 466.6,965.2 467.2,963.1 467.8,962.7 468.4,959.9 469.0,959.4 469.6,961.9 470.2,965.8 470.8,969.5 471.4,971.5 472.0,970.2 472.6,965.5 473.2,962.8 473.8,963.9 474.4,964.4 475.0,962.6 475.6,959.0 476.2,959.2 476.8,962.8 477.4,962.3 478.0,960.1 478.6,958.7 479.2,959.2 479.8,957.9 480.4,959.3 480.9,961.1 481.5,961.6 482.1,956.9 482.7,956.0 483.3,959.3 483.9,964.4 484.5,965.8 485.1,967.4 485.7,968.8 486.3,966.5 486.9,965.4 487.5,961.9 488.1,960.1 488.7,959.1 489.3,963.2 489.9,962.4 490.5,961.0 491.1,963.6 491.7,963.9 492.3,963.8 492.9,963.1 493.5,964.1 494.1,961.1 494.7,961.4 495.3,963.7 495.9,965.8 496.5,965.1 497.1,962.5 497.7,962.9 498.3,967.7 498.9,971.5 499.5,968.3 500.1,964.1 500.7,961.9 501.3,963.4 501.9,965.7 502.5,968.5 503.1,969.7 503.7,966.5 504.3,963.2 504.9,962.1 505.5,963.4 506.1,964.8 506.7,966.2 507.3,966.3 507.9,963.3 508.5,962.0 509.1,961.9 509.6,963.0 510.2,965.3 510.8,967.1 511.4,968.1 512.0,965.5 512.6,964.2 513.2,963.4 513.8,966.1 514.4,964.4 515.0,961.6 515.6,958.9 516.2,960.2 516.8,960.1 517.4,961.6 518.0,963.1 518.6,963.2 519.2,962.6 519.8,962.7 520.4,963.0 521.0,961.6 521.6,962.1 522.2,962.3 522.8,963.0 523.4,963.4 524.0,966.4 524.6,965.4 525.2,965.0 525.8,961.0 526.4,960.3 527.0,957.7 527.6,957.5 528.2,955.7 528.8,957.4 529.4,960.6 530.0,961.4 530.6,960.9 531.2,961.2 531.8,961.8 532.4,960.5 533.0,961.8 533.6,962.7 534.2,964.5 534.8,963.1 535.4,964.3 536.0,962.6 536.6,960.5 537.2,958.3 537.8,956.9 538.4,957.0 538.9,959.9 539.5,962.5 540.1,964.0 540.7,962.3 541.3,961.8 541.9,960.0 542.5,959.8 543.1,960.8 543.7,959.8 544.3,959.4 544.9,960.1 545.5,959.8 546.1,958.5 546.7,957.7 547.3,959.5 547.9,960.3 548.5,960.1 549.1,958.4 549.7,958.6 550.3,960.9 550.9,963.4 551.5,962.4 552.1,960.6 552.7,960.0 553.3,960.3 553.9,961.0 554.5,963.8 555.1,965.6 555.7,964.9 556.3,963.3 556.9,962.6 557.5,963.6 558.1,964.3 558.7,965.9 559.3,963.7 559.9,962.8 560.5,960.5 561.1,959.6 561.7,958.2 562.3,959.8 562.9,960.0 563.5,961.0 564.1,962.9 564.7,963.9 565.3,964.1 565.9,964.2 566.5,964.6 567.1,964.2 567.6,964.6 568.2,964.3 568.8,965.1 569.4,968.3 570.0,968.2 570.6,960.3 571.2,956.0 571.8,957.1 572.4,962.0 573.0,961.8 573.6,960.0 574.2,958.2 574.8,959.0 575.4,961.5 576.0,961.5 576.6,960.1 577.2,958.6 577.8,960.7 578.4,962.0 579.0,960.7 579.6,957.5 580.2,957.7 580.8,960.8 581.4,964.2 582.0,967.5 582.6,966.8 583.2,965.5 583.8,961.7 584.4,960.0 585.0,961.7 585.6,963.1 586.2,964.0 586.8,961.9 587.4,964.1 588.0,967.3 588.6,967.3 589.2,963.6 589.8,961.9 590.4,962.9 591.0,965.4 591.6,964.9 592.2,965.7 592.8,965.2 593.4,966.2 594.0,966.9 594.6,968.3 595.2,966.7 595.8,965.5 596.3,963.4 596.9,966.1 597.5,965.9 598.1,966.0 598.7,962.3 599.3,961.7 599.9,961.0 600.5,963.1 601.1,963.8 601.7,965.0 602.3,963.4 602.9,960.5 603.5,956.9 604.1,955.5 604.7,959.2 605.3,961.4 605.9,962.8 606.5,961.3 607.1,961.3 607.7,962.1 608.3,963.0 608.9,962.3 609.5,959.0 610.1,960.3 610.7,960.4 611.3,962.2 611.9,959.0 612.5,956.0 613.1,955.4 613.7,960.0 614.3,963.9 614.9,961.8 615.5,960.7 616.1,961.4 616.7,964.6 617.3,961.4 617.9,961.5 618.5,962.9 619.1,967.0 619.7,966.6 620.3,965.9 620.9,965.3 621.5,963.1 622.1,962.7 622.7,962.8 623.3,962.6 623.9,962.6 624.5,962.7 625.1,962.7 625.6,960.7 626.2,959.9 626.8,961.9 627.4,962.1 628.0,963.1 628.6,964.2 629.2,964.8 629.8,961.5 630.4,955.8 631.0,957.2 631.6,960.1 632.2,964.4 632.8,964.8 633.4,967.7 634.0,969.5 634.6,969.8 635.2,965.4 635.8,964.7 636.4,963.3 637.0,963.6 637.6,962.3 638.2,962.6 638.8,962.0 639.4,960.3 640.0,961.8 640.6,961.5 641.2,961.7 641.8,959.7 642.4,961.7 643.0,962.3 643.6,963.1 644.2,962.5 644.8,961.8 645.4,960.6 646.0,959.6 646.6,959.0 647.2,958.8 647.8,960.7 648.4,962.9 649.0,964.3 649.6,962.9 650.2,961.6 650.8,959.5 651.4,960.8 652.0,960.7 652.6,958.8 653.2,956.0 653.8,955.9 654.3,958.0 654.9,959.5 655.5,957.5 656.1,956.4 656.7,954.8 657.3,960.5 657.9,964.8 658.5,968.1 659.1,965.7 659.7,962.8 660.3,960.0 660.9,957.9 661.5,957.8 662.1,958.6 662.7,961.5 663.3,960.4 663.9,955.7 664.5,952.6 665.1,954.6 665.7,957.2 666.3,958.9 666.9,956.9 667.5,959.6 668.1,961.0 668.7,962.7 669.3,961.4 669.9,962.4 670.5,964.1 671.1,964.4 671.7,964.3 672.3,960.6 672.9,959.4 673.5,961.2 674.1,963.6 674.7,964.3 675.3,963.0 675.9,963.4 676.5,964.2 677.1,965.2 677.7,965.3 678.3,965.8 678.9,966.8 679.5,965.0 680.1,964.0 680.7,963.0 681.3,965.6 681.9,963.8 682.5,961.1 683.0,961.8 683.6,965.0 684.2,966.5 684.8,963.0 685.4,960.7 686.0,960.9 686.6,961.3 687.2,963.1 687.8,964.4 688.4,966.5 689.0,964.4 689.6,963.7 690.2,960.9 690.8,959.2 691.4,959.1 692.0,962.0 692.6,962.8 693.2,962.2 693.8,960.4 694.4,957.0 695.0,958.2 695.6,962.5 696.2,964.1 696.8,961.6 697.4,961.5 698.0,962.8 698.6,961.9 699.2,956.7 699.8,956.3 700.4,958.1 701.0,960.9 701.6,961.7 702.2,964.8 702.8,966.0 703.4,963.3 704.0,960.3 704.6,962.4 705.2,965.2 705.8,968.2 706.4,967.6 707.0,966.7 707.6,966.7 708.2,970.7 708.8,973.8 709.4,973.3 710.0,969.1 710.6,968.0 711.2,966.4 711.7,965.5 712.3,963.2 712.9,960.7 713.5,957.8 714.1,957.8 714.7,965.0 715.3,968.2 715.9,965.1 716.5,961.4 717.1,961.6 717.7,962.8 718.3,962.5 718.9,960.9 719.5,959.8 720.1,957.3 720.7,960.9 721.3,963.1 721.9,960.6 722.5,956.6 723.1,957.4 723.7,962.4 724.3,963.4 724.9,962.2 725.5,959.4 726.1,961.0 726.7,966.4 727.3,968.2 727.9,964.8 728.5,962.2 729.1,963.1 729.7,962.6 730.3,958.2 730.9,956.0 731.5,958.6 732.1,959.9 732.7,958.1 733.3,957.0 733.9,958.8 734.5,960.6 735.1,961.7 735.7,964.8 736.3,965.1 736.9,964.9 737.5,964.2 738.1,965.0 738.7,963.1 739.3,961.1 739.9,959.8 740.5,959.7 741.0,961.7 741.6,959.9 742.2,959.0 742.8,959.4 743.4,963.3 744.0,962.1 744.6,963.0 745.2,962.0 745.8,961.1 746.4,961.5 747.0,965.3 747.6,968.1 748.2,968.8 748.8,968.2 749.4,968.3 750.0,970.1 750.6,969.9 751.2,969.2 751.8,969.9 752.4,972.3 753.0,972.2 753.6,974.5 754.2,975.8 754.8,973.8 755.4,969.8 756.0,966.9 756.6,969.4 757.2,971.7 757.8,970.5 758.4,968.0 759.0,965.6 759.6,964.7 760.2,961.4 760.8,959.8 761.4,958.6 762.0,958.8 762.6,960.3 763.2,959.7 763.8,958.1 764.4,958.3 765.0,957.7 765.6,959.0 766.2,959.4 766.8,960.7 767.4,960.7 768.0,960.4 768.6,961.6 769.2,960.9 769.7,960.2 770.3,959.3 770.9,961.2 771.5,959.6 772.1,956.8 772.7,955.3 773.3,958.9 773.9,964.4 774.5,965.6 775.1,961.9 775.7,957.6 776.3,957.9 776.9,961.2 777.5,963.3 778.1,962.3 778.7,960.0 779.3,959.4 779.9,961.0 780.5,957.3 781.1,955.7 781.7,956.1 782.3,963.1 782.9,963.5 783.5,963.0 784.1,963.0 784.7,965.2 785.3,965.1 785.9,962.7 786.5,963.2 787.1,962.2 787.7,960.9 788.3,958.1 788.9,959.9 789.5,963.5 790.1,964.5 790.7,959.7 791.3,958.1 791.9,958.6 792.5,962.5 793.1,962.8 793.7,963.2 794.3,960.4 794.9,960.1 795.5,961.9 796.1,961.6 796.7,962.3 797.3,960.5 797.9,964.4 798.4,965.2 799.0,965.3 799.6,962.8 800.2,966.0 800.8,968.2 801.4,966.4 802.0,964.3 802.6,963.0 803.2,963.0 803.8,961.5 804.4,961.7 805.0,960.7 805.6,962.2 806.2,963.8 806.8,963.5 807.4,962.3 808.0,959.8 808.6,959.0 809.2,958.9 809.8,960.3 810.4,961.5 811.0,962.0 811.6,964.8 812.2,965.4 812.8,962.9 813.4,961.8 814.0,965.6 814.6,967.1 815.2,965.0 815.8,962.5 816.4,961.7 817.0,960.4 817.6,962.0 818.2,965.8 818.8,966.8 819.4,966.8 820.0,963.2 820.6,961.4 821.2,960.2 821.8,963.2 822.4,962.6 823.0,960.7 823.6,959.7 824.2,960.3 824.8,965.0 825.4,965.8 826.0,965.4 826.6,963.3 827.2,966.2 827.7,969.0 828.3,969.4 828.9,967.3 829.5,964.4 830.1,962.1 830.7,958.1 831.3,959.0 831.9,960.4 832.5,964.2 833.1,962.7 833.7,962.6 834.3,963.6 834.9,963.4 835.5,962.3 836.1,959.7 836.7,961.7 837.3,964.3 837.9,965.0 838.5,964.2 839.1,959.9 839.7,961.1 840.3,960.3 840.9,960.9 841.5,958.2 842.1,960.9 842.7,963.6 843.3,964.9 843.9,964.8 844.5,964.6 845.1,966.3 845.7,964.3 846.3,961.3 846.9,957.7 847.5,957.2 848.1,957.8 848.7,958.5 849.3,960.4 849.9,959.2 850.5,958.8 851.1,956.5 851.7,959.7 852.3,960.6 852.9,964.5 853.5,966.0 854.1,966.3 854.7,964.1 855.3,963.1 855.9,963.6 856.4,961.1 857.0,960.4 857.6,963.4 858.2,965.6 858.8,964.0 859.4,962.2 860.0,961.4 860.6,961.1 861.2,958.4 861.8,956.3 862.4,955.0 863.0,957.2 863.6,960.1 864.2,962.7 864.8,964.3 865.4,965.8 866.0,967.5 866.6,968.7 867.2,968.9 867.8,969.1 868.4,968.1 869.0,969.3 869.6,971.0 870.2,973.7 870.8,970.9 871.4,971.8 872.0,971.5 872.6,971.6 873.2,969.7 873.8,969.0 874.4,969.5 875.0,968.6 875.6,966.1 876.2,962.7 876.8,960.7 877.4,961.4 878.0,961.2 878.6,964.8 879.2,965.5 879.8,963.0 880.4,960.3 881.0,960.6 881.6,962.1 882.2,960.8 882.8,963.8 883.4,967.0 884.0,969.5 884.6,968.2 885.1,968.0 885.7,967.1 886.3,964.7 886.9,962.6 887.5,962.4 888.1,962.4 888.7,959.5 889.3,961.0 889.9,963.0 890.5,964.2 891.1,961.4 891.7,959.9 892.3,958.3 892.9,960.8 893.5,962.7 894.1,962.4 894.7,960.4 895.3,960.0 895.9,962.6 896.5,964.7 897.1,967.9 897.7,965.7 898.3,963.1 898.9,962.2 899.5,964.2 900.1,964.8 900.7,960.6 901.3,959.6 901.9,959.5 902.5,961.6 903.1,960.3 903.7,961.9 904.3,965.8 904.9,968.3 905.5,967.2 906.1,964.5 906.7,964.8 907.3,963.0 907.9,963.2 908.5,961.9 909.1,960.1 909.7,957.0 910.3,958.1 910.9,961.0 911.5,962.3 912.1,963.3 912.7,960.6 913.3,959.1 913.8,961.2 914.4,964.4 915.0,963.1 915.6,957.3 916.2,958.3 916.8,958.1 917.4,958.9 918.0,959.5 918.6,962.6 919.2,961.1 919.8,959.2 920.4,959.6 921.0,961.9 921.6,963.2 922.2,966.4 922.8,966.8 923.4,965.2 924.0,961.1 924.6,958.4 925.2,959.0 925.8,959.7 926.4,962.4 927.0,962.4 927.6,964.4 928.2,962.4" fill="none" stroke="#1f77b4" stroke-width="3.9" stroke-linejoin="round" stroke-linecap="butt" clip-path="url(#cl4)" />
<polyline points="91.1,984.9 91.7,985.5 92.3,983.7 92.9,982.9 93.5,982.6 94.1,984.2 94.7,985.1 95.3,984.7 95.9,983.5 96.5,983.0 97.1,983.0 97.7,983.9 98.3,985.4 98.9,986.3 99.5,986.9 100.1,988.4 100.7,990.4 101.3,992.5 101.9,995.4 102.5,998.2 103.1,999.4 103.7,999.5 104.3,999.3 104.9,999.0 105.5,996.6 106.0,992.7 106.6,989.2 107.2,987.7 107.8,986.1 108.4,984.5 109.0,984.2 109.6,984.0 110.2,983.8 110.8,983.4 111.4,984.9 112.0,985.3 112.6,984.9 113.2,984.3 113.8,984.8 114.4,985.5 115.0,984.8 115.6,983.7 116.2,982.9 116.8,982.7 117.4,982.2 118.0,981.4 118.6,981.6 119.2,982.3 119.8,983.7 120.4,983.6 121.0,983.2 121.6,983.4 122.2,984.2 122.8,985.0 123.4,983.8 124.0,984.5 124.6,985.5 125.2,987.3 125.8,987.2 126.4,987.1 127.0,986.2 127.6,985.2 128.2,984.7 128.8,984.5 129.4,984.4 130.0,984.0 130.6,983.8 131.2,983.4 131.8,982.9 132.4,983.0 133.0,984.3 133.6,984.8 134.2,985.0 134.7,985.6 135.3,986.8 135.9,987.1 136.5,986.5 137.1,985.5 137.7,985.8 138.3,986.8 138.9,986.8 139.5,985.7 140.1,984.3 140.7,984.5 141.3,983.8 141.9,984.1 142.5,982.9 143.1,983.8 143.7,983.7 144.3,983.6 144.9,982.7 145.5,982.3 146.1,981.5 146.7,981.8 147.3,983.7 147.9,985.7 148.5,986.1 149.1,985.5 149.7,985.2 150.3,985.6 150.9,985.7 151.5,983.5 152.1,981.5 152.7,982.1 153.3,983.7 153.9,983.5 154.5,982.5 155.1,982.4 155.7,982.4 156.3,982.3 156.9,982.7 157.5,983.7 158.1,983.9 158.7,983.2 159.3,983.7 159.9,984.4 160.5,985.0 161.1,985.4 161.7,985.9 162.3,986.2 162.9,985.3 163.4,984.8 164.0,984.0 164.6,984.0 165.2,984.9 165.8,985.5 166.4,985.2 167.0,983.8 167.6,983.6 168.2,984.0 168.8,984.2 169.4,983.0 170.0,982.0 170.6,982.8 171.2,983.3 171.8,983.0 172.4,982.4 173.0,983.1 173.6,983.6 174.2,983.9 174.8,984.7 175.4,984.6 176.0,984.4 176.6,983.7 177.2,984.2 177.8,983.2 178.4,982.2 179.0,981.2 179.6,981.9 180.2,983.3 180.8,984.3 181.4,983.5 182.0,982.1 182.6,982.5 183.2,982.8 183.8,983.7 184.4,983.7 185.0,984.0 185.6,982.5 186.2,983.4 186.8,985.0 187.4,987.2 188.0,987.1 188.6,987.2 189.2,985.9 189.8,985.4 190.4,985.0 191.0,984.3 191.6,983.7 192.1,984.9 192.7,987.3 193.3,988.8 193.9,989.7 194.5,992.0 195.1,993.8 195.7,994.8 196.3,994.2 196.9,993.6 197.5,991.8 198.1,989.8 198.7,989.6 199.3,990.9 199.9,992.3 200.5,993.0 201.1,994.9 201.7,997.0 202.3,999.3 202.9,1000.8 203.5,1001.0 204.1,999.0 204.7,997.3 205.3,996.6 205.9,996.6 206.5,995.8 207.1,994.6 207.7,993.6 208.3,992.9 208.9,992.2 209.5,991.1 210.1,989.6 210.7,989.2 211.3,987.7 211.9,986.6 212.5,984.5 213.1,984.1 213.7,983.7 214.3,984.3 214.9,983.8 215.5,982.9 216.1,983.0 216.7,983.8 217.3,983.4 217.9,982.6 218.5,983.5 219.1,985.5 219.7,985.0 220.3,984.5 220.9,984.7 221.4,984.7 222.0,982.9 222.6,981.7 223.2,981.9 223.8,982.1 224.4,982.0 225.0,982.2 225.6,982.3 226.2,982.7 226.8,982.5 227.4,982.8 228.0,982.8 228.6,983.6 229.2,983.7 229.8,983.0 230.4,982.1 231.0,982.7 231.6,984.0 232.2,983.9 232.8,984.1 233.4,983.5 234.0,983.5 234.6,983.2 235.2,982.8 235.8,981.4 236.4,981.7 237.0,983.4 237.6,984.5 238.2,984.1 238.8,983.2 239.4,983.3 240.0,983.7 240.6,984.7 241.2,983.7 241.8,982.5 242.4,983.0 243.0,984.3 243.6,984.8 244.2,983.8 244.8,984.0 245.4,984.1 246.0,984.1 246.6,984.3 247.2,983.7 247.8,983.1 248.4,984.1 249.0,984.7 249.6,984.6 250.1,984.2 250.7,985.1 251.3,984.9 251.9,983.6 252.5,982.7 253.1,983.2 253.7,984.2 254.3,984.2 254.9,983.6 255.5,983.8 256.1,985.4 256.7,985.4 257.3,984.6 257.9,983.9 258.5,984.7 259.1,986.2 259.7,986.8 260.3,986.9 260.9,986.8 261.5,989.2 262.1,992.0 262.7,993.7 263.3,993.7 263.9,992.6 264.5,990.5 265.1,989.2 265.7,988.4 266.3,988.0 266.9,985.3 267.5,984.0 268.1,982.7 268.7,983.1 269.3,982.4 269.9,983.0 270.5,983.7 271.1,983.8 271.7,984.7 272.3,985.0 272.9,984.7 273.5,983.4 274.1,983.9 274.7,985.0 275.3,985.2 275.9,983.7 276.5,983.0 277.1,983.1 277.7,983.7 278.3,982.9 278.8,982.7 279.4,983.0 280.0,983.8 280.6,983.8 281.2,984.6 281.8,984.1 282.4,983.3 283.0,982.7 283.6,983.4 284.2,984.0 284.8,984.4 285.4,984.0 286.0,984.0 286.6,984.6 287.2,985.8 287.8,985.1 288.4,984.7 289.0,984.4 289.6,984.6 290.2,984.3 290.8,984.5 291.4,983.9 292.0,983.1 292.6,982.7 293.2,983.3 293.8,984.3 294.4,985.3 295.0,984.6 295.6,983.5 296.2,983.4 296.8,984.3 297.4,984.5 298.0,983.5 298.6,982.6 299.2,983.8 299.8,984.6 300.4,984.9 301.0,984.0 301.6,985.1 302.2,985.5 302.8,985.7 303.4,984.8 304.0,984.7 304.6,985.6 305.2,986.1 305.8,985.7 306.4,985.2 307.0,984.9 307.6,985.3 308.1,986.2 308.7,986.1 309.3,984.5 309.9,982.7 310.5,982.4 311.1,981.9 311.7,982.4 312.3,982.1 312.9,981.7 313.5,981.4 314.1,982.8 314.7,984.2 315.3,984.5 315.9,984.8 316.5,984.6 317.1,984.2 317.7,983.7 318.3,985.0 318.9,986.8 319.5,986.6 320.1,985.1 320.7,983.7 321.3,982.9 321.9,982.9 322.5,983.8 323.1,985.3 323.7,985.1 324.3,985.6 324.9,985.8 325.5,986.6 326.1,987.0 326.7,987.5 327.3,986.7 327.9,985.1 328.5,984.1 329.1,984.6 329.7,984.9 330.3,985.3 330.9,984.8 331.5,985.1 332.1,985.6 332.7,986.1 333.3,985.2 333.9,983.9 334.5,983.4 335.1,985.5 335.7,987.0 336.3,987.3 336.8,986.5 337.4,986.7 338.0,986.3 338.6,985.7 339.2,985.1 339.8,985.1 340.4,985.9 341.0,985.5 341.6,985.2 342.2,986.2 342.8,987.3 343.4,986.4 344.0,985.1 344.6,984.5 345.2,985.5 345.8,986.2 346.4,985.6 347.0,984.9 347.6,986.1 348.2,986.7 348.8,986.4 349.4,985.1 350.0,985.0 350.6,985.7 351.2,988.3 351.8,989.0 352.4,988.5 353.0,987.6 353.6,986.8 354.2,986.4 354.8,986.5 355.4,986.6 356.0,986.8 356.6,987.6 357.2,988.3 357.8,988.1 358.4,987.8 359.0,987.8 359.6,987.9 360.2,988.2 360.8,988.0 361.4,988.4 362.0,988.8 362.6,990.3 363.2,991.4 363.8,992.2 364.4,990.2 365.0,988.9 365.5,989.2 366.1,991.9 366.7,992.6 367.3,992.9 367.9,993.6 368.5,994.0 369.1,994.5 369.7,995.4 370.3,996.4 370.9,995.7 371.5,994.8 372.1,994.6 372.7,994.7 373.3,995.1 373.9,994.9 374.5,995.0 375.1,994.3 375.7,996.2 376.3,997.4 376.9,998.3 377.5,997.7 378.1,998.2 378.7,997.7 379.3,997.7 379.9,997.8 380.5,998.5 381.1,998.3 381.7,999.1 382.3,1000.1 382.9,1002.0 383.5,1001.9 384.1,1002.9 384.7,1003.1 385.3,1005.8 385.9,1006.5 386.5,1008.5 387.1,1008.8 387.7,1009.8 388.3,1010.3 388.9,1012.5 389.5,1015.4 390.1,1017.4 390.7,1018.5 391.3,1018.3 391.9,1019.2 392.5,1020.7 393.1,1023.3 393.7,1025.3 394.2,1027.0 394.8,1028.1 395.4,1030.1 396.0,1033.4 396.6,1037.4 397.2,1040.7 397.8,1043.2 398.4,1045.9 399.0,1051.2 399.6,1058.2 400.2,1066.4 400.8,1074.7 401.4,1085.3 402.0,1097.5 402.6,1112.7 403.2,1130.5 403.8,1146.0 404.4,1152.9 405.0,1146.1 405.6,1130.6 406.2,1112.2 406.8,1096.5 407.4,1083.2 408.0,1072.6 408.6,1063.9 409.2,1056.6 409.8,1050.5 410.4,1046.1 411.0,1042.9 411.6,1039.3 412.2,1036.4 412.8,1033.8 413.4,1031.5 414.0,1028.6 414.6,1025.2 415.2,1023.4 415.8,1023.0 416.4,1022.5 417.0,1019.6 417.6,1016.1 418.2,1013.8 418.8,1013.1 419.4,1012.1 420.0,1011.0 420.6,1009.2 421.2,1008.1 421.8,1007.8 422.4,1008.0 423.0,1007.2 423.5,1005.1 424.1,1003.8 424.7,1003.2 425.3,1002.4 425.9,1001.4 426.5,1000.2 427.1,1000.1 427.7,1000.3 428.3,1000.5 428.9,999.3 429.5,998.8 430.1,998.9 430.7,998.9 431.3,998.1 431.9,996.5 432.5,995.0 433.1,994.8 433.7,994.8 434.3,994.5 434.9,992.5 435.5,991.7 436.1,992.4 436.7,992.6 437.3,991.4 437.9,990.5 438.5,990.2 439.1,990.7 439.7,990.6 440.3,991.7 440.9,990.4 441.5,989.5 442.1,988.8 442.7,989.8 443.3,990.5 443.9,990.4 444.5,990.1 445.1,989.9 445.7,989.9 446.3,989.9 446.9,989.9 447.5,990.0 448.1,990.4 448.7,989.4 449.3,988.5 449.9,987.8 450.5,988.6 451.1,988.8 451.7,989.0 452.2,988.0 452.8,987.0 453.4,986.9 454.0,987.3 454.6,987.5 455.2,987.7 455.8,987.9 456.4,987.2 457.0,987.1 457.6,987.6 458.2,987.3 458.8,985.6 459.4,984.8 460.0,986.0 460.6,986.8 461.2,986.7 461.8,986.4 462.4,987.9 463.0,987.4 463.6,986.6 464.2,986.7 464.8,989.1 465.4,988.9 466.0,988.1 466.6,987.9 467.2,989.3 467.8,989.1 468.4,988.1 469.0,986.6 469.6,985.6 470.2,985.4 470.8,985.8 471.4,985.9 472.0,986.1 472.6,985.0 473.2,984.9 473.8,984.6 474.4,986.0 475.0,985.8 475.6,985.8 476.2,985.3 476.8,985.5 477.4,985.4 478.0,985.3 478.6,985.2 479.2,985.5 479.8,985.6 480.4,985.4 480.9,985.5 481.5,984.9 482.1,984.5 482.7,984.1 483.3,985.1 483.9,985.1 484.5,985.0 485.1,984.6 485.7,984.4 486.3,985.7 486.9,985.6 487.5,985.0 488.1,984.3 488.7,985.6 489.3,986.5 489.9,987.4 490.5,987.5 491.1,986.7 491.7,987.2 492.3,989.1 492.9,992.6 493.5,994.3 494.1,994.5 494.7,993.0 495.3,991.4 495.9,989.8 496.5,989.0 497.1,987.9 497.7,987.4 498.3,985.8 498.9,984.8 499.5,982.9 500.1,982.2 500.7,982.7 501.3,983.3 501.9,983.4 502.5,982.5 503.1,981.6 503.7,981.5 504.3,982.4 504.9,984.3 505.5,984.5 506.1,984.4 506.7,984.4 507.3,985.4 507.9,985.0 508.5,984.5 509.1,984.8 509.6,985.7 510.2,985.8 510.8,984.8 511.4,984.5 512.0,984.5 512.6,984.9 513.2,984.8 513.8,984.9 514.4,985.7 515.0,986.5 515.6,985.7 516.2,984.2 516.8,984.4 517.4,984.6 518.0,984.8 518.6,983.4 519.2,983.1 519.8,982.9 520.4,982.5 521.0,982.6 521.6,984.7 522.2,987.3 522.8,987.9 523.4,986.8 524.0,986.2 524.6,984.8 525.2,984.0 525.8,983.4 526.4,983.9 527.0,984.7 527.6,983.6 528.2,982.3 528.8,981.1 529.4,982.7 530.0,984.0 530.6,985.3 531.2,984.4 531.8,983.0 532.4,982.8 533.0,984.6 533.6,985.5 534.2,985.4 534.8,985.5 535.4,986.1 536.0,986.4 536.6,986.0 537.2,986.2 537.8,986.6 538.4,985.3 538.9,983.3 539.5,982.5 540.1,983.6 540.7,984.4 541.3,985.0 541.9,984.6 542.5,984.3 543.1,983.2 543.7,984.0 544.3,984.0 544.9,984.4 545.5,984.1 546.1,984.3 546.7,984.1 547.3,982.3 547.9,982.2 548.5,982.0 549.1,983.2 549.7,983.3 550.3,983.8 550.9,983.4 551.5,983.7 552.1,983.9 552.7,983.9 553.3,982.3 553.9,982.0 554.5,982.8 555.1,984.2 555.7,983.0 556.3,982.7 556.9,983.2 557.5,984.9 558.1,984.6 558.7,983.9 559.3,982.5 559.9,982.5 560.5,982.2 561.1,982.1 561.7,982.6 562.3,983.3 562.9,984.1 563.5,982.6 564.1,982.4 564.7,982.9 565.3,984.1 565.9,982.9 566.5,982.9 567.1,983.8 567.6,984.7 568.2,983.2 568.8,982.1 569.4,981.8 570.0,982.6 570.6,981.5 571.2,981.6 571.8,981.7 572.4,982.6 573.0,982.9 573.6,983.7 574.2,983.7 574.8,983.7 575.4,983.8 576.0,984.1 576.6,984.6 577.2,985.5 577.8,985.0 578.4,984.7 579.0,984.6 579.6,984.3 580.2,984.2 580.8,984.6 581.4,984.9 582.0,984.7 582.6,984.5 583.2,983.9 583.8,983.9 584.4,984.3 585.0,984.3 585.6,984.7 586.2,984.8 586.8,984.6 587.4,983.6 588.0,983.6 588.6,983.4 589.2,983.2 589.8,982.7 590.4,983.7 591.0,984.7 591.6,985.7 592.2,985.5 592.8,984.9 593.4,984.9 594.0,984.7 594.6,984.3 595.2,984.2 595.8,984.8 596.3,984.6 596.9,983.7 597.5,982.9 598.1,982.7 598.7,983.2 599.3,983.4 599.9,983.7 600.5,983.0 601.1,982.5 601.7,981.3 602.3,981.9 602.9,983.2 603.5,984.5 604.1,984.2 604.7,983.7 605.3,982.7 605.9,983.1 606.5,983.3 607.1,984.0 607.7,983.3 608.3,982.8 608.9,982.3 609.5,982.2 610.1,982.1 610.7,981.5 611.3,981.6 611.9,983.1 612.5,985.0 613.1,985.9 613.7,986.5 614.3,987.0 614.9,987.8 615.5,988.1 616.1,988.0 616.7,988.3 617.3,987.5 617.9,986.3 618.5,984.8 619.1,985.0 619.7,984.9 620.3,983.8 620.9,983.4 621.5,983.1 622.1,982.8 622.7,983.1 623.3,983.9 623.9,983.9 624.5,983.8 625.1,983.7 625.6,984.5 626.2,984.5 626.8,985.2 627.4,985.2 628.0,984.8 628.6,984.0 629.2,983.7 629.8,982.9 630.4,982.4 631.0,982.1 631.6,983.3 632.2,984.0 632.8,983.6 633.4,983.3 634.0,983.1 634.6,983.8 635.2,983.2 635.8,981.9 636.4,980.1 637.0,980.9 637.6,982.2 638.2,983.8 638.8,984.0 639.4,983.7 640.0,982.5 640.6,983.1 641.2,983.1 641.8,982.7 642.4,982.2 643.0,983.0 643.6,982.9 644.2,983.9 644.8,983.9 645.4,983.7 646.0,984.0 646.6,984.5 647.2,984.7 647.8,984.3 648.4,983.9 649.0,982.8 649.6,982.7 650.2,983.8 650.8,983.5 651.4,982.2 652.0,981.3 652.6,982.4 653.2,982.4 653.8,981.7 654.3,980.3 654.9,981.5 655.5,983.1 656.1,984.9 656.7,983.9 657.3,983.1 657.9,983.3 658.5,983.5 659.1,982.1 659.7,980.5 660.3,980.6 660.9,981.2 661.5,981.8 662.1,982.8 662.7,983.8 663.3,984.4 663.9,983.8 664.5,982.6 665.1,982.2 665.7,982.8 666.3,982.8 666.9,981.5 667.5,980.9 668.1,981.8 668.7,982.7 669.3,983.7 669.9,982.7 670.5,981.9 671.1,982.5 671.7,983.9 672.3,983.2 672.9,982.4 673.5,982.7 674.1,983.6 674.7,982.9 675.3,983.2 675.9,982.7 676.5,983.3 677.1,983.5 677.7,983.3 678.3,983.2 678.9,983.0 679.5,982.7 680.1,982.9 680.7,984.2 681.3,986.3 681.9,985.9 682.5,984.5 683.0,983.7 683.6,984.4 684.2,984.3 684.8,984.0 685.4,983.0 686.0,981.9 686.6,981.4 687.2,981.6 687.8,981.6 688.4,981.3 689.0,981.0 689.6,980.2 690.2,980.0 690.8,981.1 691.4,982.0 692.0,982.9 692.6,982.5 693.2,982.0 693.8,981.6 694.4,982.1 695.0,982.5 695.6,982.9 696.2,983.2 696.8,982.6 697.4,982.5 698.0,983.0 698.6,983.5 699.2,983.5 699.8,983.7 700.4,985.7 701.0,987.0 701.6,988.2 702.2,987.9 702.8,988.7 703.4,987.8 704.0,987.3 704.6,986.6 705.2,987.3 705.8,986.6 706.4,986.0 707.0,985.1 707.6,983.7 708.2,982.1 708.8,982.1 709.4,983.5 710.0,983.6 710.6,983.6 711.2,982.9 711.7,982.7 712.3,981.9 712.9,982.5 713.5,983.5 714.1,983.4 714.7,983.4 715.3,982.9 715.9,983.8 716.5,983.3 717.1,984.3 717.7,984.1 718.3,984.0 718.9,983.1 719.5,983.6 720.1,983.7 720.7,983.7 721.3,983.0 721.9,983.6 722.5,982.1 723.1,981.8 723.7,981.1 724.3,981.9 724.9,982.2 725.5,982.3 726.1,982.3 726.7,982.7 727.3,982.8 727.9,982.8 728.5,982.0 729.1,982.9 729.7,982.8 730.3,984.2 730.9,984.2 731.5,983.1 732.1,981.9 732.7,981.9 733.3,982.2 733.9,981.4 734.5,980.4 735.1,979.7 735.7,980.1 736.3,981.0 736.9,983.0 737.5,982.8 738.1,982.0 738.7,981.1 739.3,982.3 739.9,982.4 740.5,982.8 741.0,983.1 741.6,984.5 742.2,984.3 742.8,985.6 743.4,986.7 744.0,989.1 744.6,990.1 745.2,991.3 745.8,991.8 746.4,993.2 747.0,994.6 747.6,995.0 748.2,992.8 748.8,990.3 749.4,988.1 750.0,986.3 750.6,985.1 751.2,984.1 751.8,983.6 752.4,982.7 753.0,982.4 753.6,982.0 754.2,982.3 754.8,982.5 755.4,983.0 756.0,982.4 756.6,981.7 757.2,982.1 757.8,983.2 758.4,984.0 759.0,982.3 759.6,982.2 760.2,982.5 760.8,983.3 761.4,982.8 762.0,982.8 762.6,983.6 763.2,983.2 763.8,982.9 764.4,982.8 765.0,984.2 765.6,984.8 766.2,984.7 766.8,983.9 767.4,984.1 768.0,984.3 768.6,984.2 769.2,984.7 769.7,985.1 770.3,984.9 770.9,983.5 771.5,983.6 772.1,983.8 772.7,983.5 773.3,982.8 773.9,982.6 774.5,982.9 775.1,982.4 775.7,982.6 776.3,983.0 776.9,983.6 777.5,984.1 778.1,984.4 778.7,985.1 779.3,984.1 779.9,983.9 780.5,983.2 781.1,983.9 781.7,983.5 782.3,985.2 782.9,985.5 783.5,984.6 784.1,982.4 784.7,983.0 785.3,983.6 785.9,983.1 786.5,982.7 787.1,982.2 787.7,982.5 788.3,982.8 788.9,984.1 789.5,984.2 790.1,984.1 790.7,983.0 791.3,982.4 791.9,982.8 792.5,983.5 793.1,983.8 793.7,983.5 794.3,983.5 794.9,983.4 795.5,983.4 796.1,982.8 796.7,982.1 797.3,982.2 797.9,982.5 798.4,981.5 799.0,980.7 799.6,981.4 800.2,982.2 800.8,982.7 801.4,982.7 802.0,983.0 802.6,982.1 803.2,981.4 803.8,980.9 804.4,980.7 805.0,981.3 805.6,982.9 806.2,984.2 806.8,983.4 807.4,981.7 808.0,981.5 808.6,981.8 809.2,983.1 809.8,983.7 810.4,983.6 811.0,983.1 811.6,983.1 812.2,983.6 812.8,983.6 813.4,984.1 814.0,984.4 814.6,983.9 815.2,983.6 815.8,983.0 816.4,983.0 817.0,982.1 817.6,982.2 818.2,982.5 818.8,984.2 819.4,984.2 820.0,984.7 820.6,983.9 821.2,983.5 821.8,982.1 822.4,982.1 823.0,982.1 823.6,981.7 824.2,981.9 824.8,982.6 825.4,982.5 826.0,982.1 826.6,982.7 827.2,984.2 827.7,984.4 828.3,984.2 828.9,983.7 829.5,983.9 830.1,985.1 830.7,985.6 831.3,986.1 831.9,984.9 832.5,985.1 833.1,984.6 833.7,984.7 834.3,983.9 834.9,984.6 835.5,984.7 836.1,985.3 836.7,985.1 837.3,984.9 837.9,983.9 838.5,984.1 839.1,984.8 839.7,982.7 840.3,980.8 840.9,980.3 841.5,982.9 842.1,984.0 842.7,983.8 843.3,981.6 843.9,981.2 844.5,982.8 845.1,984.4 845.7,984.0 846.3,983.5 846.9,983.2 847.5,983.5 848.1,983.5 848.7,983.8 849.3,983.0 849.9,982.4 850.5,983.9 851.1,984.8 851.7,985.4 852.3,983.9 852.9,983.6 853.5,983.3 854.1,983.8 854.7,983.8 855.3,984.3 855.9,985.2 856.4,985.7 857.0,984.3 857.6,983.3 858.2,982.5 858.8,982.2 859.4,981.3 860.0,981.5 860.6,983.2 861.2,984.4 861.8,984.3 862.4,984.1 863.0,985.8 863.6,989.3 864.2,993.2 864.8,994.5 865.4,995.0 866.0,994.5 866.6,993.7 867.2,991.3 867.8,989.2 868.4,987.2 869.0,985.5 869.6,985.3 870.2,985.2 870.8,985.0 871.4,984.4 872.0,984.8 872.6,985.9 873.2,986.0 873.8,984.7 874.4,981.5 875.0,982.3 875.6,983.1 876.2,983.4 876.8,982.5 877.4,983.0 878.0,983.4 878.6,983.2 879.2,983.1 879.8,982.5 880.4,982.7 881.0,983.6 881.6,984.0 882.2,983.6 882.8,983.6 883.4,983.2 884.0,983.6 884.6,984.5 885.1,985.4 885.7,985.3 886.3,984.1 886.9,983.0 887.5,982.2 888.1,983.9 888.7,984.5 889.3,984.8 889.9,984.5 890.5,985.2 891.1,985.6 891.7,985.4 892.3,985.1 892.9,983.3 893.5,982.6 894.1,983.7 894.7,985.3 895.3,985.1 895.9,983.4 896.5,982.9 897.1,982.2 897.7,982.8 898.3,983.1 898.9,983.3 899.5,983.9 900.1,984.9 900.7,984.9 901.3,984.4 901.9,985.0 902.5,985.5 903.1,983.6 903.7,982.1 904.3,982.5 904.9,984.3 905.5,984.9 906.1,984.7 906.7,984.6 907.3,984.1 907.9,983.7 908.5,982.3 909.1,981.8 909.7,981.9 910.3,983.1 910.9,983.2 911.5,983.0 912.1,982.0 912.7,981.5 913.3,981.8 913.8,983.4 914.4,983.8 915.0,983.1 915.6,981.7 916.2,981.8 916.8,982.7 917.4,983.4 918.0,982.4 918.6,982.0 919.2,982.4 919.8,983.1 920.4,983.4 921.0,983.7 921.6,983.3 922.2,982.5 922.8,982.4 923.4,982.5 924.0,982.5 924.6,982.2 925.2,980.9 925.8,979.6 926.4,979.2 927.0,981.1 927.6,983.0 928.2,983.9" fill="none" stroke="#9467bd" stroke-width="3.9" stroke-linejoin="round" stroke-linecap="butt" clip-path="url(#cl4)"  stroke-opacity="0.72"/>
<polyline points="91.1,1163.9 91.7,1166.6 92.3,1170.6 92.9,1171.5 93.5,1171.4 94.1,1170.7 94.7,1173.5 95.3,1177.8 95.9,1182.2 96.5,1183.7 97.1,1185.8 97.7,1186.3 98.3,1186.2 98.9,1184.9 99.5,1183.1 100.1,1178.3 100.7,1175.3 101.3,1173.0 101.9,1172.6 102.5,1170.4 103.1,1168.3 103.7,1164.7 104.3,1164.1 104.9,1162.9 105.5,1163.5 106.0,1162.1 106.6,1160.8 107.2,1159.8 107.8,1160.0 108.4,1161.8 109.0,1163.3 109.6,1165.8 110.2,1165.9 110.8,1166.2 111.4,1164.8 112.0,1164.2 112.6,1162.6 113.2,1164.4 113.8,1166.2 114.4,1167.3 115.0,1166.9 115.6,1166.9 116.2,1165.8 116.8,1164.0 117.4,1165.4 118.0,1166.3 118.6,1167.0 119.2,1166.0 119.8,1167.9 120.4,1168.6 121.0,1171.1 121.6,1170.8 122.2,1169.4 122.8,1167.1 123.4,1165.6 124.0,1167.0 124.6,1168.7 125.2,1169.1 125.8,1165.1 126.4,1163.1 127.0,1164.1 127.6,1166.5 128.2,1169.2 128.8,1170.2 129.4,1170.5 130.0,1170.0 130.6,1170.7 131.2,1170.9 131.8,1170.0 132.4,1168.5 133.0,1166.9 133.6,1166.5 134.2,1166.7 134.7,1166.6 135.3,1165.4 135.9,1164.3 136.5,1164.9 137.1,1164.5 137.7,1162.7 138.3,1159.7 138.9,1160.4 139.5,1162.0 140.1,1162.6 140.7,1162.4 141.3,1161.8 141.9,1163.4 142.5,1163.5 143.1,1163.3 143.7,1162.8 144.3,1160.5 144.9,1159.8 145.5,1160.6 146.1,1164.7 146.7,1164.9 147.3,1166.1 147.9,1165.2 148.5,1163.7 149.1,1160.8 149.7,1159.3 150.3,1159.5 150.9,1160.8 151.5,1162.9 152.1,1164.0 152.7,1164.4 153.3,1164.5 153.9,1165.9 154.5,1168.6 155.1,1169.5 155.7,1169.7 156.3,1168.4 156.9,1165.9 157.5,1164.3 158.1,1164.1 158.7,1163.7 159.3,1164.2 159.9,1165.0 160.5,1165.0 161.1,1164.3 161.7,1166.3 162.3,1165.1 162.9,1164.8 163.4,1166.0 164.0,1167.5 164.6,1165.7 165.2,1163.9 165.8,1163.6 166.4,1163.5 167.0,1163.6 167.6,1162.9 168.2,1160.5 168.8,1161.0 169.4,1162.6 170.0,1163.5 170.6,1164.3 171.2,1165.7 171.8,1167.2 172.4,1166.2 173.0,1167.3 173.6,1165.3 174.2,1163.1 174.8,1162.5 175.4,1163.6 176.0,1164.8 176.6,1166.8 177.2,1169.3 177.8,1167.3 178.4,1164.1 179.0,1163.5 179.6,1161.6 180.2,1160.5 180.8,1159.6 181.4,1162.3 182.0,1164.5 182.6,1165.3 183.2,1164.2 183.8,1164.8 184.4,1168.6 185.0,1170.8 185.6,1169.3 186.2,1169.1 186.8,1171.2 187.4,1175.3 188.0,1177.6 188.6,1177.6 189.2,1176.8 189.8,1178.6 190.4,1182.3 191.0,1185.3 191.6,1186.6 192.1,1187.3 192.7,1187.3 193.3,1187.3 193.9,1187.7 194.5,1189.5 195.1,1191.5 195.7,1192.1 196.3,1191.7 196.9,1189.9 197.5,1188.0 198.1,1186.2 198.7,1187.5 199.3,1186.9 199.9,1185.9 200.5,1184.8 201.1,1187.3 201.7,1186.7 202.3,1184.5 202.9,1179.7 203.5,1175.7 204.1,1171.0 204.7,1168.0 205.3,1164.7 205.9,1163.6 206.5,1163.6 207.1,1165.0 207.7,1163.4 208.3,1164.4 208.9,1164.6 209.5,1165.3 210.1,1163.3 210.7,1163.7 211.3,1163.6 211.9,1164.8 212.5,1165.4 213.1,1165.6 213.7,1163.8 214.3,1163.2 214.9,1161.7 215.5,1162.8 216.1,1166.2 216.7,1168.8 217.3,1166.4 217.9,1162.9 218.5,1161.7 219.1,1161.3 219.7,1161.8 220.3,1162.1 220.9,1162.6 221.4,1162.0 222.0,1163.3 222.6,1165.1 223.2,1166.0 223.8,1167.2 224.4,1168.9 225.0,1170.9 225.6,1166.9 226.2,1164.3 226.8,1163.2 227.4,1164.6 228.0,1164.0 228.6,1164.2 229.2,1165.1 229.8,1165.8 230.4,1166.1 231.0,1165.0 231.6,1164.7 232.2,1165.9 232.8,1166.8 233.4,1165.3 234.0,1163.6 234.6,1165.2 235.2,1167.4 235.8,1167.3 236.4,1167.3 237.0,1166.8 237.6,1164.9 238.2,1161.8 238.8,1160.5 239.4,1160.3 240.0,1160.8 240.6,1162.6 241.2,1162.6 241.8,1162.6 242.4,1162.6 243.0,1163.9 243.6,1163.9 244.2,1166.4 244.8,1167.0 245.4,1168.1 246.0,1167.0 246.6,1168.0 247.2,1165.5 247.8,1165.5 248.4,1168.1 249.0,1171.6 249.6,1168.7 250.1,1164.0 250.7,1163.8 251.3,1164.2 251.9,1165.8 252.5,1166.9 253.1,1170.6 253.7,1170.0 254.3,1169.2 254.9,1170.0 255.5,1172.0 256.1,1174.5 256.7,1173.7 257.3,1172.0 257.9,1170.4 258.5,1171.5 259.1,1171.0 259.7,1168.7 260.3,1169.4 260.9,1171.7 261.5,1169.7 262.1,1165.2 262.7,1162.9 263.3,1165.9 263.9,1166.7 264.5,1167.0 265.1,1165.8 265.7,1167.4 266.3,1165.5 266.9,1163.8 267.5,1163.7 268.1,1164.8 268.7,1164.9 269.3,1163.0 269.9,1164.2 270.5,1165.4 271.1,1165.5 271.7,1165.1 272.3,1165.6 272.9,1167.2 273.5,1167.4 274.1,1168.4 274.7,1170.2 275.3,1169.9 275.9,1169.2 276.5,1165.7 277.1,1164.6 277.7,1164.1 278.3,1164.6 278.8,1164.8 279.4,1165.5 280.0,1165.4 280.6,1165.1 281.2,1164.9 281.8,1166.0 282.4,1166.7 283.0,1167.8 283.6,1167.6 284.2,1166.7 284.8,1165.1 285.4,1163.9 286.0,1163.3 286.6,1161.1 287.2,1159.0 287.8,1159.7 288.4,1161.6 289.0,1161.7 289.6,1163.0 290.2,1165.4 290.8,1166.2 291.4,1165.8 292.0,1166.4 292.6,1165.8 293.2,1164.9 293.8,1163.0 294.4,1164.6 295.0,1166.2 295.6,1168.0 296.2,1168.0 296.8,1166.6 297.4,1167.0 298.0,1167.8 298.6,1169.2 299.2,1166.8 299.8,1165.3 300.4,1164.7 301.0,1165.9 301.6,1168.4 302.2,1169.5 302.8,1167.7 303.4,1166.6 304.0,1166.9 304.6,1166.5 305.2,1163.7 305.8,1162.6 306.4,1163.3 307.0,1165.4 307.6,1164.7 308.1,1165.9 308.7,1165.8 309.3,1165.4 309.9,1162.6 310.5,1162.8 311.1,1163.0 311.7,1163.1 312.3,1164.5 312.9,1166.9 313.5,1165.7 314.1,1164.8 314.7,1164.6 315.3,1165.9 315.9,1164.7 316.5,1163.1 317.1,1162.1 317.7,1162.1 318.3,1162.6 318.9,1163.9 319.5,1166.0 320.1,1167.1 320.7,1165.8 321.3,1163.2 321.9,1162.4 322.5,1164.7 323.1,1167.0 323.7,1166.7 324.3,1164.2 324.9,1163.7 325.5,1163.5 326.1,1164.8 326.7,1167.1 327.3,1169.7 327.9,1171.0 328.5,1172.3 329.1,1172.4 329.7,1170.1 330.3,1167.3 330.9,1167.0 331.5,1170.1 332.1,1171.1 332.7,1170.1 333.3,1167.8 333.9,1169.1 334.5,1167.8 335.1,1167.3 335.7,1166.8 336.3,1167.3 336.8,1165.5 337.4,1161.2 338.0,1158.4 338.6,1159.7 339.2,1163.1 339.8,1163.6 340.4,1161.0 341.0,1162.5 341.6,1163.3 342.2,1164.9 342.8,1164.0 343.4,1165.6 344.0,1166.6 344.6,1167.9 345.2,1167.9 345.8,1168.2 346.4,1167.1 347.0,1167.0 347.6,1166.8 348.2,1167.9 348.8,1167.7 349.4,1168.5 350.0,1167.4 350.6,1166.0 351.2,1164.4 351.8,1166.7 352.4,1169.3 353.0,1170.9 353.6,1170.1 354.2,1169.4 354.8,1169.4 355.4,1170.3 356.0,1171.8 356.6,1172.7 357.2,1171.2 357.8,1170.4 358.4,1170.7 359.0,1171.1 359.6,1170.0 360.2,1170.5 360.8,1171.6 361.4,1174.6 362.0,1175.8 362.6,1177.2 363.2,1179.0 363.8,1178.7 364.4,1178.3 365.0,1176.3 365.5,1176.4 366.1,1175.6 366.7,1176.2 367.3,1175.6 367.9,1176.2 368.5,1178.9 369.1,1179.0 369.7,1177.5 370.3,1175.3 370.9,1174.6 371.5,1175.3 372.1,1178.1 372.7,1179.4 373.3,1178.9 373.9,1178.5 374.5,1178.5 375.1,1176.8 375.7,1177.4 376.3,1178.9 376.9,1183.3 377.5,1185.0 378.1,1185.3 378.7,1184.5 379.3,1184.6 379.9,1187.2 380.5,1190.5 381.1,1191.3 381.7,1191.9 382.3,1192.8 382.9,1193.1 383.5,1191.5 384.1,1192.0 384.7,1193.8 385.3,1195.8 385.9,1198.3 386.5,1202.1 387.1,1203.4 387.7,1203.8 388.3,1202.2 388.9,1203.0 389.5,1203.6 390.1,1207.9 390.7,1209.8 391.3,1212.7 391.9,1212.7 392.5,1216.1 393.1,1219.8 393.7,1228.1 394.2,1232.8 394.8,1236.3 395.4,1240.3 396.0,1250.4 396.6,1262.5 397.2,1274.1 397.8,1289.7 398.4,1302.7 399.0,1307.9 399.6,1299.6 400.2,1287.6 400.8,1272.6 401.4,1260.9 402.0,1250.6 402.6,1242.0 403.2,1233.6 403.8,1225.9 404.4,1219.9 405.0,1213.4 405.6,1211.0 406.2,1209.6 406.8,1209.8 407.4,1209.4 408.0,1209.6 408.6,1209.6 409.2,1209.8 409.8,1206.7 410.4,1203.6 411.0,1199.4 411.6,1197.8 412.2,1197.1 412.8,1195.4 413.4,1191.5 414.0,1187.7 414.6,1188.1 415.2,1188.7 415.8,1188.3 416.4,1186.6 417.0,1186.0 417.6,1184.4 418.2,1184.8 418.8,1184.2 419.4,1187.0 420.0,1184.5 420.6,1182.2 421.2,1179.3 421.8,1181.7 422.4,1183.0 423.0,1182.5 423.5,1181.2 424.1,1178.6 424.7,1178.7 425.3,1178.9 425.9,1180.1 426.5,1177.4 427.1,1177.1 427.7,1179.3 428.3,1181.0 428.9,1177.8 429.5,1174.9 430.1,1175.7 430.7,1177.1 431.3,1177.1 431.9,1178.0 432.5,1175.5 433.1,1172.5 433.7,1171.3 434.3,1172.5 434.9,1173.4 435.5,1173.7 436.1,1175.4 436.7,1175.5 437.3,1175.9 437.9,1174.5 438.5,1173.1 439.1,1170.8 439.7,1167.4 440.3,1166.9 440.9,1168.8 441.5,1171.1 442.1,1170.0 442.7,1169.6 443.3,1171.2 443.9,1173.6 444.5,1173.3 445.1,1169.6 445.7,1167.3 446.3,1166.7 446.9,1166.8 447.5,1167.6 448.1,1170.9 448.7,1173.2 449.3,1172.2 449.9,1172.8 450.5,1170.8 451.1,1166.8 451.7,1164.2 452.2,1166.8 452.8,1167.7 453.4,1165.1 454.0,1165.6 454.6,1167.0 455.2,1168.0 455.8,1167.6 456.4,1166.6 457.0,1165.7 457.6,1167.2 458.2,1168.5 458.8,1168.4 459.4,1166.8 460.0,1166.2 460.6,1166.9 461.2,1170.0 461.8,1170.8 462.4,1168.3 463.0,1165.7 463.6,1164.1 464.2,1163.4 464.8,1164.1 465.4,1165.2 466.0,1164.4 466.6,1162.2 467.2,1163.6 467.8,1164.1 468.4,1163.0 469.0,1159.6 469.6,1160.2 470.2,1162.8 470.8,1164.9 471.4,1165.9 472.0,1167.2 472.6,1168.3 473.2,1168.2 473.8,1166.4 474.4,1166.5 475.0,1166.1 475.6,1166.7 476.2,1165.9 476.8,1166.6 477.4,1166.9 478.0,1166.0 478.6,1163.4 479.2,1162.2 479.8,1163.5 480.4,1164.8 480.9,1165.6 481.5,1165.9 482.1,1167.0 482.7,1167.2 483.3,1167.1 483.9,1167.4 484.5,1170.3 485.1,1172.0 485.7,1171.9 486.3,1171.8 486.9,1172.3 487.5,1172.0 488.1,1170.7 488.7,1170.2 489.3,1170.1 489.9,1170.7 490.5,1171.0 491.1,1168.6 491.7,1166.4 492.3,1165.4 492.9,1167.6 493.5,1166.1 494.1,1163.6 494.7,1161.2 495.3,1162.8 495.9,1165.4 496.5,1166.0 497.1,1164.4 497.7,1163.1 498.3,1164.8 498.9,1164.9 499.5,1164.2 500.1,1164.5 500.7,1166.4 501.3,1166.5 501.9,1166.4 502.5,1167.8 503.1,1169.8 503.7,1170.5 504.3,1167.2 504.9,1162.8 505.5,1162.1 506.1,1165.5 506.7,1169.5 507.3,1167.5 507.9,1163.6 508.5,1162.0 509.1,1164.4 509.6,1165.8 510.2,1164.9 510.8,1165.2 511.4,1163.7 512.0,1162.2 512.6,1160.2 513.2,1160.7 513.8,1159.8 514.4,1159.9 515.0,1161.7 515.6,1163.2 516.2,1163.8 516.8,1164.8 517.4,1166.8 518.0,1166.5 518.6,1165.8 519.2,1166.3 519.8,1166.4 520.4,1166.2 521.0,1166.8 521.6,1166.7 522.2,1163.2 522.8,1158.3 523.4,1157.8 524.0,1160.4 524.6,1163.6 525.2,1162.2 525.8,1161.1 526.4,1158.8 527.0,1161.4 527.6,1163.7 528.2,1166.4 528.8,1165.6 529.4,1166.0 530.0,1165.5 530.6,1164.4 531.2,1165.4 531.8,1166.2 532.4,1166.0 533.0,1166.1 533.6,1167.3 534.2,1167.9 534.8,1167.1 535.4,1166.3 536.0,1165.4 536.6,1166.0 537.2,1165.5 537.8,1164.6 538.4,1165.5 538.9,1168.9 539.5,1168.6 540.1,1167.9 540.7,1166.3 541.3,1166.9 541.9,1164.5 542.5,1165.6 543.1,1166.4 543.7,1168.6 544.3,1167.5 544.9,1165.5 545.5,1163.5 546.1,1163.9 546.7,1164.7 547.3,1164.2 547.9,1162.9 548.5,1162.3 549.1,1162.6 549.7,1163.0 550.3,1162.1 550.9,1161.1 551.5,1160.9 552.1,1161.3 552.7,1161.7 553.3,1161.9 553.9,1164.3 554.5,1165.1 555.1,1163.5 555.7,1161.7 556.3,1164.0 556.9,1165.9 557.5,1165.3 558.1,1163.3 558.7,1165.0 559.3,1167.7 559.9,1168.4 560.5,1166.0 561.1,1164.5 561.7,1165.9 562.3,1165.7 562.9,1163.6 563.5,1163.8 564.1,1164.9 564.7,1166.2 565.3,1164.6 565.9,1164.4 566.5,1163.6 567.1,1162.6 567.6,1163.6 568.2,1165.4 568.8,1166.1 569.4,1164.9 570.0,1163.8 570.6,1162.6 571.2,1159.6 571.8,1157.5 572.4,1157.9 573.0,1159.5 573.6,1161.2 574.2,1162.1 574.8,1165.3 575.4,1167.8 576.0,1167.2 576.6,1164.5 577.2,1165.7 577.8,1168.0 578.4,1167.9 579.0,1164.8 579.6,1164.3 580.2,1165.1 580.8,1163.7 581.4,1163.7 582.0,1163.7 582.6,1165.6 583.2,1164.1 583.8,1163.7 584.4,1162.4 585.0,1162.5 585.6,1164.3 586.2,1165.6 586.8,1165.6 587.4,1164.7 588.0,1164.6 588.6,1164.9 589.2,1164.1 589.8,1165.0 590.4,1163.1 591.0,1161.1 591.6,1160.5 592.2,1162.5 592.8,1163.0 593.4,1161.1 594.0,1160.9 594.6,1161.7 595.2,1162.6 595.8,1165.5 596.3,1165.9 596.9,1167.1 597.5,1166.8 598.1,1166.5 598.7,1165.9 599.3,1163.5 599.9,1162.4 600.5,1160.4 601.1,1164.7 601.7,1166.6 602.3,1165.6 602.9,1162.9 603.5,1164.0 604.1,1164.9 604.7,1163.6 605.3,1162.3 605.9,1162.7 606.5,1162.4 607.1,1165.5 607.7,1168.7 608.3,1170.3 608.9,1168.0 609.5,1167.7 610.1,1168.8 610.7,1168.0 611.3,1169.1 611.9,1166.6 612.5,1163.2 613.1,1159.9 613.7,1161.9 614.3,1164.7 614.9,1166.7 615.5,1167.0 616.1,1165.4 616.7,1164.8 617.3,1164.4 617.9,1163.9 618.5,1162.6 619.1,1162.9 619.7,1163.3 620.3,1164.2 620.9,1162.8 621.5,1162.2 622.1,1162.8 622.7,1163.3 623.3,1161.6 623.9,1160.3 624.5,1161.5 625.1,1161.0 625.6,1161.7 626.2,1162.2 626.8,1162.9 627.4,1163.0 628.0,1162.7 628.6,1161.3 629.2,1159.6 629.8,1160.9 630.4,1163.4 631.0,1165.1 631.6,1165.2 632.2,1166.6 632.8,1166.1 633.4,1166.4 634.0,1165.7 634.6,1167.1 635.2,1166.9 635.8,1168.0 636.4,1167.2 637.0,1166.9 637.6,1167.2 638.2,1169.6 638.8,1168.9 639.4,1167.1 640.0,1165.0 640.6,1163.1 641.2,1163.0 641.8,1164.4 642.4,1166.4 643.0,1165.7 643.6,1163.5 644.2,1161.4 644.8,1162.6 645.4,1165.8 646.0,1165.6 646.6,1162.1 647.2,1161.1 647.8,1164.0 648.4,1165.3 649.0,1165.0 649.6,1165.5 650.2,1167.3 650.8,1166.6 651.4,1165.7 652.0,1166.0 652.6,1165.4 653.2,1162.8 653.8,1161.6 654.3,1163.7 654.9,1167.8 655.5,1168.5 656.1,1168.3 656.7,1167.1 657.3,1166.4 657.9,1166.4 658.5,1167.8 659.1,1168.5 659.7,1166.8 660.3,1162.9 660.9,1159.3 661.5,1158.6 662.1,1161.2 662.7,1163.2 663.3,1161.2 663.9,1161.1 664.5,1163.2 665.1,1166.2 665.7,1166.4 666.3,1163.9 666.9,1160.8 667.5,1159.5 668.1,1160.4 668.7,1163.1 669.3,1162.4 669.9,1163.0 670.5,1161.4 671.1,1164.1 671.7,1162.0 672.3,1161.5 672.9,1161.4 673.5,1166.9 674.1,1170.9 674.7,1169.5 675.3,1166.6 675.9,1163.2 676.5,1164.4 677.1,1164.0 677.7,1165.6 678.3,1165.9 678.9,1166.4 679.5,1165.4 680.1,1165.5 680.7,1164.4 681.3,1161.7 681.9,1160.9 682.5,1163.4 683.0,1165.2 683.6,1165.2 684.2,1164.5 684.8,1164.0 685.4,1162.9 686.0,1162.7 686.6,1162.8 687.2,1163.2 687.8,1163.1 688.4,1163.8 689.0,1164.8 689.6,1164.3 690.2,1163.2 690.8,1165.4 691.4,1168.2 692.0,1167.9 692.6,1168.2 693.2,1169.6 693.8,1170.8 694.4,1168.5 695.0,1167.2 695.6,1165.9 696.2,1167.8 696.8,1169.6 697.4,1170.7 698.0,1169.6 698.6,1170.0 699.2,1167.8 699.8,1165.3 700.4,1161.7 701.0,1162.9 701.6,1166.4 702.2,1170.5 702.8,1169.0 703.4,1165.2 704.0,1162.4 704.6,1163.8 705.2,1164.6 705.8,1163.9 706.4,1163.5 707.0,1164.1 707.6,1162.2 708.2,1159.5 708.8,1160.7 709.4,1163.0 710.0,1162.0 710.6,1162.1 711.2,1163.4 711.7,1164.3 712.3,1163.3 712.9,1161.8 713.5,1160.7 714.1,1160.2 714.7,1161.3 715.3,1163.0 715.9,1163.7 716.5,1163.5 717.1,1162.9 717.7,1163.8 718.3,1163.5 718.9,1163.8 719.5,1162.5 720.1,1163.8 720.7,1166.3 721.3,1170.4 721.9,1171.4 722.5,1168.6 723.1,1166.5 723.7,1166.9 724.3,1168.4 724.9,1169.4 725.5,1169.2 726.1,1168.8 726.7,1165.6 727.3,1166.2 727.9,1166.3 728.5,1167.5 729.1,1165.7 729.7,1163.5 730.3,1162.0 730.9,1164.9 731.5,1164.3 732.1,1162.3 732.7,1160.4 733.3,1160.0 733.9,1160.1 734.5,1161.3 735.1,1164.0 735.7,1163.4 736.3,1164.3 736.9,1164.2 737.5,1164.7 738.1,1167.2 738.7,1172.2 739.3,1174.7 739.9,1175.7 740.5,1176.5 741.0,1177.3 741.6,1176.2 742.2,1175.1 742.8,1173.1 743.4,1170.9 744.0,1169.4 744.6,1170.3 745.2,1170.3 745.8,1167.9 746.4,1165.0 747.0,1164.5 747.6,1163.8 748.2,1162.2 748.8,1162.2 749.4,1165.8 750.0,1168.3 750.6,1167.9 751.2,1165.8 751.8,1164.2 752.4,1165.1 753.0,1164.6 753.6,1165.6 754.2,1167.4 754.8,1167.6 755.4,1165.5 756.0,1163.8 756.6,1166.2 757.2,1167.6 757.8,1168.0 758.4,1166.1 759.0,1165.1 759.6,1164.4 760.2,1164.7 760.8,1164.3 761.4,1165.0 762.0,1165.8 762.6,1166.1 763.2,1167.4 763.8,1165.4 764.4,1163.5 765.0,1163.0 765.6,1164.2 766.2,1163.4 766.8,1160.6 767.4,1159.4 768.0,1159.6 768.6,1164.4 769.2,1168.1 769.7,1167.4 770.3,1165.9 770.9,1165.7 771.5,1167.0 772.1,1166.5 772.7,1167.1 773.3,1166.4 773.9,1165.6 774.5,1163.0 775.1,1160.7 775.7,1161.5 776.3,1164.5 776.9,1166.1 777.5,1166.3 778.1,1165.6 778.7,1164.3 779.3,1162.9 779.9,1166.1 780.5,1167.5 781.1,1165.8 781.7,1161.3 782.3,1160.2 782.9,1160.0 783.5,1160.8 784.1,1161.2 784.7,1162.9 785.3,1163.3 785.9,1164.6 786.5,1164.9 787.1,1166.3 787.7,1165.6 788.3,1165.8 788.9,1164.2 789.5,1167.0 790.1,1169.4 790.7,1171.0 791.3,1167.1 791.9,1166.9 792.5,1165.5 793.1,1164.0 793.7,1162.9 794.3,1164.2 794.9,1165.5 795.5,1166.5 796.1,1169.4 796.7,1170.2 797.3,1167.3 797.9,1164.6 798.4,1164.1 799.0,1164.8 799.6,1163.4 800.2,1163.0 800.8,1163.3 801.4,1163.8 802.0,1164.4 802.6,1163.4 803.2,1164.6 803.8,1166.1 804.4,1168.0 805.0,1166.9 805.6,1166.1 806.2,1163.7 806.8,1165.6 807.4,1167.3 808.0,1166.3 808.6,1165.3 809.2,1166.9 809.8,1168.0 810.4,1165.5 811.0,1164.6 811.6,1163.3 812.2,1161.6 812.8,1161.5 813.4,1161.6 814.0,1162.2 814.6,1163.7 815.2,1168.3 815.8,1167.6 816.4,1165.7 817.0,1162.4 817.6,1164.4 818.2,1166.1 818.8,1166.7 819.4,1167.9 820.0,1168.7 820.6,1168.8 821.2,1167.0 821.8,1163.5 822.4,1162.5 823.0,1163.9 823.6,1167.9 824.2,1167.4 824.8,1168.3 825.4,1168.9 826.0,1167.4 826.6,1164.1 827.2,1163.3 827.7,1163.9 828.3,1164.2 828.9,1163.5 829.5,1163.1 830.1,1163.0 830.7,1161.8 831.3,1161.5 831.9,1161.6 832.5,1162.3 833.1,1162.1 833.7,1162.0 834.3,1161.5 834.9,1161.6 835.5,1163.2 836.1,1165.1 836.7,1166.2 837.3,1165.4 837.9,1162.6 838.5,1162.9 839.1,1165.1 839.7,1166.2 840.3,1162.8 840.9,1163.2 841.5,1164.2 842.1,1165.2 842.7,1163.2 843.3,1165.4 843.9,1166.5 844.5,1165.3 845.1,1164.8 845.7,1165.6 846.3,1164.5 846.9,1161.6 847.5,1163.2 848.1,1164.5 848.7,1163.3 849.3,1162.7 849.9,1163.2 850.5,1164.8 851.1,1161.9 851.7,1161.6 852.3,1163.3 852.9,1165.8 853.5,1166.5 854.1,1164.8 854.7,1165.3 855.3,1164.6 855.9,1166.9 856.4,1167.1 857.0,1168.1 857.6,1169.3 858.2,1171.8 858.8,1174.4 859.4,1173.6 860.0,1173.4 860.6,1173.4 861.2,1175.6 861.8,1172.6 862.4,1169.5 863.0,1165.5 863.6,1163.3 864.2,1162.5 864.8,1164.6 865.4,1166.1 866.0,1166.7 866.6,1165.2 867.2,1163.2 867.8,1159.6 868.4,1158.8 869.0,1160.6 869.6,1162.7 870.2,1165.2 870.8,1166.1 871.4,1168.4 872.0,1167.9 872.6,1168.5 873.2,1168.3 873.8,1168.0 874.4,1165.8 875.0,1162.7 875.6,1161.3 876.2,1165.1 876.8,1167.7 877.4,1166.4 878.0,1163.7 878.6,1165.4 879.2,1166.7 879.8,1165.6 880.4,1163.7 881.0,1163.2 881.6,1162.5 882.2,1161.6 882.8,1163.3 883.4,1163.9 884.0,1163.8 884.6,1161.7 885.1,1160.2 885.7,1159.6 886.3,1162.0 886.9,1164.7 887.5,1164.7 888.1,1163.8 888.7,1162.1 889.3,1164.0 889.9,1164.2 890.5,1166.3 891.1,1166.4 891.7,1167.4 892.3,1166.8 892.9,1166.8 893.5,1167.4 894.1,1166.8 894.7,1167.6 895.3,1166.7 895.9,1166.1 896.5,1164.0 897.1,1162.8 897.7,1161.4 898.3,1163.4 898.9,1165.2 899.5,1166.1 900.1,1165.2 900.7,1165.7 901.3,1165.1 901.9,1163.8 902.5,1162.4 903.1,1163.5 903.7,1161.0 904.3,1160.8 904.9,1162.0 905.5,1164.8 906.1,1164.0 906.7,1163.7 907.3,1163.6 907.9,1164.5 908.5,1165.1 909.1,1163.3 909.7,1162.4 910.3,1164.3 910.9,1164.2 911.5,1161.7 912.1,1162.0 912.7,1164.4 913.3,1165.1 913.8,1164.8 914.4,1163.0 915.0,1159.2 915.6,1157.8 916.2,1160.9 916.8,1163.8 917.4,1165.0 918.0,1166.5 918.6,1166.7 919.2,1164.0 919.8,1163.3 920.4,1165.1 921.0,1166.8 921.6,1165.8 922.2,1164.7 922.8,1162.3 923.4,1161.4 924.0,1160.7 924.6,1161.0 925.2,1162.0 925.8,1165.2 926.4,1165.5 927.0,1165.3 927.6,1164.6 928.2,1165.4" fill="none" stroke="#1f77b4" stroke-width="3.9" stroke-linejoin="round" stroke-linecap="butt" clip-path="url(#cl5)" />
<polyline points="955.9,199.0 957.4,197.9 958.9,196.8 960.4,195.6 961.9,194.5 963.4,193.3 964.9,192.2 966.4,191.0 967.9,189.9 969.4,188.6 970.9,187.4 972.4,186.1 973.9,184.8 975.4,183.4 976.9,182.0 978.4,180.5 979.9,178.9 981.4,177.3 982.9,175.6 984.4,173.8 985.9,172.0 987.4,170.1 988.9,168.1 990.4,166.1 991.9,164.0 993.4,161.9 994.9,159.7 996.4,157.4 997.9,155.1 999.4,152.7 1000.9,150.2 1002.4,147.7 1003.9,145.0 1005.4,142.3 1006.9,139.5 1008.4,136.6 1009.9,133.7 1011.4,130.7 1012.9,127.6 1014.4,124.5 1015.9,121.3 1017.4,118.1 1018.9,114.9 1020.4,111.6 1021.9,108.3 1023.4,105.0 1024.9,101.7 1026.4,98.5 1027.9,95.2 1029.4,92.0 1030.9,88.8 1032.4,85.7 1033.9,82.6 1035.4,79.5 1036.9,76.6 1038.4,73.7 1039.9,70.9 1041.4,68.2 1042.9,65.6 1044.4,63.1 1045.9,60.7 1047.4,58.4 1048.9,56.2 1050.4,54.2 1051.9,52.4 1053.4,50.7 1054.9,49.3 1056.4,48.0 1057.9,47.0 1059.4,46.2 1060.9,45.6 1062.4,45.2 1063.9,45.1 1065.4,45.2 1066.9,45.5 1068.4,46.0 1069.9,46.7 1071.4,47.7 1072.9,48.8 1074.4,50.0 1075.9,51.4 1077.4,53.0 1078.9,54.7 1080.4,56.5 1081.9,58.4 1083.4,60.4 1084.9,62.4 1086.4,64.5 1087.9,66.6 1089.4,68.8 1090.9,70.9 1092.4,73.1 1093.9,75.2 1095.4,77.3 1096.9,79.5 1098.4,81.6 1099.9,83.7 1101.4,85.7 1102.9,87.8 1104.4,89.7 1105.9,91.7 1107.4,93.6 1108.9,95.5 1110.4,97.3 1111.9,99.0 1113.4,100.6 1114.9,102.2 1116.4,103.7 1117.9,105.1 1119.4,106.5 1120.9,107.7 1122.4,108.9 1123.9,110.1 1125.4,111.1 1126.9,112.2 1128.4,113.1 1129.9,114.1 1131.4,114.9 1132.9,115.8 1134.4,116.6 1135.9,117.4 1137.4,118.1 1138.9,118.8 1140.4,119.5 1141.9,120.2 1143.4,120.9 1144.9,121.6 1146.4,122.3 1147.9,123.0 1149.4,123.7 1150.9,124.5 1152.4,125.3 1153.9,126.2 1155.4,127.1 1156.9,128.1 1158.4,129.2 1159.9,130.3 1161.4,131.6 1162.9,132.9 1164.4,134.3 1165.9,135.7 1167.4,137.3 1168.9,138.9 1170.4,140.6 1171.9,142.3 1173.4,144.1 1174.9,146.0 1176.4,147.9 1177.9,149.8 1179.4,151.8 1180.9,153.8 1182.4,155.8 1183.9,157.8 1185.4,159.8 1186.9,161.8 1188.4,163.9 1189.9,165.9 1191.4,167.9 1192.9,169.9 1194.4,171.9 1195.9,173.9 1197.4,175.9 1198.9,177.8 1200.4,179.8 1201.9,181.7 1203.4,183.5 1204.9,185.3 1206.4,187.1 1207.9,188.8 1209.4,190.4 1210.9,192.0 1212.4,193.5 1213.9,195.0 1215.4,196.4 1216.9,197.8 1218.4,199.2 1219.9,200.5 1221.4,201.7 1222.9,203.0 1224.4,204.2 1225.9,205.5 1227.4,206.7 1228.9,208.0 1230.4,209.3 1231.9,210.6 1233.4,211.9 1234.9,213.2 1236.4,214.6 1237.9,215.9 1239.4,217.3 1240.9,218.6 1242.4,220.0" fill="none" stroke="#1f77b4" stroke-width="4.37" stroke-linejoin="round" stroke-linecap="butt" clip-path="url(#cr0)" />
<line x1="1063.30" y1="205.05" x2="1063.30" y2="44.00" stroke="#1f77b4" stroke-width="4.37" stroke-dasharray="16.17 6.99"/>
<polyline points="955.9,405.4 957.4,404.2 958.9,403.1 960.4,402.0 961.9,400.8 963.4,399.7 964.9,398.5 966.4,397.4 967.9,396.2 969.4,395.0 970.9,393.7 972.4,392.5 973.9,391.1 975.4,389.8 976.9,388.3 978.4,386.8 979.9,385.2 981.4,383.6 982.9,381.9 984.4,380.1 985.9,378.3 987.4,376.4 988.9,374.4 990.4,372.4 991.9,370.4 993.4,368.3 994.9,366.2 996.4,364.1 997.9,361.9 999.4,359.6 1000.9,357.3 1002.4,354.8 1003.9,352.3 1005.4,349.7 1006.9,346.9 1008.4,344.1 1009.9,341.1 1011.4,338.1 1012.9,335.1 1014.4,332.0 1015.9,328.8 1017.4,325.6 1018.9,322.3 1020.4,319.1 1021.9,315.8 1023.4,312.5 1024.9,309.1 1026.4,305.8 1027.9,302.5 1029.4,299.1 1030.9,295.8 1032.4,292.5 1033.9,289.3 1035.4,286.2 1036.9,283.1 1038.4,280.1 1039.9,277.3 1041.4,274.5 1042.9,271.9 1044.4,269.4 1045.9,267.0 1047.4,264.7 1048.9,262.5 1050.4,260.4 1051.9,258.5 1053.4,256.8 1054.9,255.2 1056.4,253.8 1057.9,252.6 1059.4,251.6 1060.9,250.7 1062.4,250.0 1063.9,249.5 1065.4,249.1 1066.9,249.0 1068.4,249.0 1069.9,249.2 1071.4,249.6 1072.9,250.1 1074.4,250.9 1075.9,251.8 1077.4,253.0 1078.9,254.2 1080.4,255.6 1081.9,257.1 1083.4,258.7 1084.9,260.4 1086.4,262.2 1087.9,264.0 1089.4,265.9 1090.9,267.8 1092.4,269.7 1093.9,271.7 1095.4,273.8 1096.9,275.8 1098.4,277.9 1099.9,280.0 1101.4,282.0 1102.9,284.0 1104.4,285.9 1105.9,287.8 1107.4,289.6 1108.9,291.3 1110.4,293.0 1111.9,294.6 1113.4,296.2 1114.9,297.7 1116.4,299.2 1117.9,300.7 1119.4,302.1 1120.9,303.5 1122.4,304.8 1123.9,306.1 1125.4,307.3 1126.9,308.4 1128.4,309.5 1129.9,310.5 1131.4,311.5 1132.9,312.4 1134.4,313.3 1135.9,314.1 1137.4,314.9 1138.9,315.7 1140.4,316.5 1141.9,317.2 1143.4,318.0 1144.9,318.8 1146.4,319.6 1147.9,320.4 1149.4,321.3 1150.9,322.2 1152.4,323.1 1153.9,324.1 1155.4,325.2 1156.9,326.4 1158.4,327.6 1159.9,328.9 1161.4,330.3 1162.9,331.7 1164.4,333.3 1165.9,334.9 1167.4,336.6 1168.9,338.3 1170.4,340.2 1171.9,342.1 1173.4,344.0 1174.9,346.0 1176.4,348.1 1177.9,350.2 1179.4,352.3 1180.9,354.4 1182.4,356.6 1183.9,358.8 1185.4,360.9 1186.9,363.1 1188.4,365.3 1189.9,367.4 1191.4,369.5 1192.9,371.6 1194.4,373.7 1195.9,375.7 1197.4,377.7 1198.9,379.7 1200.4,381.7 1201.9,383.6 1203.4,385.5 1204.9,387.3 1206.4,389.1 1207.9,390.9 1209.4,392.6 1210.9,394.3 1212.4,396.0 1213.9,397.6 1215.4,399.2 1216.9,400.7 1218.4,402.3 1219.9,403.7 1221.4,405.2 1222.9,406.6 1224.4,408.0 1225.9,409.4 1227.4,410.8 1228.9,412.3 1230.4,413.7 1231.9,415.1 1233.4,416.6 1234.9,418.1 1236.4,419.5 1237.9,421.0 1239.4,422.5 1240.9,423.9" fill="none" stroke="#1f77b4" stroke-width="4.37" stroke-linejoin="round" stroke-linecap="butt" clip-path="url(#cr1)" />
<line x1="1067.30" y1="408.40" x2="1067.30" y2="248.10" stroke="#1f77b4" stroke-width="4.37" stroke-dasharray="16.17 6.99"/>
<polyline points="955.4,625.0 956.9,623.7 958.4,622.4 959.9,621.0 961.4,619.7 962.9,618.4 964.4,617.1 965.9,615.8 967.4,614.5 968.9,613.2 970.4,611.9 971.9,610.6 973.4,609.3 974.9,607.9 976.4,606.6 977.9,605.3 979.4,604.0 980.9,602.6 982.4,601.2 983.9,599.8 985.4,598.4 986.9,596.9 988.4,595.4 989.9,593.9 991.4,592.2 992.9,590.6 994.4,588.8 995.9,587.1 997.4,585.2 998.9,583.3 1000.4,581.3 1001.9,579.3 1003.4,577.1 1004.9,575.0 1006.4,572.7 1007.9,570.5 1009.4,568.1 1010.9,565.7 1012.4,563.3 1013.9,560.8 1015.4,558.3 1016.9,555.7 1018.4,553.1 1019.9,550.4 1021.4,547.7 1022.9,545.0 1024.4,542.2 1025.9,539.3 1027.4,536.4 1028.9,533.4 1030.4,530.3 1031.9,527.2 1033.4,524.1 1034.9,520.9 1036.4,517.7 1037.9,514.4 1039.4,511.2 1040.9,507.9 1042.4,504.6 1043.9,501.3 1045.4,498.0 1046.9,494.8 1048.4,491.6 1049.9,488.4 1051.4,485.3 1052.9,482.2 1054.4,479.2 1055.9,476.3 1057.4,473.4 1058.9,470.7 1060.4,468.0 1061.9,465.5 1063.4,463.1 1064.9,460.9 1066.4,458.8 1067.9,457.0 1069.4,455.3 1070.9,453.8 1072.4,452.6 1073.9,451.5 1075.4,450.6 1076.9,449.8 1078.4,449.2 1079.9,448.8 1081.4,448.6 1082.9,448.4 1084.4,448.5 1085.9,448.7 1087.4,449.0 1088.9,449.5 1090.4,450.2 1091.9,450.9 1093.4,451.8 1094.9,452.9 1096.4,454.1 1097.9,455.3 1099.4,456.7 1100.9,458.2 1102.4,459.7 1103.9,461.3 1105.4,462.9 1106.9,464.6 1108.4,466.4 1109.9,468.1 1111.4,469.9 1112.9,471.7 1114.4,473.4 1115.9,475.2 1117.4,476.9 1118.9,478.6 1120.4,480.3 1121.9,481.9 1123.4,483.6 1124.9,485.2 1126.4,486.8 1127.9,488.3 1129.4,489.8 1130.9,491.4 1132.4,492.9 1133.9,494.4 1135.4,495.9 1136.9,497.4 1138.4,499.0 1139.9,500.6 1141.4,502.2 1142.9,503.8 1144.4,505.5 1145.9,507.2 1147.4,509.1 1148.9,511.0 1150.4,513.0 1151.9,515.0 1153.4,517.2 1154.9,519.4 1156.4,521.7 1157.9,524.0 1159.4,526.4 1160.9,528.8 1162.4,531.3 1163.9,533.8 1165.4,536.3 1166.9,538.9 1168.4,541.4 1169.9,544.0 1171.4,546.6 1172.9,549.1 1174.4,551.7 1175.9,554.3 1177.4,556.8 1178.9,559.3 1180.4,561.8 1181.9,564.2 1183.4,566.7 1184.9,569.0 1186.4,571.4 1187.9,573.6 1189.4,575.9 1190.9,578.1 1192.4,580.3 1193.9,582.4 1195.4,584.5 1196.9,586.6 1198.4,588.6 1199.9,590.5 1201.4,592.4 1202.9,594.3 1204.4,596.1 1205.9,597.9 1207.4,599.5 1208.9,601.2 1210.4,602.7 1211.9,604.3 1213.4,605.8 1214.9,607.3 1216.4,608.7 1217.9,610.1 1219.4,611.5 1220.9,612.9 1222.4,614.3 1223.9,615.7 1225.4,617.1 1226.9,618.5 1228.4,619.8 1229.9,621.2 1231.4,622.5 1232.9,623.9 1234.4,625.2" fill="none" stroke="#1f77b4" stroke-width="4.37" stroke-linejoin="round" stroke-linecap="butt" clip-path="url(#cr2)" />
<line x1="1084.00" y1="611.60" x2="1084.00" y2="447.80" stroke="#1f77b4" stroke-width="4.37" stroke-dasharray="16.17 6.99"/>
<polyline points="979.9,830.2 981.4,828.7 982.9,827.2 984.4,825.7 985.9,824.2 987.4,822.7 988.9,821.2 990.4,819.7 991.9,818.2 993.4,816.7 994.9,815.3 996.4,813.8 997.9,812.3 999.4,810.7 1000.9,809.2 1002.4,807.6 1003.9,805.9 1005.4,804.2 1006.9,802.4 1008.4,800.6 1009.9,798.7 1011.4,796.7 1012.9,794.7 1014.4,792.6 1015.9,790.6 1017.4,788.4 1018.9,786.2 1020.4,784.0 1021.9,781.8 1023.4,779.5 1024.9,777.2 1026.4,774.9 1027.9,772.5 1029.4,770.2 1030.9,767.8 1032.4,765.4 1033.9,763.0 1035.4,760.6 1036.9,758.3 1038.4,755.9 1039.9,753.6 1041.4,751.3 1042.9,749.0 1044.4,746.8 1045.9,744.7 1047.4,742.6 1048.9,740.5 1050.4,738.6 1051.9,736.8 1053.4,735.1 1054.9,733.4 1056.4,731.9 1057.9,730.6 1059.4,729.3 1060.9,728.1 1062.4,727.0 1063.9,726.0 1065.4,725.1 1066.9,724.2 1068.4,723.4 1069.9,722.7 1071.4,722.0 1072.9,721.3 1074.4,720.7 1075.9,720.1 1077.4,719.5 1078.9,718.9 1080.4,718.3 1081.9,717.7 1083.4,717.1 1084.9,716.4 1086.4,715.8 1087.9,715.1 1089.4,714.3 1090.9,713.5 1092.4,712.6 1093.9,711.6 1095.4,710.6 1096.9,709.5 1098.4,708.4 1099.9,707.2 1101.4,705.9 1102.9,704.6 1104.4,703.3 1105.9,701.9 1107.4,700.5 1108.9,699.1 1110.4,697.6 1111.9,696.0 1113.4,694.5 1114.9,692.8 1116.4,691.2 1117.9,689.5 1119.4,687.7 1120.9,685.9 1122.4,684.2 1123.9,682.4 1125.4,680.6 1126.9,678.9 1128.4,677.1 1129.9,675.4 1131.4,673.7 1132.9,672.1 1134.4,670.5 1135.9,669.0 1137.4,667.5 1138.9,666.1 1140.4,664.7 1141.9,663.5 1143.4,662.3 1144.9,661.3 1146.4,660.4 1147.9,659.5 1149.4,658.9 1150.9,658.3 1152.4,658.0 1153.9,657.8 1155.4,657.8 1156.9,658.0 1158.4,658.4 1159.9,659.1 1161.4,659.9 1162.9,661.0 1164.4,662.2 1165.9,663.6 1167.4,665.1 1168.9,666.8 1170.4,668.7 1171.9,670.6 1173.4,672.7 1174.9,675.0 1176.4,677.3 1177.9,679.7 1179.4,682.2 1180.9,684.8 1182.4,687.5 1183.9,690.2 1185.4,693.1 1186.9,696.0 1188.4,699.0 1189.9,702.0 1191.4,705.1 1192.9,708.3 1194.4,711.5 1195.9,714.7 1197.4,718.0 1198.9,721.2 1200.4,724.5 1201.9,727.7 1203.4,731.0 1204.9,734.2 1206.4,737.3 1207.9,740.4 1209.4,743.4 1210.9,746.4 1212.4,749.4 1213.9,752.3 1215.4,755.1 1216.9,757.8 1218.4,760.5 1219.9,763.2 1221.4,765.7 1222.9,768.2 1224.4,770.6 1225.9,773.0 1227.4,775.2 1228.9,777.4 1230.4,779.5 1231.9,781.5 1233.4,783.4 1234.9,785.3 1236.4,787.1 1237.9,788.8 1239.4,790.5 1240.9,792.1 1242.4,793.7 1243.9,795.2 1245.4,796.6 1246.9,798.1 1248.4,799.4 1249.9,800.7 1251.4,802.0 1252.9,803.2 1254.4,804.4 1255.9,805.5 1257.4,806.7 1258.9,807.8 1260.4,808.9 1261.9,810.0 1263.4,811.1" fill="none" stroke="#1f77b4" stroke-width="4.37" stroke-linejoin="round" stroke-linecap="butt" clip-path="url(#cr3)" />
<line x1="1155.00" y1="814.40" x2="1155.00" y2="656.80" stroke="#1f77b4" stroke-width="4.37" stroke-dasharray="16.17 6.99"/>
<polyline points="955.9,1115.5 957.4,1114.4 958.9,1113.4 960.4,1112.4 961.9,1111.4 963.4,1110.4 964.9,1109.3 966.4,1108.3 967.9,1107.3 969.4,1106.3 970.9,1105.2 972.4,1104.2 973.9,1103.2 975.4,1102.2 976.9,1101.2 978.4,1100.2 979.9,1099.1 981.4,1098.1 982.9,1097.1 984.4,1096.1 985.9,1095.1 987.4,1094.1 988.9,1093.1 990.4,1092.1 991.9,1091.1 993.4,1090.1 994.9,1089.1 996.4,1088.1 997.9,1087.1 999.4,1086.1 1000.9,1085.1 1002.4,1084.0 1003.9,1083.0 1005.4,1082.0 1006.9,1081.0 1008.4,1080.0 1009.9,1078.9 1011.4,1077.9 1012.9,1076.8 1014.4,1075.8 1015.9,1074.8 1017.4,1073.7 1018.9,1072.7 1020.4,1071.6 1021.9,1070.5 1023.4,1069.5 1024.9,1068.4 1026.4,1067.3 1027.9,1066.2 1029.4,1065.1 1030.9,1064.0 1032.4,1062.9 1033.9,1061.8 1035.4,1060.7 1036.9,1059.6 1038.4,1058.4 1039.9,1057.3 1041.4,1056.1 1042.9,1055.0 1044.4,1053.8 1045.9,1052.6 1047.4,1051.4 1048.9,1050.1 1050.4,1048.9 1051.9,1047.6 1053.4,1046.4 1054.9,1045.1 1056.4,1043.8 1057.9,1042.5 1059.4,1041.1 1060.9,1039.8 1062.4,1038.4 1063.9,1037.0 1065.4,1035.6 1066.9,1034.2 1068.4,1032.8 1069.9,1031.3 1071.4,1029.8 1072.9,1028.3 1074.4,1026.8 1075.9,1025.3 1077.4,1023.7 1078.9,1022.2 1080.4,1020.6 1081.9,1019.0 1083.4,1017.4 1084.9,1015.7 1086.4,1014.1 1087.9,1012.4 1089.4,1010.8 1090.9,1009.1 1092.4,1007.4 1093.9,1005.7 1095.4,1004.0 1096.9,1002.3 1098.4,1000.5 1099.9,998.7 1101.4,996.8 1102.9,995.0 1104.4,993.1 1105.9,991.2 1107.4,989.3 1108.9,987.3 1110.4,985.4 1111.9,983.5 1113.4,981.5 1114.9,979.6 1116.4,977.7 1117.9,975.9 1119.4,974.0 1120.9,972.2 1122.4,970.4 1123.9,968.7 1125.4,966.9 1126.9,965.3 1128.4,963.6 1129.9,962.0 1131.4,960.5 1132.9,959.0 1134.4,957.6 1135.9,956.2 1137.4,954.9 1138.9,953.6 1140.4,952.4 1141.9,951.3 1143.4,950.2 1144.9,949.2 1146.4,948.2 1147.9,947.3 1149.4,946.5 1150.9,945.8 1152.4,945.2 1153.9,944.6 1155.4,944.1 1156.9,943.6 1158.4,943.3 1159.9,943.0 1161.4,942.8 1162.9,942.6 1164.4,942.6 1165.9,942.6 1167.4,942.7 1168.9,942.9 1170.4,943.2 1171.9,943.6 1173.4,944.1 1174.9,944.7 1176.4,945.4 1177.9,946.2 1179.4,947.1 1180.9,948.1 1182.4,949.1 1183.9,950.3 1185.4,951.5 1186.9,952.8 1188.4,954.1 1189.9,955.5 1191.4,956.9 1192.9,958.4 1194.4,959.9 1195.9,961.5 1197.4,963.1 1198.9,964.7 1200.4,966.4 1201.9,968.0 1203.4,969.8 1204.9,971.5 1206.4,973.2 1207.9,975.0 1209.4,976.8 1210.9,978.6 1212.4,980.4 1213.9,982.3 1215.4,984.1 1216.9,986.0 1218.4,987.9 1219.9,989.9 1221.4,991.8 1222.9,993.7 1224.4,995.7 1225.9,997.6 1227.4,999.4 1228.9,1001.3 1230.4,1003.2 1231.9,1005.0 1233.4,1006.8 1234.9,1008.5 1236.4,1010.3 1237.9,1012.0 1239.4,1013.7 1240.9,1015.4 1242.4,1017.1 1243.9,1018.7 1245.4,1020.4 1246.9,1022.0 1248.4,1023.6 1249.9,1025.1 1251.4,1026.7 1252.9,1028.2 1254.4,1029.7 1255.9,1031.1 1257.4,1032.6 1258.9,1034.1 1260.4,1035.5 1261.9,1037.0 1263.4,1038.4" fill="none" stroke="#1f77b4" stroke-width="4.37" stroke-linejoin="round" stroke-linecap="butt" clip-path="url(#cr4)" />
<line x1="1164.40" y1="1119.40" x2="1164.40" y2="942.20" stroke="#1f77b4" stroke-width="4.37" stroke-dasharray="16.17 6.99"/>
<polyline points="956.7,1243.8 958.2,1242.5 959.7,1241.2 961.2,1239.9 962.7,1238.6 964.2,1237.3 965.7,1236.0 967.2,1234.7 968.7,1233.4 970.2,1232.0 971.7,1230.7 973.2,1229.3 974.7,1228.0 976.2,1226.6 977.7,1225.2 979.2,1223.8 980.7,1222.3 982.2,1220.9 983.7,1219.3 985.2,1217.8 986.7,1216.2 988.2,1214.5 989.7,1212.8 991.2,1211.0 992.7,1209.1 994.2,1207.3 995.7,1205.3 997.2,1203.3 998.7,1201.3 1000.2,1199.3 1001.7,1197.2 1003.2,1195.2 1004.7,1193.1 1006.2,1191.0 1007.7,1188.9 1009.2,1186.8 1010.7,1184.8 1012.2,1182.8 1013.7,1180.8 1015.2,1178.8 1016.7,1176.9 1018.2,1175.1 1019.7,1173.3 1021.2,1171.5 1022.7,1169.7 1024.2,1168.0 1025.7,1166.3 1027.2,1164.7 1028.7,1163.1 1030.2,1161.5 1031.7,1160.0 1033.2,1158.5 1034.7,1157.2 1036.2,1155.9 1037.7,1154.6 1039.2,1153.5 1040.7,1152.4 1042.2,1151.5 1043.7,1150.6 1045.2,1149.7 1046.7,1149.0 1048.2,1148.3 1049.7,1147.7 1051.2,1147.1 1052.7,1146.6 1054.2,1146.2 1055.7,1145.8 1057.2,1145.5 1058.7,1145.4 1060.2,1145.2 1061.7,1145.2 1063.2,1145.3 1064.7,1145.5 1066.2,1145.7 1067.7,1146.1 1069.2,1146.5 1070.7,1147.1 1072.2,1147.7 1073.7,1148.4 1075.2,1149.2 1076.7,1150.0 1078.2,1150.9 1079.7,1151.8 1081.2,1152.8 1082.7,1153.8 1084.2,1154.9 1085.7,1156.0 1087.2,1157.2 1088.7,1158.4 1090.2,1159.6 1091.7,1160.9 1093.2,1162.2 1094.7,1163.6 1096.2,1165.0 1097.7,1166.5 1099.2,1168.0 1100.7,1169.5 1102.2,1171.1 1103.7,1172.7 1105.2,1174.4 1106.7,1176.0 1108.2,1177.7 1109.7,1179.4 1111.2,1181.1 1112.7,1182.9 1114.2,1184.7 1115.7,1186.4 1117.2,1188.2 1118.7,1190.0 1120.2,1191.8 1121.7,1193.7 1123.2,1195.5 1124.7,1197.3 1126.2,1199.1 1127.7,1200.9 1129.2,1202.7 1130.7,1204.5 1132.2,1206.3 1133.7,1208.0 1135.2,1209.8 1136.7,1211.5 1138.2,1213.2 1139.7,1214.9 1141.2,1216.5 1142.7,1218.2 1144.2,1219.8 1145.7,1221.5 1147.2,1223.1 1148.7,1224.8 1150.2,1226.5 1151.7,1228.1 1153.2,1229.8 1154.7,1231.4 1156.2,1233.0 1157.7,1234.6 1159.2,1236.2 1160.7,1237.8 1162.2,1239.3 1163.7,1240.8 1165.2,1242.2 1166.7,1243.7 1168.2,1245.1 1169.7,1246.5 1171.2,1247.9 1172.7,1249.3 1174.2,1250.7 1175.7,1252.0 1177.2,1253.4 1178.7,1254.7 1180.2,1256.0 1181.7,1257.3 1183.2,1258.6 1184.7,1259.8 1186.2,1261.1 1187.7,1262.3 1189.2,1263.5 1190.7,1264.7 1192.2,1265.9 1193.7,1267.1 1195.2,1268.3 1196.7,1269.4 1198.2,1270.5 1199.7,1271.7 1201.2,1272.8 1202.7,1273.9 1204.2,1274.9 1205.7,1276.0 1207.2,1277.1 1208.7,1278.1 1210.2,1279.2 1211.7,1280.2 1213.2,1281.2 1214.7,1282.2 1216.2,1283.3 1217.7,1284.3 1219.2,1285.3 1220.7,1286.3 1222.2,1287.3 1223.7,1288.2 1225.2,1289.2 1226.7,1290.2 1228.2,1291.1 1229.7,1292.1 1231.2,1293.0 1232.7,1294.0 1234.2,1294.9 1235.7,1295.9 1237.2,1296.8 1238.7,1297.7 1240.2,1298.7 1241.7,1299.6 1243.2,1300.5 1244.7,1301.4 1246.2,1302.3 1247.7,1303.3 1249.2,1304.2 1250.7,1305.1 1252.2,1306.0 1253.7,1306.9 1255.2,1307.8 1256.7,1308.7 1258.2,1309.5 1259.7,1310.4 1261.2,1311.3 1262.7,1312.2" fill="none" stroke="#1f77b4" stroke-width="4.37" stroke-linejoin="round" stroke-linecap="butt" clip-path="url(#cr5)" />
<line x1="1061.00" y1="1322.80" x2="1061.00" y2="1144.80" stroke="#1f77b4" stroke-width="4.37" stroke-dasharray="16.17 6.99"/>
</g>
<g id="frames">
<rect x="91.10" y="1.60" width="837.10" height="203.45" fill="none" stroke="#000" stroke-width="3.8"/>
<rect x="91.10" y="205.05" width="837.10" height="203.35" fill="none" stroke="#000" stroke-width="3.8"/>
<rect x="91.10" y="408.40" width="837.10" height="203.20" fill="none" stroke="#000" stroke-width="3.8"/>
<rect x="91.10" y="611.60" width="837.10" height="202.80" fill="none" stroke="#000" stroke-width="3.8"/>
<rect x="91.10" y="916.10" width="837.10" height="203.30" fill="none" stroke="#000" stroke-width="3.8"/>
<rect x="91.10" y="1119.40" width="837.10" height="203.40" fill="none" stroke="#000" stroke-width="3.8"/>
<rect x="965.00" y="1.60" width="289.30" height="203.45" fill="none" stroke="#000" stroke-width="3.8"/>
<rect x="965.00" y="205.05" width="289.30" height="203.35" fill="none" stroke="#000" stroke-width="3.8"/>
<rect x="965.00" y="408.40" width="289.30" height="203.20" fill="none" stroke="#000" stroke-width="3.8"/>
<rect x="965.00" y="611.60" width="289.30" height="202.80" fill="none" stroke="#000" stroke-width="3.8"/>
<rect x="965.00" y="916.10" width="289.30" height="203.30" fill="none" stroke="#000" stroke-width="3.8"/>
<rect x="965.00" y="1119.40" width="289.30" height="203.40" fill="none" stroke="#000" stroke-width="3.8"/>
</g>
<g id="labels">
<text x="86.60" y="59.81" font-size="37.5" text-anchor="end" font-family="'Liberation Serif', 'DejaVu Serif', serif" >1.0</text>
<text x="86.60" y="172.84" font-size="37.5" text-anchor="end" font-family="'Liberation Serif', 'DejaVu Serif', serif" >0.5</text>
<text x="86.60" y="263.24" font-size="37.5" text-anchor="end" font-family="'Liberation Serif', 'DejaVu Serif', serif" >1.0</text>
<text x="86.60" y="376.21" font-size="37.5" text-anchor="end" font-family="'Liberation Serif', 'DejaVu Serif', serif" >0.5</text>
<text x="86.60" y="466.56" font-size="37.5" text-anchor="end" font-family="'Liberation Serif', 'DejaVu Serif', serif" >1.0</text>
<text x="86.60" y="579.44" font-size="37.5" text-anchor="end" font-family="'Liberation Serif', 'DejaVu Serif', serif" >0.5</text>
<text x="86.60" y="669.67" font-size="37.5" text-anchor="end" font-family="'Liberation Serif', 'DejaVu Serif', serif" >1.0</text>
<text x="86.60" y="782.33" font-size="37.5" text-anchor="end" font-family="'Liberation Serif', 'DejaVu Serif', serif" >0.5</text>
<text x="86.60" y="974.28" font-size="37.5" text-anchor="end" font-family="'Liberation Serif', 'DejaVu Serif', serif" >1.0</text>
<text x="86.60" y="1087.22" font-size="37.5" text-anchor="end" font-family="'Liberation Serif', 'DejaVu Serif', serif" >0.5</text>
<text x="86.60" y="1177.60" font-size="37.5" text-anchor="end" font-family="'Liberation Serif', 'DejaVu Serif', serif" >1.0</text>
<text x="86.60" y="1290.60" font-size="37.5" text-anchor="end" font-family="'Liberation Serif', 'DejaVu Serif', serif" >0.5</text>
<text x="1261.20" y="43.66" font-size="37.5" text-anchor="start" font-family="'Liberation Serif', 'DejaVu Serif', serif" >1.0</text>
<text x="1261.20" y="188.99" font-size="37.5" text-anchor="start" font-family="'Liberation Serif', 'DejaVu Serif', serif" >0.5</text>
<text x="1261.20" y="247.10" font-size="37.5" text-anchor="start" font-family="'Liberation Serif', 'DejaVu Serif', serif" >1.0</text>
<text x="1261.20" y="392.35" font-size="37.5" text-anchor="start" font-family="'Liberation Serif', 'DejaVu Serif', serif" >0.5</text>
<text x="1261.20" y="450.43" font-size="37.5" text-anchor="start" font-family="'Liberation Serif', 'DejaVu Serif', serif" >1.0</text>
<text x="1261.20" y="595.57" font-size="37.5" text-anchor="start" font-family="'Liberation Serif', 'DejaVu Serif', serif" >0.5</text>
<text x="1261.20" y="653.57" font-size="37.5" text-anchor="start" font-family="'Liberation Serif', 'DejaVu Serif', serif" >1.0</text>
<text x="1261.20" y="798.43" font-size="37.5" text-anchor="start" font-family="'Liberation Serif', 'DejaVu Serif', serif" >0.5</text>
<text x="1028.29" y="845.80" font-size="37.5" text-anchor="middle" font-family="'Liberation Serif', 'DejaVu Serif', serif" >−100</text>
<text x="1109.65" y="845.80" font-size="37.5" text-anchor="middle" font-family="'Liberation Serif', 'DejaVu Serif', serif" >0</text>
<text x="1190.01" y="845.80" font-size="37.5" text-anchor="middle" font-family="'Liberation Serif', 'DejaVu Serif', serif" >100</text>
<text x="1261.20" y="954.51" font-size="37.5" text-anchor="start" font-family="'Liberation Serif', 'DejaVu Serif', serif" >1.0</text>
<text x="1261.20" y="1081.58" font-size="37.5" text-anchor="start" font-family="'Liberation Serif', 'DejaVu Serif', serif" >0.5</text>
<text x="1261.20" y="1157.83" font-size="37.5" text-anchor="start" font-family="'Liberation Serif', 'DejaVu Serif', serif" >1.0</text>
<text x="1261.20" y="1284.95" font-size="37.5" text-anchor="start" font-family="'Liberation Serif', 'DejaVu Serif', serif" >0.5</text>
<text x="988.11" y="1354.20" font-size="37.5" text-anchor="middle" font-family="'Liberation Serif', 'DejaVu Serif', serif" >−200</text>
<text x="1109.65" y="1354.20" font-size="37.5" text-anchor="middle" font-family="'Liberation Serif', 'DejaVu Serif', serif" >0</text>
<text x="1230.19" y="1354.20" font-size="37.5" text-anchor="middle" font-family="'Liberation Serif', 'DejaVu Serif', serif" >200</text>
<text x="210.69" y="845.90" font-size="37.5" text-anchor="middle" font-family="'Liberation Serif', 'DejaVu Serif', serif" >6500</text>
<text x="360.17" y="845.90" font-size="37.5" text-anchor="middle" font-family="'Liberation Serif', 'DejaVu Serif', serif" >6550</text>
<text x="509.65" y="845.90" font-size="37.5" text-anchor="middle" font-family="'Liberation Serif', 'DejaVu Serif', serif" >6600</text>
<text x="659.13" y="845.90" font-size="37.5" text-anchor="middle" font-family="'Liberation Serif', 'DejaVu Serif', serif" >6650</text>
<text x="808.61" y="845.90" font-size="37.5" text-anchor="middle" font-family="'Liberation Serif', 'DejaVu Serif', serif" >6700</text>
<text x="508.6" y="894.6" font-size="37.5" text-anchor="middle" font-family="'Liberation Serif', 'DejaVu Serif', serif">Wavelength [<tspan font-family="'DejaVu Sans', 'Liberation Sans', sans-serif" font-size="37" dx="0.8">Å</tspan><tspan dx="0.8">]</tspan></text>
<text x="1108.6" y="893.0" font-size="37.5" text-anchor="middle" font-family="'Liberation Serif', 'DejaVu Serif', serif"><tspan letter-spacing="0.27">Velocity[km s</tspan><tspan font-family="'DejaVu Sans', 'Liberation Sans', sans-serif" font-size="26" dx="2.0" dy="-14.5">−1</tspan><tspan dx="1" dy="16.5">]</tspan></text>
<text x="210.69" y="1354.30" font-size="37.5" text-anchor="middle" font-family="'Liberation Serif', 'DejaVu Serif', serif" >6500</text>
<text x="360.17" y="1354.30" font-size="37.5" text-anchor="middle" font-family="'Liberation Serif', 'DejaVu Serif', serif" >6550</text>
<text x="509.65" y="1354.30" font-size="37.5" text-anchor="middle" font-family="'Liberation Serif', 'DejaVu Serif', serif" >6600</text>
<text x="659.13" y="1354.30" font-size="37.5" text-anchor="middle" font-family="'Liberation Serif', 'DejaVu Serif', serif" >6650</text>
<text x="808.61" y="1354.30" font-size="37.5" text-anchor="middle" font-family="'Liberation Serif', 'DejaVu Serif', serif" >6700</text>
<text x="508.6" y="1403.0" font-size="37.5" text-anchor="middle" font-family="'Liberation Serif', 'DejaVu Serif', serif">Wavelength [<tspan font-family="'DejaVu Sans', 'Liberation Sans', sans-serif" font-size="37" dx="0.8">Å</tspan><tspan dx="0.8">]</tspan></text>
<text x="1108.6" y="1401.4" font-size="37.5" text-anchor="middle" font-family="'Liberation Serif', 'DejaVu Serif', serif"><tspan letter-spacing="0.27">Velocity[km s</tspan><tspan font-family="'DejaVu Sans', 'Liberation Sans', sans-serif" font-size="26" dx="2.0" dy="-14.5">−1</tspan><tspan dx="1" dy="16.5">]</tspan></text>
<text transform="translate(26,306.7) rotate(-90)" font-size="37.5" text-anchor="middle" font-family="'Liberation Serif', 'DejaVu Serif', serif">Normalized Flux</text>
<text transform="translate(1324,306.7) rotate(90)" font-size="37.5" text-anchor="middle" font-family="'Liberation Serif', 'DejaVu Serif', serif">CCF</text>
<text transform="translate(26,1017.7) rotate(-90)" font-size="37.5" text-anchor="middle" font-family="'Liberation Serif', 'DejaVu Serif', serif">Normalized Flux</text>
<text transform="translate(1324,1017.7) rotate(90)" font-size="37.5" text-anchor="middle" font-family="'Liberation Serif', 'DejaVu Serif', serif">CCF</text>
<text x="904.50" y="792.10" font-size="37.3" text-anchor="end" font-family="'Liberation Serif', 'DejaVu Serif', serif" >J061400</text>
<text x="903.50" y="1300.20" font-size="36.8" text-anchor="end" font-family="'Liberation Serif', 'DejaVu Serif', serif" >J075855</text>
<line x1="607.00" y1="136.90" x2="658.00" y2="136.90" stroke="#1f77b4" stroke-width="3.8" />
<line x1="607.00" y1="170.30" x2="658.00" y2="170.30" stroke="#9467bd" stroke-width="3.8" stroke-opacity="0.72"/>
<text x="675.30" y="144.70" font-size="23.8" text-anchor="start" font-family="'Liberation Serif', 'DejaVu Serif', serif" >Combined spectrum</text>
<text x="675.30" y="178.30" font-size="23.8" text-anchor="start" font-family="'Liberation Serif', 'DejaVu Serif', serif" >Template spectrum - 0.1</text>
<line x1="607.00" y1="1051.40" x2="658.00" y2="1051.40" stroke="#1f77b4" stroke-width="3.8" />
<line x1="607.00" y1="1084.80" x2="658.00" y2="1084.80" stroke="#9467bd" stroke-width="3.8" stroke-opacity="0.72"/>
<text x="675.30" y="1059.20" font-size="23.8" text-anchor="start" font-family="'Liberation Serif', 'DejaVu Serif', serif" >Combined spectrum</text>
<text x="675.30" y="1092.80" font-size="23.8" text-anchor="start" font-family="'Liberation Serif', 'DejaVu Serif', serif" >Template spectrum - 0.1</text>
<line x1="952.00" y1="1138.20" x2="963.00" y2="1138.20" stroke="#000" stroke-width="2.0" />
<path d="M1255.5 1130.5 Q1258.6 1137.5 1255.5 1144.5 Z" fill="#000"/>
</g>
</svg>
</body></html>
